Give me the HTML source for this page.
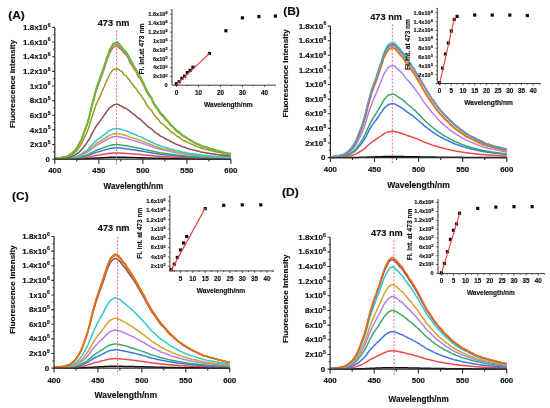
<!DOCTYPE html>
<html><head><meta charset="utf-8"><style>
html,body{margin:0;padding:0;background:#fff;}
svg{display:block;}
</style></head><body>
<svg width="550" height="408" viewBox="0 0 550 408">
<defs><filter id="soft" x="0" y="0" width="100%" height="100%" filterUnits="userSpaceOnUse"><feGaussianBlur stdDeviation="0.35"/></filter></defs>
<rect width="550" height="408" fill="#ffffff"/>
<g filter="url(#soft)">
<path d="M54.8,159.19 L55.68,159.19 L56.56,159.19 L57.44,159.18 L58.32,159.18 L59.2,159.18 L60.08,159.18 L60.96,159.18 L61.84,159.17 L62.72,159.17 L63.6,159.16 L64.49,159.16 L65.37,159.16 L66.25,159.16 L67.13,159.15 L68.01,159.14 L68.89,159.14 L69.77,159.13 L70.65,159.12 L71.53,159.1 L72.41,159.09 L73.29,159.08 L74.17,159.06 L75.05,159.05 L75.93,159.03 L76.81,159.01 L77.69,158.98 L78.57,158.96 L79.45,158.93 L80.33,158.91 L81.22,158.87 L82.1,158.84 L82.98,158.79 L83.86,158.75 L84.74,158.71 L85.62,158.68 L86.5,158.63 L87.38,158.59 L88.26,158.54 L89.14,158.49 L90.02,158.42 L90.9,158.35 L91.78,158.29 L92.66,158.24 L93.54,158.18 L94.42,158.12 L95.3,158.06 L96.18,158.01 L97.06,157.96 L97.94,157.92 L98.83,157.88 L99.71,157.84 L100.59,157.8 L101.47,157.75 L102.35,157.71 L103.23,157.67 L104.11,157.63 L104.99,157.58 L105.87,157.53 L106.75,157.49 L107.63,157.44 L108.51,157.41 L109.39,157.36 L110.27,157.33 L111.15,157.3 L112.03,157.28 L112.91,157.25 L113.79,157.24 L114.67,157.24 L115.55,157.23 L116.44,157.22 L117.32,157.22 L118.2,157.23 L119.08,157.24 L119.96,157.26 L120.84,157.26 L121.72,157.28 L122.6,157.3 L123.48,157.34 L124.36,157.35 L125.24,157.36 L126.12,157.37 L127,157.39 L127.88,157.41 L128.76,157.43 L129.64,157.47 L130.52,157.49 L131.4,157.51 L132.28,157.54 L133.16,157.56 L134.05,157.59 L134.93,157.6 L135.81,157.61 L136.69,157.64 L137.57,157.67 L138.45,157.7 L139.33,157.72 L140.21,157.74 L141.09,157.76 L141.97,157.79 L142.85,157.82 L143.73,157.85 L144.61,157.87 L145.49,157.9 L146.37,157.93 L147.25,157.96 L148.13,157.98 L149.01,158.01 L149.89,158.02 L150.77,158.05 L151.66,158.07 L152.54,158.12 L153.42,158.15 L154.3,158.17 L155.18,158.18 L156.06,158.21 L156.94,158.23 L157.82,158.25 L158.7,158.27 L159.58,158.3 L160.46,158.33 L161.34,158.35 L162.22,158.36 L163.1,158.37 L163.98,158.39 L164.86,158.41 L165.74,158.43 L166.62,158.43 L167.5,158.45 L168.38,158.47 L169.27,158.49 L170.15,158.51 L171.03,158.54 L171.91,158.55 L172.79,158.56 L173.67,158.58 L174.55,158.6 L175.43,158.61 L176.31,158.62 L177.19,158.64 L178.07,158.65 L178.95,158.66 L179.83,158.67 L180.71,158.68 L181.59,158.7 L182.47,158.72 L183.35,158.73 L184.23,158.74 L185.11,158.74 L185.99,158.76 L186.88,158.77 L187.76,158.78 L188.64,158.79 L189.52,158.8 L190.4,158.81 L191.28,158.82 L192.16,158.83 L193.04,158.84 L193.92,158.85 L194.8,158.85 L195.68,158.86 L196.56,158.87 L197.44,158.88 L198.32,158.88 L199.2,158.89 L200.08,158.9 L200.96,158.91 L201.84,158.92 L202.72,158.92 L203.6,158.93 L204.49,158.93 L205.37,158.94 L206.25,158.95 L207.13,158.95 L208.01,158.96 L208.89,158.97 L209.77,158.97 L210.65,158.98 L211.53,158.98 L212.41,158.99 L213.29,158.98 L214.17,158.99 L215.05,159 L215.93,159.01 L216.81,159.01 L217.69,159.01 L218.57,159.02 L219.45,159.02 L220.33,159.03 L221.21,159.03 L222.1,159.03 L222.98,159.04 L223.86,159.04 L224.74,159.05 L225.62,159.06 L226.5,159.06 L227.38,159.06 L228.26,159.06 L229.14,159.06 L230.02,159.07 L230.9,159.07" fill="none" stroke="#111111" stroke-width="1.5" stroke-linejoin="round"/>
<path d="M54.8,159.16 L55.68,159.15 L56.56,159.15 L57.44,159.14 L58.32,159.14 L59.2,159.13 L60.08,159.13 L60.96,159.12 L61.84,159.1 L62.72,159.1 L63.6,159.08 L64.49,159.08 L65.37,159.06 L66.25,159.06 L67.13,159.04 L68.01,159.02 L68.89,158.99 L69.77,158.96 L70.65,158.93 L71.53,158.89 L72.41,158.85 L73.29,158.8 L74.17,158.76 L75.05,158.71 L75.93,158.65 L76.81,158.58 L77.69,158.51 L78.57,158.43 L79.45,158.35 L80.33,158.26 L81.22,158.16 L82.1,158.04 L82.98,157.9 L83.86,157.77 L84.74,157.64 L85.62,157.54 L86.5,157.39 L87.38,157.27 L88.26,157.09 L89.14,156.93 L90.02,156.72 L90.9,156.52 L91.78,156.32 L92.66,156.13 L93.54,155.96 L94.42,155.76 L95.3,155.58 L96.18,155.41 L97.06,155.25 L97.94,155.13 L98.83,155.02 L99.71,154.9 L100.59,154.74 L101.47,154.58 L102.35,154.44 L103.23,154.31 L104.11,154.2 L104.99,154.03 L105.87,153.89 L106.75,153.72 L107.63,153.59 L108.51,153.48 L109.39,153.34 L110.27,153.27 L111.15,153.16 L112.03,153.07 L112.91,152.96 L113.79,152.95 L114.67,152.98 L115.55,152.96 L116.44,152.93 L117.32,152.9 L118.2,152.94 L119.08,152.97 L119.96,153.04 L120.84,153.06 L121.72,153.13 L122.6,153.17 L123.48,153.26 L124.36,153.3 L125.24,153.36 L126.12,153.38 L127,153.44 L127.88,153.51 L128.76,153.6 L129.64,153.7 L130.52,153.78 L131.4,153.81 L132.28,153.89 L133.16,153.95 L134.05,154.04 L134.93,154.09 L135.81,154.15 L136.69,154.24 L137.57,154.34 L138.45,154.44 L139.33,154.48 L140.21,154.53 L141.09,154.59 L141.97,154.7 L142.85,154.79 L143.73,154.89 L144.61,154.95 L145.49,155.05 L146.37,155.14 L147.25,155.24 L148.13,155.32 L149.01,155.41 L149.89,155.48 L150.77,155.55 L151.66,155.6 L152.54,155.74 L153.42,155.83 L154.3,155.94 L155.18,155.98 L156.06,156.07 L156.94,156.13 L157.82,156.2 L158.7,156.25 L159.58,156.34 L160.46,156.43 L161.34,156.48 L162.22,156.53 L163.1,156.55 L163.98,156.61 L164.86,156.67 L165.74,156.75 L166.62,156.79 L167.5,156.85 L168.38,156.89 L169.27,156.97 L170.15,157.03 L171.03,157.1 L171.91,157.13 L172.79,157.16 L173.67,157.2 L174.55,157.27 L175.43,157.32 L176.31,157.37 L177.19,157.42 L178.07,157.46 L178.95,157.48 L179.83,157.51 L180.71,157.56 L181.59,157.63 L182.47,157.68 L183.35,157.71 L184.23,157.73 L185.11,157.76 L185.99,157.8 L186.88,157.84 L187.76,157.87 L188.64,157.91 L189.52,157.94 L190.4,157.97 L191.28,158 L192.16,158.02 L193.04,158.05 L193.92,158.07 L194.8,158.09 L195.68,158.13 L196.56,158.16 L197.44,158.18 L198.32,158.19 L199.2,158.2 L200.08,158.25 L200.96,158.27 L201.84,158.31 L202.72,158.32 L203.6,158.34 L204.49,158.35 L205.37,158.38 L206.25,158.4 L207.13,158.42 L208.01,158.44 L208.89,158.45 L209.77,158.48 L210.65,158.5 L211.53,158.51 L212.41,158.52 L213.29,158.52 L214.17,158.54 L215.05,158.56 L215.93,158.59 L216.81,158.6 L217.69,158.61 L218.57,158.62 L219.45,158.64 L220.33,158.64 L221.21,158.66 L222.1,158.67 L222.98,158.69 L223.86,158.71 L224.74,158.73 L225.62,158.74 L226.5,158.75 L227.38,158.75 L228.26,158.76 L229.14,158.77 L230.02,158.78 L230.9,158.79" fill="none" stroke="#f04848" stroke-width="1.5" stroke-linejoin="round"/>
<path d="M54.8,159.12 L55.68,159.11 L56.56,159.11 L57.44,159.1 L58.32,159.09 L59.2,159.09 L60.08,159.08 L60.96,159.06 L61.84,159.03 L62.72,159.01 L63.6,158.99 L64.49,158.98 L65.37,158.96 L66.25,158.93 L67.13,158.9 L68.01,158.87 L68.89,158.83 L69.77,158.77 L70.65,158.71 L71.53,158.65 L72.41,158.58 L73.29,158.5 L74.17,158.41 L75.05,158.33 L75.93,158.22 L76.81,158.08 L77.69,157.95 L78.57,157.81 L79.45,157.66 L80.33,157.49 L81.22,157.3 L82.1,157.09 L82.98,156.84 L83.86,156.61 L84.74,156.39 L85.62,156.19 L86.5,155.95 L87.38,155.7 L88.26,155.41 L89.14,155.1 L90.02,154.73 L90.9,154.34 L91.78,153.99 L92.66,153.67 L93.54,153.34 L94.42,153.01 L95.3,152.7 L96.18,152.4 L97.06,152.12 L97.94,151.89 L98.83,151.67 L99.71,151.44 L100.59,151.17 L101.47,150.88 L102.35,150.64 L103.23,150.36 L104.11,150.17 L104.99,149.89 L105.87,149.66 L106.75,149.38 L107.63,149.15 L108.51,148.94 L109.39,148.66 L110.27,148.48 L111.15,148.28 L112.03,148.18 L112.91,148 L113.79,147.99 L114.67,147.94 L115.55,147.93 L116.44,147.85 L117.32,147.79 L118.2,147.86 L119.08,147.87 L119.96,148.05 L120.84,148.09 L121.72,148.22 L122.6,148.29 L123.48,148.48 L124.36,148.56 L125.24,148.67 L126.12,148.71 L127,148.83 L127.88,148.94 L128.76,149.1 L129.64,149.3 L130.52,149.45 L131.4,149.51 L132.28,149.63 L133.16,149.76 L134.05,149.96 L134.93,150.03 L135.81,150.14 L136.69,150.28 L137.57,150.48 L138.45,150.66 L139.33,150.74 L140.21,150.83 L141.09,150.94 L141.97,151.11 L142.85,151.27 L143.73,151.46 L144.61,151.6 L145.49,151.79 L146.37,151.92 L147.25,152.11 L148.13,152.26 L149.01,152.42 L149.89,152.52 L150.77,152.63 L151.66,152.78 L152.54,152.99 L153.42,153.19 L154.3,153.35 L155.18,153.43 L156.06,153.57 L156.94,153.66 L157.82,153.81 L158.7,153.9 L159.58,154.08 L160.46,154.22 L161.34,154.32 L162.22,154.41 L163.1,154.46 L163.98,154.58 L164.86,154.68 L165.74,154.83 L166.62,154.89 L167.5,154.98 L168.38,155.05 L169.27,155.19 L170.15,155.31 L171.03,155.45 L171.91,155.5 L172.79,155.56 L173.67,155.64 L174.55,155.75 L175.43,155.84 L176.31,155.93 L177.19,156.02 L178.07,156.1 L178.95,156.12 L179.83,156.18 L180.71,156.27 L181.59,156.39 L182.47,156.5 L183.35,156.55 L184.23,156.6 L185.11,156.64 L185.99,156.7 L186.88,156.76 L187.76,156.81 L188.64,156.88 L189.52,156.94 L190.4,157 L191.28,157.05 L192.16,157.1 L193.04,157.17 L193.92,157.21 L194.8,157.23 L195.68,157.25 L196.56,157.3 L197.44,157.35 L198.32,157.39 L199.2,157.42 L200.08,157.51 L200.96,157.56 L201.84,157.62 L202.72,157.63 L203.6,157.67 L204.49,157.7 L205.37,157.74 L206.25,157.78 L207.13,157.82 L208.01,157.86 L208.89,157.89 L209.77,157.92 L210.65,157.94 L211.53,157.96 L212.41,157.99 L213.29,157.99 L214.17,158.03 L215.05,158.06 L215.93,158.11 L216.81,158.13 L217.69,158.15 L218.57,158.17 L219.45,158.2 L220.33,158.21 L221.21,158.24 L222.1,158.25 L222.98,158.3 L223.86,158.34 L224.74,158.38 L225.62,158.4 L226.5,158.4 L227.38,158.41 L228.26,158.41 L229.14,158.43 L230.02,158.45 L230.9,158.47" fill="none" stroke="#3b74e6" stroke-width="1.5" stroke-linejoin="round"/>
<path d="M54.8,159.1 L55.68,159.09 L56.56,159.09 L57.44,159.07 L58.32,159.06 L59.2,159.05 L60.08,159.03 L60.96,159.02 L61.84,158.98 L62.72,158.96 L63.6,158.93 L64.49,158.92 L65.37,158.9 L66.25,158.87 L67.13,158.83 L68.01,158.77 L68.89,158.71 L69.77,158.63 L70.65,158.56 L71.53,158.47 L72.41,158.38 L73.29,158.28 L74.17,158.18 L75.05,158.08 L75.93,157.94 L76.81,157.77 L77.69,157.61 L78.57,157.42 L79.45,157.24 L80.33,157.01 L81.22,156.75 L82.1,156.48 L82.98,156.19 L83.86,155.9 L84.74,155.61 L85.62,155.35 L86.5,155.02 L87.38,154.7 L88.26,154.31 L89.14,153.9 L90.02,153.4 L90.9,152.9 L91.78,152.46 L92.66,152.03 L93.54,151.64 L94.42,151.19 L95.3,150.81 L96.18,150.39 L97.06,150.05 L97.94,149.76 L98.83,149.5 L99.71,149.18 L100.59,148.85 L101.47,148.51 L102.35,148.22 L103.23,147.86 L104.11,147.59 L104.99,147.2 L105.87,146.87 L106.75,146.47 L107.63,146.14 L108.51,145.91 L109.39,145.62 L110.27,145.45 L111.15,145.19 L112.03,144.98 L112.91,144.73 L113.79,144.7 L114.67,144.7 L115.55,144.68 L116.44,144.59 L117.32,144.51 L118.2,144.66 L119.08,144.69 L119.96,144.9 L120.84,144.9 L121.72,145.07 L122.6,145.18 L123.48,145.44 L124.36,145.49 L125.24,145.58 L126.12,145.64 L127,145.84 L127.88,146.02 L128.76,146.19 L129.64,146.42 L130.52,146.62 L131.4,146.73 L132.28,146.87 L133.16,147.02 L134.05,147.25 L134.93,147.37 L135.81,147.49 L136.69,147.7 L137.57,147.93 L138.45,148.13 L139.33,148.22 L140.21,148.37 L141.09,148.54 L141.97,148.82 L142.85,149.04 L143.73,149.25 L144.61,149.42 L145.49,149.62 L146.37,149.84 L147.25,150.04 L148.13,150.22 L149.01,150.44 L149.89,150.6 L150.77,150.76 L151.66,150.91 L152.54,151.2 L153.42,151.41 L154.3,151.61 L155.18,151.72 L156.06,151.96 L156.94,152.09 L157.82,152.27 L158.7,152.44 L159.58,152.66 L160.46,152.85 L161.34,152.91 L162.22,153.01 L163.1,153.09 L163.98,153.27 L164.86,153.39 L165.74,153.57 L166.62,153.65 L167.5,153.78 L168.38,153.87 L169.27,154.05 L170.15,154.19 L171.03,154.34 L171.91,154.39 L172.79,154.51 L173.67,154.6 L174.55,154.77 L175.43,154.85 L176.31,154.99 L177.19,155.1 L178.07,155.21 L178.95,155.24 L179.83,155.32 L180.71,155.43 L181.59,155.59 L182.47,155.71 L183.35,155.78 L184.23,155.82 L185.11,155.88 L185.99,155.97 L186.88,156.07 L187.76,156.15 L188.64,156.26 L189.52,156.32 L190.4,156.39 L191.28,156.43 L192.16,156.51 L193.04,156.57 L193.92,156.61 L194.8,156.64 L195.68,156.7 L196.56,156.78 L197.44,156.82 L198.32,156.87 L199.2,156.9 L200.08,157.01 L200.96,157.07 L201.84,157.15 L202.72,157.18 L203.6,157.24 L204.49,157.28 L205.37,157.32 L206.25,157.37 L207.13,157.41 L208.01,157.46 L208.89,157.51 L209.77,157.55 L210.65,157.61 L211.53,157.61 L212.41,157.63 L213.29,157.63 L214.17,157.68 L215.05,157.75 L215.93,157.8 L216.81,157.83 L217.69,157.86 L218.57,157.88 L219.45,157.93 L220.33,157.92 L221.21,157.97 L222.1,157.98 L222.98,158.04 L223.86,158.06 L224.74,158.11 L225.62,158.16 L226.5,158.19 L227.38,158.19 L228.26,158.2 L229.14,158.22 L230.02,158.26 L230.9,158.28" fill="none" stroke="#3aa86a" stroke-width="1.5" stroke-linejoin="round"/>
<path d="M54.8,159.04 L55.68,159.03 L56.56,159.03 L57.44,159 L58.32,158.99 L59.2,158.98 L60.08,158.95 L60.96,158.92 L61.84,158.86 L62.72,158.82 L63.6,158.78 L64.49,158.77 L65.37,158.73 L66.25,158.69 L67.13,158.63 L68.01,158.55 L68.89,158.45 L69.77,158.34 L70.65,158.23 L71.53,158.09 L72.41,157.94 L73.29,157.77 L74.17,157.61 L75.05,157.47 L75.93,157.27 L76.81,157 L77.69,156.73 L78.57,156.43 L79.45,156.13 L80.33,155.8 L81.22,155.42 L82.1,154.98 L82.98,154.47 L83.86,153.99 L84.74,153.55 L85.62,153.2 L86.5,152.69 L87.38,152.21 L88.26,151.59 L89.14,150.96 L90.02,150.25 L90.9,149.54 L91.78,148.89 L92.66,148.2 L93.54,147.5 L94.42,146.75 L95.3,146.13 L96.18,145.57 L97.06,145.03 L97.94,144.54 L98.83,144.12 L99.71,143.66 L100.59,143.13 L101.47,142.53 L102.35,142.09 L103.23,141.55 L104.11,141.15 L104.99,140.59 L105.87,140.09 L106.75,139.54 L107.63,139 L108.51,138.63 L109.39,138.11 L110.27,137.85 L111.15,137.45 L112.03,137.11 L112.91,136.72 L113.79,136.71 L114.67,136.73 L115.55,136.74 L116.44,136.58 L117.32,136.54 L118.2,136.7 L119.08,136.75 L119.96,137.01 L120.84,137.06 L121.72,137.28 L122.6,137.43 L123.48,137.78 L124.36,137.9 L125.24,138.05 L126.12,138.16 L127,138.45 L127.88,138.69 L128.76,139.02 L129.64,139.38 L130.52,139.7 L131.4,139.87 L132.28,140.13 L133.16,140.38 L134.05,140.71 L134.93,140.9 L135.81,141.12 L136.69,141.42 L137.57,141.82 L138.45,142.18 L139.33,142.34 L140.21,142.46 L141.09,142.77 L141.97,143.2 L142.85,143.54 L143.73,143.84 L144.61,144.07 L145.49,144.43 L146.37,144.7 L147.25,145.1 L148.13,145.37 L149.01,145.67 L149.89,145.88 L150.77,146.14 L151.66,146.39 L152.54,146.83 L153.42,147.19 L154.3,147.58 L155.18,147.77 L156.06,148.09 L156.94,148.24 L157.82,148.44 L158.7,148.66 L159.58,148.99 L160.46,149.32 L161.34,149.54 L162.22,149.72 L163.1,149.83 L163.98,150.03 L164.86,150.26 L165.74,150.55 L166.62,150.71 L167.5,150.88 L168.38,151.05 L169.27,151.31 L170.15,151.53 L171.03,151.76 L171.91,151.84 L172.79,152.02 L173.67,152.21 L174.55,152.45 L175.43,152.58 L176.31,152.7 L177.19,152.88 L178.07,153.04 L178.95,153.12 L179.83,153.28 L180.71,153.47 L181.59,153.7 L182.47,153.86 L183.35,153.93 L184.23,154.04 L185.11,154.13 L185.99,154.27 L186.88,154.4 L187.76,154.52 L188.64,154.71 L189.52,154.83 L190.4,154.9 L191.28,154.96 L192.16,155.04 L193.04,155.17 L193.92,155.25 L194.8,155.32 L195.68,155.4 L196.56,155.51 L197.44,155.6 L198.32,155.65 L199.2,155.7 L200.08,155.85 L200.96,155.93 L201.84,156.07 L202.72,156.13 L203.6,156.23 L204.49,156.27 L205.37,156.31 L206.25,156.41 L207.13,156.47 L208.01,156.55 L208.89,156.62 L209.77,156.68 L210.65,156.76 L211.53,156.78 L212.41,156.83 L213.29,156.83 L214.17,156.9 L215.05,156.98 L215.93,157.06 L216.81,157.1 L217.69,157.15 L218.57,157.21 L219.45,157.28 L220.33,157.29 L221.21,157.35 L222.1,157.37 L222.98,157.43 L223.86,157.48 L224.74,157.53 L225.62,157.58 L226.5,157.61 L227.38,157.63 L228.26,157.65 L229.14,157.69 L230.02,157.73 L230.9,157.79" fill="none" stroke="#b27ef0" stroke-width="1.5" stroke-linejoin="round"/>
<path d="M54.8,159.02 L55.68,159 L56.56,159 L57.44,158.97 L58.32,158.95 L59.2,158.94 L60.08,158.92 L60.96,158.89 L61.84,158.82 L62.72,158.78 L63.6,158.73 L64.49,158.7 L65.37,158.66 L66.25,158.61 L67.13,158.55 L68.01,158.47 L68.89,158.37 L69.77,158.23 L70.65,158.1 L71.53,157.95 L72.41,157.77 L73.29,157.6 L74.17,157.42 L75.05,157.26 L75.93,157 L76.81,156.67 L77.69,156.39 L78.57,156.09 L79.45,155.75 L80.33,155.38 L81.22,154.96 L82.1,154.48 L82.98,153.92 L83.86,153.36 L84.74,152.86 L85.62,152.4 L86.5,151.83 L87.38,151.27 L88.26,150.6 L89.14,149.9 L90.02,149.02 L90.9,148.17 L91.78,147.4 L92.66,146.69 L93.54,145.99 L94.42,145.22 L95.3,144.48 L96.18,143.78 L97.06,143.12 L97.94,142.62 L98.83,142.13 L99.71,141.64 L100.59,141.08 L101.47,140.5 L102.35,139.99 L103.23,139.35 L104.11,138.85 L104.99,138.18 L105.87,137.6 L106.75,136.96 L107.63,136.45 L108.51,136.05 L109.39,135.4 L110.27,135.08 L111.15,134.66 L112.03,134.37 L112.91,133.88 L113.79,133.78 L114.67,133.8 L115.55,133.79 L116.44,133.66 L117.32,133.54 L118.2,133.73 L119.08,133.77 L119.96,134.09 L120.84,134.14 L121.72,134.36 L122.6,134.54 L123.48,135.03 L124.36,135.2 L125.24,135.46 L126.12,135.55 L127,135.85 L127.88,136.12 L128.76,136.45 L129.64,136.83 L130.52,137.18 L131.4,137.38 L132.28,137.73 L133.16,137.96 L134.05,138.32 L134.93,138.58 L135.81,138.87 L136.69,139.25 L137.57,139.57 L138.45,139.88 L139.33,140.04 L140.21,140.26 L141.09,140.61 L141.97,141.04 L142.85,141.43 L143.73,141.83 L144.61,142.14 L145.49,142.55 L146.37,142.89 L147.25,143.29 L148.13,143.6 L149.01,143.93 L149.89,144.21 L150.77,144.53 L151.66,144.78 L152.54,145.27 L153.42,145.67 L154.3,146.09 L155.18,146.26 L156.06,146.62 L156.94,146.84 L157.82,147.09 L158.7,147.34 L159.58,147.71 L160.46,148.13 L161.34,148.35 L162.22,148.5 L163.1,148.62 L163.98,148.88 L164.86,149.16 L165.74,149.46 L166.62,149.58 L167.5,149.8 L168.38,149.97 L169.27,150.31 L170.15,150.54 L171.03,150.83 L171.91,150.93 L172.79,151.12 L173.67,151.31 L174.55,151.57 L175.43,151.77 L176.31,151.96 L177.19,152.15 L178.07,152.28 L178.95,152.36 L179.83,152.52 L180.71,152.73 L181.59,153.01 L182.47,153.2 L183.35,153.31 L184.23,153.39 L185.11,153.51 L185.99,153.66 L186.88,153.85 L187.76,153.95 L188.64,154.13 L189.52,154.23 L190.4,154.37 L191.28,154.46 L192.16,154.56 L193.04,154.66 L193.92,154.77 L194.8,154.84 L195.68,154.95 L196.56,155.04 L197.44,155.15 L198.32,155.23 L199.2,155.29 L200.08,155.48 L200.96,155.57 L201.84,155.72 L202.72,155.76 L203.6,155.87 L204.49,155.93 L205.37,155.99 L206.25,156.06 L207.13,156.12 L208.01,156.2 L208.89,156.29 L209.77,156.38 L210.65,156.46 L211.53,156.48 L212.41,156.52 L213.29,156.52 L214.17,156.61 L215.05,156.7 L215.93,156.78 L216.81,156.82 L217.69,156.87 L218.57,156.94 L219.45,157.01 L220.33,157.03 L221.21,157.1 L222.1,157.15 L222.98,157.23 L223.86,157.3 L224.74,157.37 L225.62,157.43 L226.5,157.45 L227.38,157.47 L228.26,157.5 L229.14,157.55 L230.02,157.58 L230.9,157.63" fill="none" stroke="#d4a22c" stroke-width="1.5" stroke-linejoin="round"/>
<path d="M54.8,159 L55.68,158.97 L56.56,158.97 L57.44,158.93 L58.32,158.9 L59.2,158.89 L60.08,158.86 L60.96,158.83 L61.84,158.74 L62.72,158.69 L63.6,158.63 L64.49,158.61 L65.37,158.56 L66.25,158.49 L67.13,158.42 L68.01,158.31 L68.89,158.2 L69.77,158.05 L70.65,157.89 L71.53,157.7 L72.41,157.48 L73.29,157.25 L74.17,157.05 L75.05,156.85 L75.93,156.56 L76.81,156.18 L77.69,155.82 L78.57,155.44 L79.45,155 L80.33,154.59 L81.22,154.09 L82.1,153.53 L82.98,152.88 L83.86,152.23 L84.74,151.65 L85.62,151.13 L86.5,150.46 L87.38,149.8 L88.26,148.92 L89.14,148.02 L90.02,147.01 L90.9,146.04 L91.78,145.09 L92.66,144.16 L93.54,143.24 L94.42,142.4 L95.3,141.55 L96.18,140.76 L97.06,139.97 L97.94,139.35 L98.83,138.78 L99.71,138.18 L100.59,137.42 L101.47,136.64 L102.35,136.01 L103.23,135.37 L104.11,134.83 L104.99,134.08 L105.87,133.33 L106.75,132.5 L107.63,131.77 L108.51,131.25 L109.39,130.6 L110.27,130.24 L111.15,129.77 L112.03,129.46 L112.91,129.03 L113.79,128.92 L114.67,128.83 L115.55,128.65 L116.44,128.47 L117.32,128.38 L118.2,128.69 L119.08,128.72 L119.96,129.11 L120.84,129.15 L121.72,129.52 L122.6,129.67 L123.48,130.19 L124.36,130.38 L125.24,130.63 L126.12,130.78 L127,131.08 L127.88,131.45 L128.76,131.81 L129.64,132.32 L130.52,132.73 L131.4,133.03 L132.28,133.43 L133.16,133.79 L134.05,134.23 L134.93,134.46 L135.81,134.77 L136.69,135.23 L137.57,135.73 L138.45,136.14 L139.33,136.36 L140.21,136.6 L141.09,136.96 L141.97,137.53 L142.85,138.02 L143.73,138.47 L144.61,138.73 L145.49,139.23 L146.37,139.62 L147.25,140.18 L148.13,140.55 L149.01,141.04 L149.89,141.31 L150.77,141.64 L151.66,141.94 L152.54,142.56 L153.42,143.01 L154.3,143.52 L155.18,143.74 L156.06,144.19 L156.94,144.44 L157.82,144.73 L158.7,145.08 L159.58,145.53 L160.46,145.97 L161.34,146.2 L162.22,146.43 L163.1,146.59 L163.98,146.88 L164.86,147.12 L165.74,147.48 L166.62,147.67 L167.5,147.95 L168.38,148.19 L169.27,148.62 L170.15,148.9 L171.03,149.2 L171.91,149.3 L172.79,149.54 L173.67,149.8 L174.55,150.13 L175.43,150.36 L176.31,150.6 L177.19,150.79 L178.07,151.01 L178.95,151.06 L179.83,151.22 L180.71,151.41 L181.59,151.75 L182.47,151.99 L183.35,152.18 L184.23,152.3 L185.11,152.43 L185.99,152.57 L186.88,152.75 L187.76,152.9 L188.64,153.13 L189.52,153.3 L190.4,153.45 L191.28,153.53 L192.16,153.65 L193.04,153.79 L193.92,153.91 L194.8,154 L195.68,154.11 L196.56,154.22 L197.44,154.32 L198.32,154.41 L199.2,154.52 L200.08,154.76 L200.96,154.9 L201.84,155.09 L202.72,155.15 L203.6,155.24 L204.49,155.27 L205.37,155.35 L206.25,155.46 L207.13,155.57 L208.01,155.68 L208.89,155.79 L209.77,155.89 L210.65,155.96 L211.53,155.97 L212.41,156.02 L213.29,156.03 L214.17,156.16 L215.05,156.25 L215.93,156.37 L216.81,156.4 L217.69,156.48 L218.57,156.54 L219.45,156.61 L220.33,156.61 L221.21,156.68 L222.1,156.73 L222.98,156.85 L223.86,156.95 L224.74,157.05 L225.62,157.09 L226.5,157.09 L227.38,157.14 L228.26,157.19 L229.14,157.26 L230.02,157.29 L230.9,157.34" fill="none" stroke="#2ec8cc" stroke-width="1.5" stroke-linejoin="round"/>
<path d="M54.8,158.82 L55.68,158.79 L56.56,158.78 L57.44,158.73 L58.32,158.69 L59.2,158.67 L60.08,158.6 L60.96,158.55 L61.84,158.39 L62.72,158.3 L63.6,158.19 L64.49,158.14 L65.37,158.05 L66.25,157.94 L67.13,157.8 L68.01,157.58 L68.89,157.35 L69.77,157.06 L70.65,156.82 L71.53,156.5 L72.41,156.13 L73.29,155.72 L74.17,155.31 L75.05,154.95 L75.93,154.4 L76.81,153.69 L77.69,153.07 L78.57,152.4 L79.45,151.74 L80.33,150.92 L81.22,150.03 L82.1,148.99 L82.98,147.85 L83.86,146.73 L84.74,145.68 L85.62,144.73 L86.5,143.42 L87.38,142.22 L88.26,140.72 L89.14,139.26 L90.02,137.59 L90.9,135.8 L91.78,134.12 L92.66,132.37 L93.54,130.75 L94.42,129.11 L95.3,127.61 L96.18,126.29 L97.06,124.92 L97.94,123.81 L98.83,122.71 L99.71,121.63 L100.59,120.4 L101.47,119.08 L102.35,117.89 L103.23,116.53 L104.11,115.41 L104.99,114.04 L105.87,112.76 L106.75,111.43 L107.63,110.13 L108.51,109.23 L109.39,107.89 L110.27,107.4 L111.15,106.58 L112.03,106.17 L112.91,105.37 L113.79,105.05 L114.67,104.69 L115.55,104.5 L116.44,104.31 L117.32,104.19 L118.2,104.66 L119.08,104.7 L119.96,105.52 L120.84,105.67 L121.72,106.56 L122.6,106.83 L123.48,107.7 L124.36,107.73 L125.24,108.28 L126.12,108.51 L127,109.24 L127.88,109.8 L128.76,110.47 L129.64,111.2 L130.52,111.91 L131.4,112.46 L132.28,113.27 L133.16,113.91 L134.05,114.71 L134.93,115.2 L135.81,115.78 L136.69,116.66 L137.57,117.59 L138.45,118.29 L139.33,118.73 L140.21,119.18 L141.09,119.95 L141.97,120.9 L142.85,121.73 L143.73,122.69 L144.61,123.31 L145.49,124.29 L146.37,125.01 L147.25,125.93 L148.13,126.57 L149.01,127.34 L149.89,127.93 L150.77,128.46 L151.66,129.02 L152.54,130.07 L153.42,131 L154.3,131.81 L155.18,132.22 L156.06,133.03 L156.94,133.55 L157.82,134.06 L158.7,134.6 L159.58,135.33 L160.46,136.07 L161.34,136.48 L162.22,136.85 L163.1,137.15 L163.98,137.73 L164.86,138.26 L165.74,138.91 L166.62,139.2 L167.5,139.69 L168.38,139.99 L169.27,140.67 L170.15,141.19 L171.03,141.9 L171.91,142.1 L172.79,142.49 L173.67,142.88 L174.55,143.51 L175.43,143.89 L176.31,144.24 L177.19,144.67 L178.07,145.08 L178.95,145.23 L179.83,145.46 L180.71,145.89 L181.59,146.5 L182.47,146.9 L183.35,147.12 L184.23,147.31 L185.11,147.57 L185.99,147.89 L186.88,148.2 L187.76,148.43 L188.64,148.79 L189.52,149.06 L190.4,149.27 L191.28,149.42 L192.16,149.62 L193.04,149.94 L193.92,150.12 L194.8,150.32 L195.68,150.47 L196.56,150.74 L197.44,150.98 L198.32,151.22 L199.2,151.36 L200.08,151.72 L200.96,151.91 L201.84,152.22 L202.72,152.28 L203.6,152.43 L204.49,152.52 L205.37,152.63 L206.25,152.86 L207.13,152.99 L208.01,153.24 L208.89,153.35 L209.77,153.53 L210.65,153.67 L211.53,153.68 L212.41,153.73 L213.29,153.68 L214.17,153.95 L215.05,154.16 L215.93,154.37 L216.81,154.43 L217.69,154.59 L218.57,154.72 L219.45,154.89 L220.33,154.92 L221.21,155.02 L222.1,155.05 L222.98,155.24 L223.86,155.42 L224.74,155.59 L225.62,155.69 L226.5,155.72 L227.38,155.78 L228.26,155.84 L229.14,155.93 L230.02,156.02 L230.9,156.12" fill="none" stroke="#8a4f4f" stroke-width="1.5" stroke-linejoin="round"/>
<path d="M54.8,158.6 L55.68,158.55 L56.56,158.53 L57.44,158.41 L58.32,158.34 L59.2,158.28 L60.08,158.19 L60.96,158.09 L61.84,157.82 L62.72,157.65 L63.6,157.5 L64.49,157.44 L65.37,157.27 L66.25,157.09 L67.13,156.89 L68.01,156.6 L68.89,156.26 L69.77,155.78 L70.65,155.3 L71.53,154.75 L72.41,154.16 L73.29,153.53 L74.17,152.88 L75.05,152.28 L75.93,151.46 L76.81,150.38 L77.69,149.29 L78.57,148.18 L79.45,146.86 L80.33,145.51 L81.22,143.95 L82.1,142.34 L82.98,140.35 L83.86,138.36 L84.74,136.52 L85.62,135.12 L86.5,133.23 L87.38,131.36 L88.26,128.9 L89.14,126.36 L90.02,123.29 L90.9,120.45 L91.78,117.67 L92.66,115.04 L93.54,112.28 L94.42,109.39 L95.3,107.01 L96.18,104.61 L97.06,102.55 L97.94,100.59 L98.83,98.88 L99.71,97.15 L100.59,94.94 L101.47,92.84 L102.35,91 L103.23,88.89 L104.11,86.91 L104.99,84.38 L105.87,82.49 L106.75,80.48 L107.63,78.68 L108.51,77.15 L109.39,74.94 L110.27,73.65 L111.15,72.11 L112.03,71.14 L112.91,69.84 L113.79,69.68 L114.67,69.3 L115.55,69.27 L116.44,68.64 L117.32,68.64 L118.2,69.26 L119.08,69.74 L119.96,70.7 L120.84,70.91 L121.72,71.47 L122.6,72.42 L123.48,74.07 L124.36,74.84 L125.24,75.36 L126.12,75.71 L127,77.07 L127.88,78.07 L128.76,79.31 L129.64,80.53 L130.52,82.05 L131.4,82.75 L132.28,84.09 L133.16,85.11 L134.05,86.64 L134.93,87.27 L135.81,88.25 L136.69,89.61 L137.57,91.18 L138.45,92.43 L139.33,93.16 L140.21,94.09 L141.09,95.27 L141.97,96.91 L142.85,98.26 L143.73,99.58 L144.61,100.63 L145.49,102.3 L146.37,103.93 L147.25,105.53 L148.13,106.72 L149.01,108.02 L149.89,108.87 L150.77,109.86 L151.66,110.59 L152.54,112.48 L153.42,113.65 L154.3,115.21 L155.18,115.8 L156.06,117.25 L156.94,117.98 L157.82,118.88 L158.7,119.84 L159.58,121.28 L160.46,122.53 L161.34,123.29 L162.22,123.83 L163.1,124.23 L163.98,125.01 L164.86,125.84 L165.74,127.05 L166.62,127.62 L167.5,128.4 L168.38,129.06 L169.27,130.15 L170.15,131.07 L171.03,131.95 L171.91,132.38 L172.79,132.84 L173.67,133.41 L174.55,134.27 L175.43,134.99 L176.31,135.69 L177.19,136.28 L178.07,136.82 L178.95,137.09 L179.83,137.65 L180.71,138.29 L181.59,139.3 L182.47,139.92 L183.35,140.44 L184.23,140.57 L185.11,140.95 L185.99,141.38 L186.88,141.99 L187.76,142.36 L188.64,142.89 L189.52,143.2 L190.4,143.65 L191.28,144.02 L192.16,144.31 L193.04,144.69 L193.92,145.03 L194.8,145.46 L195.68,145.97 L196.56,146.27 L197.44,146.67 L198.32,146.9 L199.2,147.13 L200.08,147.72 L200.96,148.01 L201.84,148.49 L202.72,148.55 L203.6,148.79 L204.49,148.95 L205.37,149.18 L206.25,149.49 L207.13,149.64 L208.01,149.86 L208.89,150.02 L209.77,150.3 L210.65,150.59 L211.53,150.66 L212.41,150.89 L213.29,150.85 L214.17,151.21 L215.05,151.46 L215.93,151.84 L216.81,152.01 L217.69,152.17 L218.57,152.35 L219.45,152.56 L220.33,152.67 L221.21,152.93 L222.1,153.02 L222.98,153.35 L223.86,153.49 L224.74,153.76 L225.62,153.97 L226.5,154.07 L227.38,154.15 L228.26,154.24 L229.14,154.39 L230.02,154.51 L230.9,154.64" fill="none" stroke="#969a22" stroke-width="1.5" stroke-linejoin="round"/>
<path d="M54.8,158.41 L55.68,158.32 L56.56,158.33 L57.44,158.18 L58.32,158.12 L59.2,158.05 L60.08,157.93 L60.96,157.84 L61.84,157.56 L62.72,157.38 L63.6,157.16 L64.49,157.04 L65.37,156.83 L66.25,156.59 L67.13,156.29 L68.01,155.91 L68.89,155.44 L69.77,154.87 L70.65,154.29 L71.53,153.62 L72.41,152.88 L73.29,152.1 L74.17,151.33 L75.05,150.56 L75.93,149.44 L76.81,148.02 L77.69,146.64 L78.57,145.2 L79.45,143.6 L80.33,142.01 L81.22,140.11 L82.1,138.05 L82.98,135.56 L83.86,133.2 L84.74,130.93 L85.62,129.05 L86.5,126.51 L87.38,124.18 L88.26,121.14 L89.14,118 L90.02,114.19 L90.9,110.48 L91.78,107.03 L92.66,103.59 L93.54,100.47 L94.42,97.14 L95.3,94.08 L96.18,90.86 L97.06,88.19 L97.94,85.86 L98.83,83.76 L99.71,81.51 L100.59,78.74 L101.47,76.18 L102.35,73.79 L103.23,71.5 L104.11,69.2 L104.99,66.15 L105.87,63.53 L106.75,60.71 L107.63,58.32 L108.51,56.4 L109.39,53.52 L110.27,52.15 L111.15,50.32 L112.03,49.31 L112.91,47.48 L113.79,47.02 L114.67,46.78 L115.55,46.37 L116.44,46.14 L117.32,46.01 L118.2,47.14 L119.08,47.42 L119.96,48.7 L120.84,49.19 L121.72,50.14 L122.6,51.01 L123.48,52.7 L124.36,53.36 L125.24,54.14 L126.12,54.82 L127,56.19 L127.88,57.69 L128.76,59.53 L129.64,61.68 L130.52,63.58 L131.4,64.35 L132.28,66.07 L133.16,67.28 L134.05,69.28 L134.93,69.94 L135.81,71.13 L136.69,72.85 L137.57,74.91 L138.45,76.88 L139.33,77.76 L140.21,78.76 L141.09,80.31 L141.97,82.27 L142.85,84.13 L143.73,85.72 L144.61,87.44 L145.49,89.38 L146.37,91.07 L147.25,92.9 L148.13,94.47 L149.01,96 L149.89,96.83 L150.77,97.95 L151.66,99.09 L152.54,101.58 L153.42,103.36 L154.3,105.23 L155.18,106.07 L156.06,107.54 L156.94,108.52 L157.82,109.75 L158.7,110.97 L159.58,112.67 L160.46,114.07 L161.34,114.96 L162.22,115.73 L163.1,116.39 L163.98,117.65 L164.86,118.63 L165.74,120 L166.62,120.5 L167.5,121.47 L168.38,122.23 L169.27,123.86 L170.15,124.82 L171.03,125.92 L171.91,126.26 L172.79,127.12 L173.67,127.96 L174.55,129.12 L175.43,129.83 L176.31,130.66 L177.19,131.56 L178.07,132.47 L178.95,132.96 L179.83,133.43 L180.71,134.16 L181.59,135 L182.47,135.68 L183.35,136.25 L184.23,136.66 L185.11,137.12 L185.99,137.58 L186.88,138.24 L187.76,138.74 L188.64,139.47 L189.52,139.92 L190.4,140.46 L191.28,140.92 L192.16,141.53 L193.04,142.15 L193.92,142.63 L194.8,142.98 L195.68,143.37 L196.56,143.77 L197.44,144.14 L198.32,144.45 L199.2,144.67 L200.08,145.45 L200.96,145.81 L201.84,146.32 L202.72,146.44 L203.6,146.82 L204.49,147.06 L205.37,147.25 L206.25,147.55 L207.13,147.77 L208.01,148.09 L208.89,148.41 L209.77,148.71 L210.65,149.03 L211.53,149.09 L212.41,149.29 L213.29,149.31 L214.17,149.68 L215.05,150.09 L215.93,150.46 L216.81,150.64 L217.69,150.88 L218.57,151.19 L219.45,151.46 L220.33,151.5 L221.21,151.72 L222.1,151.89 L222.98,152.29 L223.86,152.53 L224.74,152.9 L225.62,153.15 L226.5,153.28 L227.38,153.36 L228.26,153.5 L229.14,153.6 L230.02,153.7 L230.9,153.83" fill="none" stroke="#f26a1c" stroke-width="1.6" stroke-linejoin="round"/>
<path d="M54.8,158.41 L55.68,158.37 L56.56,158.37 L57.44,158.24 L58.32,158.11 L59.2,158.05 L60.08,157.93 L60.96,157.82 L61.84,157.45 L62.72,157.24 L63.6,157.04 L64.49,156.97 L65.37,156.77 L66.25,156.55 L67.13,156.24 L68.01,155.87 L68.89,155.38 L69.77,154.85 L70.65,154.28 L71.53,153.55 L72.41,152.74 L73.29,151.84 L74.17,151.18 L75.05,150.39 L75.93,149.37 L76.81,147.92 L77.69,146.51 L78.57,144.99 L79.45,143.43 L80.33,141.73 L81.22,139.87 L82.1,137.66 L82.98,135.23 L83.86,132.7 L84.74,130.51 L85.62,128.67 L86.5,126.04 L87.38,123.54 L88.26,120.37 L89.14,117.37 L90.02,113.7 L90.9,109.9 L91.78,106.3 L92.66,102.87 L93.54,99.67 L94.42,96.21 L95.3,93.07 L96.18,89.76 L97.06,87.02 L97.94,84.59 L98.83,82.83 L99.71,80.73 L100.59,78.14 L101.47,75.19 L102.35,72.83 L103.23,70.02 L104.11,67.77 L104.99,64.64 L105.87,62.26 L106.75,59.21 L107.63,56.7 L108.51,54.37 L109.39,51.89 L110.27,50.5 L111.15,48.72 L112.03,47.32 L112.91,45.26 L113.79,44.97 L114.67,44.51 L115.55,44.71 L116.44,44.16 L117.32,43.93 L118.2,44.65 L119.08,45.01 L119.96,46.98 L120.84,47.23 L121.72,48.73 L122.6,49.37 L123.48,51.49 L124.36,51.84 L125.24,52.62 L126.12,53.32 L127,54.96 L127.88,56.62 L128.76,58.47 L129.64,60.15 L130.52,61.87 L131.4,62.56 L132.28,64.42 L133.16,65.77 L134.05,67.74 L134.93,68.68 L135.81,70.02 L136.69,71.57 L137.57,73.66 L138.45,75.54 L139.33,76.61 L140.21,77.64 L141.09,79.08 L141.97,80.92 L142.85,82.73 L143.73,84.62 L144.61,86.47 L145.49,88.48 L146.37,90.12 L147.25,91.93 L148.13,93.28 L149.01,94.91 L149.89,96.01 L150.77,97.33 L151.66,98.48 L152.54,100.87 L153.42,102.64 L154.3,104.39 L155.18,105.41 L156.06,107.28 L156.94,108.36 L157.82,109.41 L158.7,110.49 L159.58,111.92 L160.46,113.5 L161.34,114.43 L162.22,115.36 L163.1,116.08 L163.98,117.21 L164.86,118.22 L165.74,119.51 L166.62,120.22 L167.5,121.2 L168.38,121.87 L169.27,123.21 L170.15,124.35 L171.03,125.67 L171.91,126.14 L172.79,126.9 L173.67,127.44 L174.55,128.54 L175.43,129.39 L176.31,130.41 L177.19,131.28 L178.07,132.11 L178.95,132.47 L179.83,133 L180.71,133.83 L181.59,134.94 L182.47,135.75 L183.35,136.04 L184.23,136.41 L185.11,136.78 L185.99,137.45 L186.88,137.9 L187.76,138.45 L188.64,139.17 L189.52,139.79 L190.4,140.29 L191.28,140.74 L192.16,141.18 L193.04,141.84 L193.92,142.2 L194.8,142.7 L195.68,143.23 L196.56,143.81 L197.44,144.25 L198.32,144.45 L199.2,144.55 L200.08,145.2 L200.96,145.58 L201.84,146.26 L202.72,146.38 L203.6,146.66 L204.49,146.86 L205.37,147 L206.25,147.31 L207.13,147.34 L208.01,147.82 L208.89,148.16 L209.77,148.59 L210.65,148.9 L211.53,149.01 L212.41,149.29 L213.29,149.26 L214.17,149.64 L215.05,149.91 L215.93,150.35 L216.81,150.6 L217.69,150.89 L218.57,151.08 L219.45,151.29 L220.33,151.33 L221.21,151.66 L222.1,151.81 L222.98,152.27 L223.86,152.49 L224.74,152.83 L225.62,153.05 L226.5,153.18 L227.38,153.34 L228.26,153.46 L229.14,153.62 L230.02,153.74 L230.9,153.88" fill="none" stroke="#6e9cc8" stroke-width="1.6" stroke-linejoin="round"/>
<path d="M54.8,158.37 L55.68,158.29 L56.56,158.28 L57.44,158.19 L58.32,158.09 L59.2,158.06 L60.08,157.92 L60.96,157.83 L61.84,157.47 L62.72,157.26 L63.6,157.07 L64.49,156.98 L65.37,156.79 L66.25,156.53 L67.13,156.23 L68.01,155.84 L68.89,155.33 L69.77,154.74 L70.65,154.19 L71.53,153.53 L72.41,152.75 L73.29,151.93 L74.17,151.18 L75.05,150.43 L75.93,149.28 L76.81,147.78 L77.69,146.36 L78.57,144.8 L79.45,143.2 L80.33,141.5 L81.22,139.69 L82.1,137.47 L82.98,134.99 L83.86,132.43 L84.74,130.13 L85.62,128.05 L86.5,125.52 L87.38,123.03 L88.26,120.11 L89.14,116.85 L90.02,113.05 L90.9,109 L91.78,105.63 L92.66,102.14 L93.54,98.83 L94.42,95.11 L95.3,92.01 L96.18,88.87 L97.06,86.09 L97.94,83.55 L98.83,81.29 L99.71,78.78 L100.59,76.05 L101.47,73.47 L102.35,71.23 L103.23,68.38 L104.11,66.15 L104.99,63.06 L105.87,60.7 L106.75,57.75 L107.63,55.2 L108.51,52.96 L109.39,49.94 L110.27,48.53 L111.15,46.73 L112.03,45.76 L112.91,43.75 L113.79,43.41 L114.67,43 L115.55,42.91 L116.44,42.47 L117.32,41.91 L118.2,42.98 L119.08,43.45 L119.96,45.23 L120.84,45.67 L121.72,46.79 L122.6,47.55 L123.48,49.51 L124.36,50.21 L125.24,51.03 L126.12,51.8 L127,53.21 L127.88,54.81 L128.76,56.17 L129.64,57.86 L130.52,59.84 L131.4,60.9 L132.28,62.84 L133.16,64.24 L134.05,66.32 L134.93,67.57 L135.81,68.71 L136.69,70.3 L137.57,72.3 L138.45,73.99 L139.33,75.2 L140.21,76.28 L141.09,78.34 L141.97,80.24 L142.85,81.89 L143.73,83.5 L144.61,85.2 L145.49,87.53 L146.37,89.23 L147.25,91.23 L148.13,92.47 L149.01,94.1 L149.89,95.22 L150.77,96.73 L151.66,97.91 L152.54,100.31 L153.42,101.95 L154.3,103.77 L155.18,104.67 L156.06,106.4 L156.94,107.49 L157.82,108.51 L158.7,109.71 L159.58,111.33 L160.46,112.86 L161.34,113.56 L162.22,114.34 L163.1,114.97 L163.98,116.38 L164.86,117.49 L165.74,118.97 L166.62,119.6 L167.5,120.65 L168.38,121.33 L169.27,122.71 L170.15,123.81 L171.03,125.14 L171.91,125.58 L172.79,126.4 L173.67,127.18 L174.55,128.31 L175.43,129.1 L176.31,129.91 L177.19,130.8 L178.07,131.41 L178.95,131.71 L179.83,132.52 L180.71,133.49 L181.59,134.7 L182.47,135.32 L183.35,135.78 L184.23,136.02 L185.11,136.4 L185.99,137.07 L186.88,137.84 L187.76,138.53 L188.64,139.09 L189.52,139.63 L190.4,140.04 L191.28,140.66 L192.16,141.2 L193.04,141.79 L193.92,142.2 L194.8,142.56 L195.68,143.07 L196.56,143.42 L197.44,143.89 L198.32,144.27 L199.2,144.63 L200.08,145.29 L200.96,145.56 L201.84,146.09 L202.72,146.24 L203.6,146.56 L204.49,146.68 L205.37,146.9 L206.25,147.15 L207.13,147.32 L208.01,147.73 L208.89,148.13 L209.77,148.5 L210.65,148.66 L211.53,148.65 L212.41,149.02 L213.29,149.16 L214.17,149.69 L215.05,149.96 L215.93,150.37 L216.81,150.51 L217.69,150.78 L218.57,150.93 L219.45,151.28 L220.33,151.36 L221.21,151.68 L222.1,151.81 L222.98,152.16 L223.86,152.42 L224.74,152.69 L225.62,153.01 L226.5,153.08 L227.38,153.17 L228.26,153.28 L229.14,153.48 L230.02,153.65 L230.9,153.78" fill="none" stroke="#68be22" stroke-width="1.7" stroke-linejoin="round"/>
<line x1="116.5" y1="30.4" x2="116.5" y2="165" stroke="#f25a6a" stroke-width="0.9" stroke-dasharray="2,1.6"/>
<path d="M54.8,27.4 L54.8,159.2 L230.9,159.2" fill="none" stroke="#2a2a2a" stroke-width="1.2"/>
<path d="M52.2,159.2 h2.6 M53.3,151.88 h1.5 M52.2,144.56 h2.6 M53.3,137.23 h1.5 M52.2,129.91 h2.6 M53.3,122.59 h1.5 M52.2,115.27 h2.6 M53.3,107.94 h1.5 M52.2,100.62 h2.6 M53.3,93.3 h1.5 M52.2,85.98 h2.6 M53.3,78.66 h1.5 M52.2,71.33 h2.6 M53.3,64.01 h1.5 M52.2,56.69 h2.6 M53.3,49.37 h1.5 M52.2,42.04 h2.6 M53.3,34.72 h1.5 M52.2,27.4 h2.6 M54.8,159.2 v4.5 M76.81,159.2 v2.4 M98.83,159.2 v4.5 M120.84,159.2 v2.4 M142.85,159.2 v4.5 M164.86,159.2 v2.4 M186.88,159.2 v4.5 M208.89,159.2 v2.4 M230.9,159.2 v4.5" stroke="#2a2a2a" stroke-width="1.1" fill="none"/>
<text transform="translate(47.54,30.01) scale(1.1,1)" font-size="7.3" text-anchor="end" font-family="Liberation Sans, sans-serif" font-weight="bold" stroke="#111" stroke-width="0.15" stroke-linejoin="round" fill="#111111">1.8x10</text><text transform="translate(47.79,26.71) scale(1.1,1)" font-size="4.6" font-family="Liberation Sans, sans-serif" font-weight="bold" stroke="#111" stroke-width="0.15" stroke-linejoin="round" fill="#111111">6</text>
<text transform="translate(47.54,44.66) scale(1.1,1)" font-size="7.3" text-anchor="end" font-family="Liberation Sans, sans-serif" font-weight="bold" stroke="#111" stroke-width="0.15" stroke-linejoin="round" fill="#111111">1.6x10</text><text transform="translate(47.79,41.36) scale(1.1,1)" font-size="4.6" font-family="Liberation Sans, sans-serif" font-weight="bold" stroke="#111" stroke-width="0.15" stroke-linejoin="round" fill="#111111">6</text>
<text transform="translate(47.54,59.3) scale(1.1,1)" font-size="7.3" text-anchor="end" font-family="Liberation Sans, sans-serif" font-weight="bold" stroke="#111" stroke-width="0.15" stroke-linejoin="round" fill="#111111">1.4x10</text><text transform="translate(47.79,56) scale(1.1,1)" font-size="4.6" font-family="Liberation Sans, sans-serif" font-weight="bold" stroke="#111" stroke-width="0.15" stroke-linejoin="round" fill="#111111">6</text>
<text transform="translate(47.54,73.95) scale(1.1,1)" font-size="7.3" text-anchor="end" font-family="Liberation Sans, sans-serif" font-weight="bold" stroke="#111" stroke-width="0.15" stroke-linejoin="round" fill="#111111">1.2x10</text><text transform="translate(47.79,70.65) scale(1.1,1)" font-size="4.6" font-family="Liberation Sans, sans-serif" font-weight="bold" stroke="#111" stroke-width="0.15" stroke-linejoin="round" fill="#111111">6</text>
<text transform="translate(47.54,88.59) scale(1.1,1)" font-size="7.3" text-anchor="end" font-family="Liberation Sans, sans-serif" font-weight="bold" stroke="#111" stroke-width="0.15" stroke-linejoin="round" fill="#111111">1x10</text><text transform="translate(47.79,85.29) scale(1.1,1)" font-size="4.6" font-family="Liberation Sans, sans-serif" font-weight="bold" stroke="#111" stroke-width="0.15" stroke-linejoin="round" fill="#111111">6</text>
<text transform="translate(47.54,103.24) scale(1.1,1)" font-size="7.3" text-anchor="end" font-family="Liberation Sans, sans-serif" font-weight="bold" stroke="#111" stroke-width="0.15" stroke-linejoin="round" fill="#111111">8x10</text><text transform="translate(47.79,99.94) scale(1.1,1)" font-size="4.6" font-family="Liberation Sans, sans-serif" font-weight="bold" stroke="#111" stroke-width="0.15" stroke-linejoin="round" fill="#111111">5</text>
<text transform="translate(47.54,117.88) scale(1.1,1)" font-size="7.3" text-anchor="end" font-family="Liberation Sans, sans-serif" font-weight="bold" stroke="#111" stroke-width="0.15" stroke-linejoin="round" fill="#111111">6x10</text><text transform="translate(47.79,114.58) scale(1.1,1)" font-size="4.6" font-family="Liberation Sans, sans-serif" font-weight="bold" stroke="#111" stroke-width="0.15" stroke-linejoin="round" fill="#111111">5</text>
<text transform="translate(47.54,132.52) scale(1.1,1)" font-size="7.3" text-anchor="end" font-family="Liberation Sans, sans-serif" font-weight="bold" stroke="#111" stroke-width="0.15" stroke-linejoin="round" fill="#111111">4x10</text><text transform="translate(47.79,129.22) scale(1.1,1)" font-size="4.6" font-family="Liberation Sans, sans-serif" font-weight="bold" stroke="#111" stroke-width="0.15" stroke-linejoin="round" fill="#111111">5</text>
<text transform="translate(47.54,147.17) scale(1.1,1)" font-size="7.3" text-anchor="end" font-family="Liberation Sans, sans-serif" font-weight="bold" stroke="#111" stroke-width="0.15" stroke-linejoin="round" fill="#111111">2x10</text><text transform="translate(47.79,143.87) scale(1.1,1)" font-size="4.6" font-family="Liberation Sans, sans-serif" font-weight="bold" stroke="#111" stroke-width="0.15" stroke-linejoin="round" fill="#111111">5</text>
<text transform="translate(49.9,161.81) scale(1.1,1)" font-size="7.3" text-anchor="end" font-family="Liberation Sans, sans-serif" font-weight="bold" stroke="#111" stroke-width="0.15" stroke-linejoin="round" fill="#111111">0</text>
<text x="54.8" y="173.13" font-size="7.85" text-anchor="middle" font-family="Liberation Sans, sans-serif" font-weight="bold" stroke="#111" stroke-width="0.15" stroke-linejoin="round" fill="#111111">400</text>
<text x="98.83" y="173.13" font-size="7.85" text-anchor="middle" font-family="Liberation Sans, sans-serif" font-weight="bold" stroke="#111" stroke-width="0.15" stroke-linejoin="round" fill="#111111">450</text>
<text x="142.85" y="173.13" font-size="7.85" text-anchor="middle" font-family="Liberation Sans, sans-serif" font-weight="bold" stroke="#111" stroke-width="0.15" stroke-linejoin="round" fill="#111111">500</text>
<text x="186.88" y="173.13" font-size="7.85" text-anchor="middle" font-family="Liberation Sans, sans-serif" font-weight="bold" stroke="#111" stroke-width="0.15" stroke-linejoin="round" fill="#111111">550</text>
<text x="230.9" y="173.13" font-size="7.85" text-anchor="middle" font-family="Liberation Sans, sans-serif" font-weight="bold" stroke="#111" stroke-width="0.15" stroke-linejoin="round" fill="#111111">600</text>
<text x="133.4" y="189.43" font-size="8.15" text-anchor="middle" font-family="Liberation Sans, sans-serif" font-weight="bold" stroke="#111" stroke-width="0.15" stroke-linejoin="round" fill="#111111">Wavelength/nm</text>
<text transform="translate(15.4,83.9) rotate(-90) scale(1.09,1)" font-size="7.5" text-anchor="middle" font-family="Liberation Sans, sans-serif" font-weight="bold" stroke="#111" stroke-width="0.15" stroke-linejoin="round" fill="#111111">Fluorescence intensity</text>
<text x="113.6" y="26" font-size="9.2" text-anchor="middle" font-family="Liberation Sans, sans-serif" font-weight="bold" stroke="#111" stroke-width="0.15" stroke-linejoin="round" fill="#111111">473 nm</text>
<text transform="translate(8.2,18.7) scale(1.1,1)" font-size="10.9" font-family="Liberation Sans, sans-serif" font-weight="bold" stroke="#111" stroke-width="0.15" stroke-linejoin="round" fill="#111111">(A)</text>
<path d="M330.4,157.59 L331.28,157.59 L332.16,157.59 L333.05,157.59 L333.93,157.59 L334.81,157.59 L335.69,157.59 L336.57,157.59 L337.46,157.59 L338.34,157.58 L339.22,157.58 L340.1,157.58 L340.98,157.58 L341.87,157.58 L342.75,157.57 L343.63,157.57 L344.51,157.57 L345.39,157.56 L346.28,157.56 L347.16,157.55 L348.04,157.54 L348.92,157.54 L349.8,157.53 L350.69,157.52 L351.57,157.51 L352.45,157.5 L353.33,157.49 L354.21,157.48 L355.1,157.46 L355.98,157.45 L356.86,157.43 L357.74,157.41 L358.62,157.39 L359.51,157.37 L360.39,157.34 L361.27,157.32 L362.15,157.3 L363.03,157.27 L363.92,157.24 L364.8,157.22 L365.68,157.18 L366.56,157.15 L367.44,157.11 L368.33,157.07 L369.21,157.04 L370.09,157.01 L370.97,156.98 L371.85,156.95 L372.74,156.93 L373.62,156.9 L374.5,156.88 L375.38,156.86 L376.26,156.83 L377.15,156.81 L378.03,156.78 L378.91,156.76 L379.79,156.73 L380.67,156.71 L381.56,156.68 L382.44,156.65 L383.32,156.62 L384.2,156.6 L385.08,156.58 L385.97,156.57 L386.85,156.55 L387.73,156.53 L388.61,156.52 L389.49,156.51 L390.38,156.51 L391.26,156.51 L392.14,156.51 L393.02,156.5 L393.9,156.51 L394.79,156.51 L395.67,156.52 L396.55,156.54 L397.43,156.55 L398.31,156.56 L399.2,156.56 L400.08,156.57 L400.96,156.58 L401.84,156.6 L402.72,156.61 L403.61,156.62 L404.49,156.63 L405.37,156.65 L406.25,156.66 L407.13,156.67 L408.02,156.69 L408.9,156.7 L409.78,156.71 L410.66,156.72 L411.54,156.74 L412.43,156.75 L413.31,156.76 L414.19,156.77 L415.07,156.79 L415.95,156.81 L416.84,156.82 L417.72,156.83 L418.6,156.85 L419.48,156.86 L420.36,156.88 L421.25,156.89 L422.13,156.91 L423.01,156.93 L423.89,156.94 L424.77,156.96 L425.66,156.97 L426.54,156.99 L427.42,157 L428.3,157.02 L429.18,157.03 L430.07,157.04 L430.95,157.05 L431.83,157.07 L432.71,157.08 L433.59,157.09 L434.48,157.11 L435.36,157.12 L436.24,157.13 L437.12,157.14 L438,157.15 L438.89,157.16 L439.77,157.17 L440.65,157.18 L441.53,157.19 L442.41,157.2 L443.3,157.21 L444.18,157.22 L445.06,157.23 L445.94,157.24 L446.82,157.25 L447.71,157.26 L448.59,157.26 L449.47,157.27 L450.35,157.28 L451.23,157.29 L452.12,157.3 L453,157.31 L453.88,157.32 L454.76,157.32 L455.64,157.33 L456.53,157.33 L457.41,157.34 L458.29,157.34 L459.17,157.35 L460.05,157.36 L460.94,157.37 L461.82,157.37 L462.7,157.38 L463.58,157.38 L464.46,157.39 L465.35,157.39 L466.23,157.4 L467.11,157.4 L467.99,157.41 L468.87,157.41 L469.76,157.42 L470.64,157.42 L471.52,157.43 L472.4,157.43 L473.28,157.43 L474.17,157.44 L475.05,157.44 L475.93,157.45 L476.81,157.45 L477.69,157.46 L478.58,157.46 L479.46,157.46 L480.34,157.47 L481.22,157.47 L482.1,157.47 L482.99,157.48 L483.87,157.48 L484.75,157.48 L485.63,157.49 L486.51,157.49 L487.4,157.49 L488.28,157.49 L489.16,157.49 L490.04,157.5 L490.92,157.5 L491.81,157.5 L492.69,157.5 L493.57,157.51 L494.45,157.51 L495.33,157.51 L496.22,157.51 L497.1,157.51 L497.98,157.52 L498.86,157.52 L499.74,157.52 L500.63,157.52 L501.51,157.53 L502.39,157.53 L503.27,157.53 L504.15,157.53 L505.04,157.53 L505.92,157.54 L506.8,157.54" fill="none" stroke="#111111" stroke-width="1.5" stroke-linejoin="round"/>
<path d="M330.4,157.43 L331.28,157.41 L332.16,157.4 L333.05,157.39 L333.93,157.37 L334.81,157.34 L335.69,157.32 L336.57,157.29 L337.46,157.26 L338.34,157.22 L339.22,157.19 L340.1,157.14 L340.98,157.09 L341.87,157.05 L342.75,156.99 L343.63,156.91 L344.51,156.81 L345.39,156.71 L346.28,156.58 L347.16,156.44 L348.04,156.28 L348.92,156.1 L349.8,155.93 L350.69,155.72 L351.57,155.53 L352.45,155.25 L353.33,154.99 L354.21,154.66 L355.1,154.32 L355.98,153.93 L356.86,153.48 L357.74,152.99 L358.62,152.47 L359.51,151.95 L360.39,151.41 L361.27,150.89 L362.15,150.34 L363.03,149.72 L363.92,149.08 L364.8,148.37 L365.68,147.58 L366.56,146.76 L367.44,145.85 L368.33,145.03 L369.21,144.21 L370.09,143.49 L370.97,142.8 L371.85,142.12 L372.74,141.47 L373.62,140.86 L374.5,140.28 L375.38,139.74 L376.26,139.18 L377.15,138.57 L378.03,137.96 L378.91,137.35 L379.79,136.76 L380.67,136.13 L381.56,135.49 L382.44,134.81 L383.32,134.11 L384.2,133.55 L385.08,133.07 L385.97,132.78 L386.85,132.34 L387.73,132.06 L388.61,131.77 L389.49,131.66 L390.38,131.59 L391.26,131.49 L392.14,131.36 L393.02,131.27 L393.9,131.37 L394.79,131.47 L395.67,131.74 L396.55,132.01 L397.43,132.3 L398.31,132.49 L399.2,132.69 L400.08,132.98 L400.96,133.24 L401.84,133.49 L402.72,133.72 L403.61,134.02 L404.49,134.36 L405.37,134.74 L406.25,135.13 L407.13,135.41 L408.02,135.67 L408.9,135.97 L409.78,136.28 L410.66,136.55 L411.54,136.82 L412.43,137.11 L413.31,137.47 L414.19,137.78 L415.07,138.2 L415.95,138.54 L416.84,138.91 L417.72,139.18 L418.6,139.6 L419.48,139.93 L420.36,140.35 L421.25,140.73 L422.13,141.16 L423.01,141.53 L423.89,141.87 L424.77,142.25 L425.66,142.57 L426.54,142.92 L427.42,143.23 L428.3,143.57 L429.18,143.87 L430.07,144.21 L430.95,144.55 L431.83,144.91 L432.71,145.19 L433.59,145.46 L434.48,145.72 L435.36,146.02 L436.24,146.3 L437.12,146.58 L438,146.81 L438.89,147.12 L439.77,147.33 L440.65,147.6 L441.53,147.81 L442.41,148.07 L443.3,148.29 L444.18,148.53 L445.06,148.76 L445.94,148.96 L446.82,149.13 L447.71,149.33 L448.59,149.56 L449.47,149.78 L450.35,149.96 L451.23,150.12 L452.12,150.3 L453,150.51 L453.88,150.73 L454.76,150.88 L455.64,151.06 L456.53,151.21 L457.41,151.39 L458.29,151.46 L459.17,151.61 L460.05,151.78 L460.94,151.99 L461.82,152.13 L462.7,152.24 L463.58,152.35 L464.46,152.49 L465.35,152.64 L466.23,152.76 L467.11,152.86 L467.99,152.93 L468.87,153.05 L469.76,153.16 L470.64,153.3 L471.52,153.4 L472.4,153.48 L473.28,153.58 L474.17,153.69 L475.05,153.81 L475.93,153.93 L476.81,154.03 L477.69,154.15 L478.58,154.22 L479.46,154.31 L480.34,154.38 L481.22,154.46 L482.1,154.53 L482.99,154.61 L483.87,154.72 L484.75,154.79 L485.63,154.83 L486.51,154.88 L487.4,154.93 L488.28,155.02 L489.16,155.07 L490.04,155.15 L490.92,155.2 L491.81,155.26 L492.69,155.29 L493.57,155.34 L494.45,155.41 L495.33,155.49 L496.22,155.52 L497.1,155.55 L497.98,155.6 L498.86,155.66 L499.74,155.72 L500.63,155.79 L501.51,155.86 L502.39,155.91 L503.27,155.92 L504.15,155.97 L505.04,156.01 L505.92,156.08 L506.8,156.11" fill="none" stroke="#f04848" stroke-width="1.5" stroke-linejoin="round"/>
<path d="M330.4,157.26 L331.28,157.23 L332.16,157.19 L333.05,157.16 L333.93,157.12 L334.81,157.07 L335.69,157.02 L336.57,156.96 L337.46,156.9 L338.34,156.81 L339.22,156.74 L340.1,156.64 L340.98,156.56 L341.87,156.45 L342.75,156.33 L343.63,156.18 L344.51,155.99 L345.39,155.77 L346.28,155.51 L347.16,155.23 L348.04,154.89 L348.92,154.54 L349.8,154.17 L350.69,153.74 L351.57,153.3 L352.45,152.72 L353.33,152.2 L354.21,151.53 L355.1,150.86 L355.98,150.03 L356.86,149.13 L357.74,148.11 L358.62,147.09 L359.51,146 L360.39,144.94 L361.27,143.87 L362.15,142.72 L363.03,141.41 L363.92,140.04 L364.8,138.58 L365.68,136.99 L366.56,135.33 L367.44,133.49 L368.33,131.78 L369.21,130.09 L370.09,128.56 L370.97,127.09 L371.85,125.67 L372.74,124.34 L373.62,123.17 L374.5,122 L375.38,120.92 L376.26,119.75 L377.15,118.49 L378.03,117.22 L378.91,115.85 L379.79,114.58 L380.67,113.36 L381.56,112.09 L382.44,110.81 L383.32,109.34 L384.2,108.3 L385.08,107.37 L385.97,106.77 L386.85,105.8 L387.73,105.07 L388.61,104.45 L389.49,104.19 L390.38,104.05 L391.26,103.84 L392.14,103.67 L393.02,103.57 L393.9,103.8 L394.79,103.97 L395.67,104.41 L396.55,104.9 L397.43,105.51 L398.31,105.96 L399.2,106.34 L400.08,106.91 L400.96,107.42 L401.84,108.07 L402.72,108.58 L403.61,109.24 L404.49,109.87 L405.37,110.64 L406.25,111.43 L407.13,112.02 L408.02,112.53 L408.9,113.12 L409.78,113.76 L410.66,114.32 L411.54,114.94 L412.43,115.5 L413.31,116.29 L414.19,116.92 L415.07,117.77 L415.95,118.47 L416.84,119.32 L417.72,119.93 L418.6,120.77 L419.48,121.39 L420.36,122.19 L421.25,122.82 L422.13,123.71 L423.01,124.52 L423.89,125.39 L424.77,126.13 L425.66,126.81 L426.54,127.49 L427.42,128.11 L428.3,128.79 L429.18,129.37 L430.07,130.03 L430.95,130.73 L431.83,131.44 L432.71,132.04 L433.59,132.63 L434.48,133.19 L435.36,133.81 L436.24,134.42 L437.12,135.02 L438,135.52 L438.89,136.09 L439.77,136.55 L440.65,137.1 L441.53,137.52 L442.41,138.02 L443.3,138.47 L444.18,138.96 L445.06,139.43 L445.94,139.79 L446.82,140.15 L447.71,140.55 L448.59,141.02 L449.47,141.5 L450.35,141.88 L451.23,142.22 L452.12,142.57 L453,143.01 L453.88,143.52 L454.76,143.84 L455.64,144.21 L456.53,144.44 L457.41,144.79 L458.29,144.96 L459.17,145.3 L460.05,145.63 L460.94,146.03 L461.82,146.31 L462.7,146.57 L463.58,146.82 L464.46,147.1 L465.35,147.43 L466.23,147.66 L467.11,147.89 L467.99,148.02 L468.87,148.28 L469.76,148.49 L470.64,148.73 L471.52,148.97 L472.4,149.16 L473.28,149.4 L474.17,149.6 L475.05,149.82 L475.93,150.06 L476.81,150.28 L477.69,150.51 L478.58,150.63 L479.46,150.8 L480.34,150.97 L481.22,151.18 L482.1,151.34 L482.99,151.48 L483.87,151.68 L484.75,151.81 L485.63,151.95 L486.51,152.06 L487.4,152.14 L488.28,152.31 L489.16,152.4 L490.04,152.58 L490.92,152.66 L491.81,152.78 L492.69,152.86 L493.57,153.01 L494.45,153.14 L495.33,153.3 L496.22,153.34 L497.1,153.43 L497.98,153.48 L498.86,153.57 L499.74,153.7 L500.63,153.85 L501.51,154 L502.39,154.11 L503.27,154.15 L504.15,154.28 L505.04,154.35 L505.92,154.48 L506.8,154.55" fill="none" stroke="#3b74e6" stroke-width="1.5" stroke-linejoin="round"/>
<path d="M330.4,157.18 L331.28,157.15 L332.16,157.12 L333.05,157.08 L333.93,157.04 L334.81,156.98 L335.69,156.93 L336.57,156.84 L337.46,156.77 L338.34,156.68 L339.22,156.6 L340.1,156.47 L340.98,156.37 L341.87,156.25 L342.75,156.11 L343.63,155.92 L344.51,155.7 L345.39,155.45 L346.28,155.15 L347.16,154.81 L348.04,154.41 L348.92,153.97 L349.8,153.55 L350.69,153.06 L351.57,152.55 L352.45,151.88 L353.33,151.27 L354.21,150.49 L355.1,149.69 L355.98,148.71 L356.86,147.64 L357.74,146.46 L358.62,145.26 L359.51,143.95 L360.39,142.65 L361.27,141.37 L362.15,140.07 L363.03,138.58 L363.92,136.96 L364.8,135.19 L365.68,133.32 L366.56,131.42 L367.44,129.27 L368.33,127.27 L369.21,125.28 L370.09,123.55 L370.97,121.83 L371.85,120.17 L372.74,118.57 L373.62,117.13 L374.5,115.76 L375.38,114.47 L376.26,113.09 L377.15,111.53 L378.03,110.08 L378.91,108.65 L379.79,107.23 L380.67,105.79 L381.56,104.13 L382.44,102.51 L383.32,100.75 L384.2,99.56 L385.08,98.56 L385.97,97.79 L386.85,96.58 L387.73,95.78 L388.61,95.05 L389.49,94.75 L390.38,94.54 L391.26,94.41 L392.14,94.14 L393.02,94.07 L393.9,94.35 L394.79,94.63 L395.67,95.11 L396.55,95.72 L397.43,96.5 L398.31,97.11 L399.2,97.5 L400.08,98.16 L400.96,98.62 L401.84,99.3 L402.72,99.85 L403.61,100.64 L404.49,101.39 L405.37,102.26 L406.25,103.16 L407.13,103.88 L408.02,104.47 L408.9,105.24 L409.78,105.99 L410.66,106.7 L411.54,107.5 L412.43,108.23 L413.31,109.04 L414.19,109.59 L415.07,110.6 L415.95,111.48 L416.84,112.54 L417.72,113.18 L418.6,114.16 L419.48,114.93 L420.36,115.97 L421.25,116.82 L422.13,117.84 L423.01,118.75 L423.89,119.71 L424.77,120.6 L425.66,121.41 L426.54,122.2 L427.42,122.95 L428.3,123.75 L429.18,124.43 L430.07,125.2 L430.95,125.99 L431.83,126.83 L432.71,127.52 L433.59,128.22 L434.48,128.88 L435.36,129.62 L436.24,130.31 L437.12,130.98 L438,131.56 L438.89,132.27 L439.77,132.78 L440.65,133.41 L441.53,133.86 L442.41,134.57 L443.3,135.12 L444.18,135.76 L445.06,136.26 L445.94,136.69 L446.82,137.09 L447.71,137.55 L448.59,138.22 L449.47,138.73 L450.35,139.17 L451.23,139.47 L452.12,139.93 L453,140.47 L453.88,141.02 L454.76,141.36 L455.64,141.76 L456.53,142.1 L457.41,142.55 L458.29,142.79 L459.17,143.14 L460.05,143.52 L460.94,143.98 L461.82,144.34 L462.7,144.63 L463.58,144.94 L464.46,145.31 L465.35,145.68 L466.23,145.95 L467.11,146.16 L467.99,146.33 L468.87,146.66 L469.76,146.93 L470.64,147.27 L471.52,147.5 L472.4,147.66 L473.28,147.89 L474.17,148.16 L475.05,148.48 L475.93,148.76 L476.81,149 L477.69,149.3 L478.58,149.44 L479.46,149.64 L480.34,149.81 L481.22,150.03 L482.1,150.23 L482.99,150.42 L483.87,150.64 L484.75,150.8 L485.63,150.94 L486.51,151.05 L487.4,151.17 L488.28,151.35 L489.16,151.47 L490.04,151.65 L490.92,151.81 L491.81,151.95 L492.69,152.03 L493.57,152.13 L494.45,152.29 L495.33,152.48 L496.22,152.56 L497.1,152.67 L497.98,152.78 L498.86,152.91 L499.74,153.02 L500.63,153.19 L501.51,153.35 L502.39,153.5 L503.27,153.51 L504.15,153.64 L505.04,153.72 L505.92,153.91 L506.8,154.01" fill="none" stroke="#3aa86a" stroke-width="1.5" stroke-linejoin="round"/>
<path d="M330.4,157.01 L331.28,156.95 L332.16,156.89 L333.05,156.85 L333.93,156.78 L334.81,156.7 L335.69,156.62 L336.57,156.52 L337.46,156.41 L338.34,156.27 L339.22,156.12 L340.1,155.95 L340.98,155.82 L341.87,155.65 L342.75,155.44 L343.63,155.16 L344.51,154.84 L345.39,154.48 L346.28,154.06 L347.16,153.57 L348.04,152.98 L348.92,152.35 L349.8,151.79 L350.69,151.08 L351.57,150.35 L352.45,149.32 L353.33,148.42 L354.21,147.27 L355.1,146.12 L355.98,144.73 L356.86,143.23 L357.74,141.48 L358.62,139.7 L359.51,137.82 L360.39,135.99 L361.27,134.13 L362.15,132.25 L363.03,130.13 L363.92,127.79 L364.8,125.26 L365.68,122.49 L366.56,119.75 L367.44,116.53 L368.33,113.56 L369.21,110.76 L370.09,108.23 L370.97,105.91 L371.85,103.41 L372.74,101.27 L373.62,98.95 L374.5,97.08 L375.38,95.22 L376.26,93.38 L377.15,91.07 L378.03,88.84 L378.91,86.61 L379.79,84.56 L380.67,82.3 L381.56,80.09 L382.44,77.78 L383.32,75.41 L384.2,73.63 L385.08,72.08 L385.97,70.94 L386.85,69.24 L387.73,68.11 L388.61,67.17 L389.49,66.6 L390.38,66.26 L391.26,65.96 L392.14,65.75 L393.02,65.6 L393.9,65.88 L394.79,66.2 L395.67,66.91 L396.55,67.85 L397.43,68.91 L398.31,69.72 L399.2,70.34 L400.08,71.32 L400.96,72.14 L401.84,73.07 L402.72,73.94 L403.61,75 L404.49,76.13 L405.37,77.37 L406.25,78.69 L407.13,79.71 L408.02,80.48 L408.9,81.52 L409.78,82.62 L410.66,83.55 L411.54,84.69 L412.43,85.59 L413.31,86.9 L414.19,87.78 L415.07,89.2 L415.95,90.41 L416.84,91.7 L417.72,92.6 L418.6,93.95 L419.48,95.17 L420.36,96.76 L421.25,97.95 L422.13,99.43 L423.01,100.6 L423.89,101.93 L424.77,103.09 L425.66,104.24 L426.54,105.48 L427.42,106.57 L428.3,107.83 L429.18,108.75 L430.07,109.92 L430.95,110.97 L431.83,112.19 L432.71,113.22 L433.59,114.36 L434.48,115.34 L435.36,116.3 L436.24,117.29 L437.12,118.25 L438,119.19 L438.89,120.18 L439.77,120.99 L440.65,121.95 L441.53,122.69 L442.41,123.61 L443.3,124.38 L444.18,125.2 L445.06,126 L445.94,126.71 L446.82,127.33 L447.71,127.96 L448.59,128.8 L449.47,129.57 L450.35,130.32 L451.23,130.84 L452.12,131.43 L453,132.11 L453.88,132.89 L454.76,133.46 L455.64,134.09 L456.53,134.5 L457.41,135.09 L458.29,135.4 L459.17,136 L460.05,136.6 L460.94,137.27 L461.82,137.77 L462.7,138.16 L463.58,138.64 L464.46,139.15 L465.35,139.78 L466.23,140.19 L467.11,140.55 L467.99,140.74 L468.87,141.22 L469.76,141.56 L470.64,142.06 L471.52,142.42 L472.4,142.75 L473.28,143.05 L474.17,143.37 L475.05,143.77 L475.93,144.18 L476.81,144.56 L477.69,145 L478.58,145.25 L479.46,145.58 L480.34,145.83 L481.22,146.18 L482.1,146.48 L482.99,146.81 L483.87,147.18 L484.75,147.39 L485.63,147.58 L486.51,147.76 L487.4,147.96 L488.28,148.27 L489.16,148.42 L490.04,148.68 L490.92,148.82 L491.81,149.05 L492.69,149.14 L493.57,149.33 L494.45,149.55 L495.33,149.85 L496.22,149.95 L497.1,150.07 L497.98,150.22 L498.86,150.39 L499.74,150.59 L500.63,150.86 L501.51,151.11 L502.39,151.31 L503.27,151.37 L504.15,151.57 L505.04,151.73 L505.92,151.94 L506.8,152.06" fill="none" stroke="#b27ef0" stroke-width="1.5" stroke-linejoin="round"/>
<path d="M330.4,156.9 L331.28,156.84 L332.16,156.77 L333.05,156.71 L333.93,156.62 L334.81,156.52 L335.69,156.43 L336.57,156.3 L337.46,156.18 L338.34,156.02 L339.22,155.84 L340.1,155.61 L340.98,155.44 L341.87,155.25 L342.75,155.05 L343.63,154.74 L344.51,154.36 L345.39,153.89 L346.28,153.35 L347.16,152.76 L348.04,152.11 L348.92,151.38 L349.8,150.67 L350.69,149.79 L351.57,148.88 L352.45,147.71 L353.33,146.63 L354.21,145.31 L355.1,143.96 L355.98,142.31 L356.86,140.46 L357.74,138.35 L358.62,136.23 L359.51,134.11 L360.39,131.97 L361.27,129.77 L362.15,127.39 L363.03,124.77 L363.92,122.04 L364.8,119.1 L365.68,115.87 L366.56,112.48 L367.44,108.6 L368.33,105.07 L369.21,101.78 L370.09,98.8 L370.97,95.81 L371.85,92.88 L372.74,90.23 L373.62,87.86 L374.5,85.54 L375.38,83.39 L376.26,81.05 L377.15,78.38 L378.03,75.78 L378.91,73.1 L379.79,70.66 L380.67,68.02 L381.56,65.43 L382.44,62.69 L383.32,59.82 L384.2,57.53 L385.08,55.53 L385.97,54.08 L386.85,52.18 L387.73,50.88 L388.61,49.84 L389.49,49.37 L390.38,49.01 L391.26,48.74 L392.14,48.36 L393.02,48.23 L393.9,48.68 L394.79,48.91 L395.67,49.75 L396.55,50.77 L397.43,52.12 L398.31,53.1 L399.2,53.88 L400.08,55.06 L400.96,55.94 L401.84,56.92 L402.72,57.83 L403.61,59.15 L404.49,60.43 L405.37,61.97 L406.25,63.4 L407.13,64.56 L408.02,65.59 L408.9,66.83 L409.78,68.25 L410.66,69.49 L411.54,70.76 L412.43,71.84 L413.31,73.16 L414.19,74.3 L415.07,75.94 L415.95,77.42 L416.84,79.1 L417.72,80.24 L418.6,81.84 L419.48,83.16 L420.36,84.84 L421.25,86.22 L422.13,87.87 L423.01,89.42 L423.89,91.04 L424.77,92.54 L425.66,93.92 L426.54,95.54 L427.42,96.87 L428.3,98.33 L429.18,99.38 L430.07,100.82 L430.95,102.18 L431.83,103.57 L432.71,104.67 L433.59,105.84 L434.48,106.98 L435.36,108.2 L436.24,109.46 L437.12,110.74 L438,111.89 L438.89,113.03 L439.77,113.89 L440.65,114.89 L441.53,115.72 L442.41,116.79 L443.3,117.82 L444.18,118.88 L445.06,119.76 L445.94,120.53 L446.82,121.26 L447.71,122.12 L448.59,123.06 L449.47,123.96 L450.35,124.82 L451.23,125.53 L452.12,126.29 L453,127.14 L453.88,128.07 L454.76,128.61 L455.64,129.33 L456.53,129.88 L457.41,130.69 L458.29,131.11 L459.17,131.79 L460.05,132.45 L460.94,133.2 L461.82,133.8 L462.7,134.31 L463.58,134.89 L464.46,135.51 L465.35,136.25 L466.23,136.76 L467.11,137.22 L467.99,137.44 L468.87,137.98 L469.76,138.38 L470.64,138.94 L471.52,139.34 L472.4,139.68 L473.28,140.13 L474.17,140.53 L475.05,141.07 L475.93,141.57 L476.81,142.06 L477.69,142.59 L478.58,142.87 L479.46,143.25 L480.34,143.53 L481.22,143.94 L482.1,144.29 L482.99,144.67 L483.87,145.04 L484.75,145.3 L485.63,145.53 L486.51,145.75 L487.4,146 L488.28,146.36 L489.16,146.62 L490.04,146.97 L490.92,147.16 L491.81,147.39 L492.69,147.49 L493.57,147.74 L494.45,148.02 L495.33,148.36 L496.22,148.47 L497.1,148.64 L497.98,148.83 L498.86,149.03 L499.74,149.23 L500.63,149.53 L501.51,149.84 L502.39,150.14 L503.27,150.2 L504.15,150.42 L505.04,150.55 L505.92,150.81 L506.8,150.96" fill="none" stroke="#d4a22c" stroke-width="1.55" stroke-linejoin="round"/>
<path d="M330.4,156.89 L331.28,156.83 L332.16,156.78 L333.05,156.71 L333.93,156.62 L334.81,156.51 L335.69,156.41 L336.57,156.3 L337.46,156.18 L338.34,156.01 L339.22,155.84 L340.1,155.63 L340.98,155.46 L341.87,155.25 L342.75,155.01 L343.63,154.68 L344.51,154.35 L345.39,153.88 L346.28,153.34 L347.16,152.71 L348.04,152.06 L348.92,151.31 L349.8,150.57 L350.69,149.66 L351.57,148.83 L352.45,147.69 L353.33,146.63 L354.21,145.25 L355.1,143.84 L355.98,142.14 L356.86,140.36 L357.74,138.32 L358.62,136.24 L359.51,133.89 L360.39,131.69 L361.27,129.49 L362.15,127.29 L363.03,124.63 L363.92,121.88 L364.8,118.81 L365.68,115.55 L366.56,112.03 L367.44,108.23 L368.33,104.69 L369.21,101.39 L370.09,98.32 L370.97,95.43 L371.85,92.54 L372.74,89.85 L373.62,87.31 L374.5,84.95 L375.38,82.79 L376.26,80.46 L377.15,77.86 L378.03,75.5 L378.91,72.85 L379.79,70.2 L380.67,67.33 L381.56,64.58 L382.44,61.95 L383.32,59.17 L384.2,57.02 L385.08,55.09 L385.97,53.64 L386.85,51.74 L387.73,50.39 L388.61,49.18 L389.49,48.56 L390.38,48.13 L391.26,47.82 L392.14,47.43 L393.02,47.27 L393.9,47.81 L394.79,48.41 L395.67,49.38 L396.55,50.3 L397.43,51.34 L398.31,52.31 L399.2,53.03 L400.08,54.23 L400.96,55.11 L401.84,56.27 L402.72,57.21 L403.61,58.41 L404.49,59.64 L405.37,61.13 L406.25,62.61 L407.13,63.77 L408.02,64.8 L408.9,66.15 L409.78,67.48 L410.66,68.61 L411.54,69.86 L412.43,70.84 L413.31,72.21 L414.19,73.25 L415.07,74.95 L415.95,76.36 L416.84,77.96 L417.72,79.03 L418.6,80.72 L419.48,81.96 L420.36,83.83 L421.25,85.18 L422.13,87.07 L423.01,88.55 L423.89,90.2 L424.77,91.52 L425.66,92.82 L426.54,94.32 L427.42,95.8 L428.3,97.26 L429.18,98.41 L430.07,99.75 L430.95,101.05 L431.83,102.43 L432.71,103.52 L433.59,104.82 L434.48,106.08 L435.36,107.42 L436.24,108.74 L437.12,109.86 L438,110.96 L438.89,112.1 L439.77,113.05 L440.65,114.12 L441.53,114.93 L442.41,116 L443.3,116.94 L444.18,117.95 L445.06,118.91 L445.94,119.73 L446.82,120.44 L447.71,121.27 L448.59,122.23 L449.47,123.2 L450.35,124.01 L451.23,124.7 L452.12,125.49 L453,126.4 L453.88,127.4 L454.76,127.99 L455.64,128.76 L456.53,129.3 L457.41,130.01 L458.29,130.38 L459.17,131.09 L460.05,131.85 L460.94,132.64 L461.82,133.19 L462.7,133.62 L463.58,134.2 L464.46,134.8 L465.35,135.58 L466.23,136.05 L467.11,136.57 L467.99,136.87 L468.87,137.47 L469.76,137.85 L470.64,138.38 L471.52,138.74 L472.4,139.16 L473.28,139.55 L474.17,140 L475.05,140.46 L475.93,141.02 L476.81,141.47 L477.69,142.03 L478.58,142.27 L479.46,142.68 L480.34,142.99 L481.22,143.45 L482.1,143.81 L482.99,144.21 L483.87,144.64 L484.75,144.91 L485.63,145.12 L486.51,145.35 L487.4,145.6 L488.28,146.02 L489.16,146.24 L490.04,146.56 L490.92,146.74 L491.81,147 L492.69,147.16 L493.57,147.37 L494.45,147.66 L495.33,147.96 L496.22,148.06 L497.1,148.18 L497.98,148.38 L498.86,148.58 L499.74,148.83 L500.63,149.13 L501.51,149.47 L502.39,149.75 L503.27,149.82 L504.15,150.04 L505.04,150.17 L505.92,150.46 L506.8,150.62" fill="none" stroke="#f26a1c" stroke-width="1.55" stroke-linejoin="round"/>
<path d="M330.4,156.87 L331.28,156.81 L332.16,156.74 L333.05,156.67 L333.93,156.57 L334.81,156.46 L335.69,156.34 L336.57,156.2 L337.46,156.09 L338.34,155.92 L339.22,155.78 L340.1,155.54 L340.98,155.37 L341.87,155.13 L342.75,154.88 L343.63,154.54 L344.51,154.18 L345.39,153.69 L346.28,153.13 L347.16,152.51 L348.04,151.78 L348.92,150.99 L349.8,150.25 L350.69,149.4 L351.57,148.54 L352.45,147.3 L353.33,146.17 L354.21,144.76 L355.1,143.27 L355.98,141.55 L356.86,139.59 L357.74,137.38 L358.62,135.13 L359.51,132.78 L360.39,130.49 L361.27,128.14 L362.15,125.74 L363.03,123.07 L363.92,120.18 L364.8,117.02 L365.68,113.57 L366.56,110.01 L367.44,106.02 L368.33,102.32 L369.21,98.83 L370.09,95.67 L370.97,92.68 L371.85,89.59 L372.74,86.7 L373.62,84.07 L374.5,81.74 L375.38,79.5 L376.26,76.88 L377.15,73.99 L378.03,71.37 L378.91,68.63 L379.79,66.1 L380.67,63.22 L381.56,60.49 L382.44,57.52 L383.32,54.54 L384.2,52.26 L385.08,50.26 L385.97,48.86 L386.85,46.86 L387.73,45.48 L388.61,44.24 L389.49,43.53 L390.38,43.1 L391.26,42.72 L392.14,42.46 L393.02,42.26 L393.9,42.63 L394.79,42.95 L395.67,43.94 L396.55,44.96 L397.43,46.15 L398.31,47.11 L399.2,47.89 L400.08,49.25 L400.96,50.17 L401.84,51.36 L402.72,52.26 L403.61,53.47 L404.49,54.73 L405.37,56.21 L406.25,57.82 L407.13,59 L408.02,60.14 L408.9,61.39 L409.78,62.67 L410.66,63.77 L411.54,65.15 L412.43,66.48 L413.31,67.93 L414.19,69.01 L415.07,70.49 L415.95,71.88 L416.84,73.47 L417.72,74.66 L418.6,76.38 L419.48,77.72 L420.36,79.48 L421.25,80.72 L422.13,82.48 L423.01,83.81 L423.89,85.43 L424.77,86.95 L425.66,88.62 L426.54,90.31 L427.42,91.71 L428.3,93.18 L429.18,94.36 L430.07,95.86 L430.95,97.3 L431.83,98.8 L432.71,100.01 L433.59,101.18 L434.48,102.32 L435.36,103.68 L436.24,105.01 L437.12,106.34 L438,107.34 L438.89,108.62 L439.77,109.63 L440.65,110.8 L441.53,111.65 L442.41,112.81 L443.3,113.81 L444.18,114.99 L445.06,116.03 L445.94,116.9 L446.82,117.61 L447.71,118.41 L448.59,119.37 L449.47,120.39 L450.35,121.19 L451.23,121.93 L452.12,122.62 L453,123.61 L453.88,124.62 L454.76,125.41 L455.64,126.2 L456.53,126.84 L457.41,127.61 L458.29,127.98 L459.17,128.62 L460.05,129.28 L460.94,130.14 L461.82,130.88 L462.7,131.52 L463.58,132.14 L464.46,132.77 L465.35,133.54 L466.23,134.15 L467.11,134.73 L467.99,135.03 L468.87,135.62 L469.76,135.97 L470.64,136.6 L471.52,137.01 L472.4,137.38 L473.28,137.7 L474.17,138.08 L475.05,138.66 L475.93,139.26 L476.81,139.79 L477.69,140.32 L478.58,140.66 L479.46,141.04 L480.34,141.38 L481.22,141.77 L482.1,142.25 L482.99,142.68 L483.87,143.22 L484.75,143.54 L485.63,143.83 L486.51,144.12 L487.4,144.38 L488.28,144.84 L489.16,145.02 L490.04,145.42 L490.92,145.64 L491.81,145.99 L492.69,146.11 L493.57,146.29 L494.45,146.51 L495.33,146.89 L496.22,147.08 L497.1,147.2 L497.98,147.35 L498.86,147.57 L499.74,147.87 L500.63,148.18 L501.51,148.45 L502.39,148.74 L503.27,148.82 L504.15,149.09 L505.04,149.26 L505.92,149.55 L506.8,149.71" fill="none" stroke="#2ec8cc" stroke-width="1.5" stroke-linejoin="round"/>
<path d="M330.4,156.82 L331.28,156.76 L332.16,156.69 L333.05,156.62 L333.93,156.52 L334.81,156.41 L335.69,156.31 L336.57,156.18 L337.46,156.04 L338.34,155.83 L339.22,155.65 L340.1,155.39 L340.98,155.23 L341.87,155.01 L342.75,154.75 L343.63,154.38 L344.51,153.96 L345.39,153.42 L346.28,152.86 L347.16,152.21 L348.04,151.5 L348.92,150.69 L349.8,149.93 L350.69,149 L351.57,148.03 L352.45,146.78 L353.33,145.63 L354.21,144.21 L355.1,142.75 L355.98,141.01 L356.86,138.99 L357.74,136.83 L358.62,134.63 L359.51,132.31 L360.39,129.99 L361.27,127.69 L362.15,125.41 L363.03,122.79 L363.92,119.83 L364.8,116.6 L365.68,113.2 L366.56,109.74 L367.44,105.87 L368.33,102.36 L369.21,99.11 L370.09,96.02 L370.97,92.95 L371.85,89.93 L372.74,87.25 L373.62,84.76 L374.5,82.36 L375.38,80.21 L376.26,77.82 L377.15,75.13 L378.03,72.61 L378.91,69.9 L379.79,67.52 L380.67,64.83 L381.56,62.16 L382.44,59.32 L383.32,56.34 L384.2,54.02 L385.08,52.19 L385.97,50.79 L386.85,48.98 L387.73,47.5 L388.61,46.32 L389.49,45.7 L390.38,45.33 L391.26,45.02 L392.14,44.5 L393.02,44.25 L393.9,44.59 L394.79,45.23 L395.67,46.06 L396.55,47.05 L397.43,48.17 L398.31,49.19 L399.2,49.9 L400.08,51.06 L400.96,51.98 L401.84,53.19 L402.72,54.09 L403.61,55.23 L404.49,56.28 L405.37,57.62 L406.25,58.99 L407.13,60.21 L408.02,61.3 L408.9,62.62 L409.78,63.92 L410.66,64.91 L411.54,66.15 L412.43,67.28 L413.31,68.73 L414.19,69.69 L415.07,71.16 L415.95,72.55 L416.84,74.26 L417.72,75.31 L418.6,76.88 L419.48,78.08 L420.36,79.83 L421.25,81.18 L422.13,82.96 L423.01,84.29 L423.89,85.75 L424.77,87.08 L425.66,88.65 L426.54,90.23 L427.42,91.7 L428.3,93.16 L429.18,94.32 L430.07,95.76 L430.95,97.1 L431.83,98.61 L432.71,99.79 L433.59,101.06 L434.48,102.22 L435.36,103.43 L436.24,104.63 L437.12,105.86 L438,107.01 L438.89,108.29 L439.77,109.27 L440.65,110.42 L441.53,111.31 L442.41,112.4 L443.3,113.37 L444.18,114.48 L445.06,115.49 L445.94,116.31 L446.82,116.91 L447.71,117.64 L448.59,118.7 L449.47,119.79 L450.35,120.74 L451.23,121.46 L452.12,122.2 L453,123.17 L453.88,124.18 L454.76,124.85 L455.64,125.59 L456.53,126.13 L457.41,126.9 L458.29,127.37 L459.17,128.12 L460.05,128.95 L460.94,129.81 L461.82,130.4 L462.7,130.84 L463.58,131.44 L464.46,132.18 L465.35,133.05 L466.23,133.61 L467.11,134.15 L467.99,134.52 L468.87,135.12 L469.76,135.58 L470.64,136.14 L471.52,136.57 L472.4,136.89 L473.28,137.32 L474.17,137.73 L475.05,138.22 L475.93,138.71 L476.81,139.18 L477.69,139.77 L478.58,140.05 L479.46,140.44 L480.34,140.73 L481.22,141.23 L482.1,141.72 L482.99,142.17 L483.87,142.66 L484.75,143.01 L485.63,143.4 L486.51,143.75 L487.4,144.02 L488.28,144.38 L489.16,144.57 L490.04,145 L490.92,145.26 L491.81,145.58 L492.69,145.67 L493.57,145.94 L494.45,146.18 L495.33,146.51 L496.22,146.58 L497.1,146.75 L497.98,146.92 L498.86,147.14 L499.74,147.4 L500.63,147.75 L501.51,148.1 L502.39,148.34 L503.27,148.39 L504.15,148.63 L505.04,148.81 L505.92,149.15 L506.8,149.31" fill="none" stroke="#8a4f4f" stroke-width="1.55" stroke-linejoin="round"/>
<path d="M330.4,156.78 L331.28,156.71 L332.16,156.63 L333.05,156.56 L333.93,156.45 L334.81,156.32 L335.69,156.21 L336.57,156.08 L337.46,155.94 L338.34,155.72 L339.22,155.53 L340.1,155.26 L340.98,155.09 L341.87,154.86 L342.75,154.58 L343.63,154.18 L344.51,153.7 L345.39,153.15 L346.28,152.54 L347.16,151.86 L348.04,151.15 L348.92,150.32 L349.8,149.57 L350.69,148.57 L351.57,147.58 L352.45,146.26 L353.33,145.05 L354.21,143.6 L355.1,142.18 L355.98,140.3 L356.86,138.2 L357.74,135.93 L358.62,133.79 L359.51,131.55 L360.39,129.32 L361.27,127 L362.15,124.71 L363.03,121.94 L363.92,119.01 L364.8,115.66 L365.68,112.39 L366.56,108.77 L367.44,104.98 L368.33,101.64 L369.21,98.57 L370.09,95.63 L370.97,92.48 L371.85,89.59 L372.74,87.06 L373.62,84.64 L374.5,82.25 L375.38,80.03 L376.26,77.79 L377.15,75.16 L378.03,72.51 L378.91,69.77 L379.79,67.4 L380.67,64.91 L381.56,62.33 L382.44,59.49 L383.32,56.63 L384.2,54.45 L385.08,52.78 L385.97,51.34 L386.85,49.55 L387.73,48.25 L388.61,47.23 L389.49,46.6 L390.38,45.99 L391.26,45.79 L392.14,45.54 L393.02,45.4 L393.9,45.68 L394.79,46.01 L395.67,46.97 L396.55,47.77 L397.43,49 L398.31,49.84 L399.2,50.63 L400.08,51.61 L400.96,52.46 L401.84,53.45 L402.72,54.36 L403.61,55.44 L404.49,56.77 L405.37,58.25 L406.25,59.77 L407.13,60.77 L408.02,61.84 L408.9,63.09 L409.78,64.39 L410.66,65.16 L411.54,66.42 L412.43,67.45 L413.31,69.06 L414.19,69.97 L415.07,71.7 L415.95,73.01 L416.84,74.65 L417.72,75.6 L418.6,77 L419.48,78.17 L420.36,79.66 L421.25,81.13 L422.13,82.85 L423.01,84.25 L423.89,85.62 L424.77,86.87 L425.66,88.29 L426.54,89.9 L427.42,91.39 L428.3,92.99 L429.18,94.17 L430.07,95.64 L430.95,97.04 L431.83,98.5 L432.71,99.53 L433.59,100.57 L434.48,101.74 L435.36,103.09 L436.24,104.48 L437.12,105.62 L438,106.76 L438.89,107.93 L439.77,108.84 L440.65,110.05 L441.53,110.98 L442.41,112.16 L443.3,113.03 L444.18,114.19 L445.06,115.18 L445.94,115.97 L446.82,116.55 L447.71,117.33 L448.59,118.41 L449.47,119.37 L450.35,120.2 L451.23,120.81 L452.12,121.7 L453,122.7 L453.88,123.81 L454.76,124.49 L455.64,125.38 L456.53,125.93 L457.41,126.74 L458.29,127.02 L459.17,127.79 L460.05,128.48 L460.94,129.38 L461.82,130.01 L462.7,130.6 L463.58,131.23 L464.46,131.84 L465.35,132.62 L466.23,133.22 L467.11,133.79 L467.99,134.17 L468.87,134.83 L469.76,135.33 L470.64,135.88 L471.52,136.28 L472.4,136.62 L473.28,137.03 L474.17,137.42 L475.05,137.87 L475.93,138.34 L476.81,138.79 L477.69,139.36 L478.58,139.66 L479.46,140.06 L480.34,140.4 L481.22,140.87 L482.1,141.3 L482.99,141.76 L483.87,142.34 L484.75,142.73 L485.63,143.12 L486.51,143.38 L487.4,143.69 L488.28,144.09 L489.16,144.38 L490.04,144.76 L490.92,145.02 L491.81,145.35 L492.69,145.44 L493.57,145.71 L494.45,145.94 L495.33,146.35 L496.22,146.4 L497.1,146.6 L497.98,146.7 L498.86,146.93 L499.74,147.18 L500.63,147.51 L501.51,147.89 L502.39,148.14 L503.27,148.21 L504.15,148.43 L505.04,148.55 L505.92,148.88 L506.8,149.03" fill="none" stroke="#6e9cc8" stroke-width="1.55" stroke-linejoin="round"/>
<line x1="392.3" y1="24.1" x2="392.3" y2="163.4" stroke="#f25a6a" stroke-width="0.9" stroke-dasharray="2,1.6"/>
<path d="M330.4,26.1 L330.4,157.6 L506.8,157.6" fill="none" stroke="#2a2a2a" stroke-width="1.2"/>
<path d="M327.8,157.6 h2.6 M328.9,150.29 h1.5 M327.8,142.99 h2.6 M328.9,135.68 h1.5 M327.8,128.38 h2.6 M328.9,121.07 h1.5 M327.8,113.77 h2.6 M328.9,106.46 h1.5 M327.8,99.16 h2.6 M328.9,91.85 h1.5 M327.8,84.54 h2.6 M328.9,77.24 h1.5 M327.8,69.93 h2.6 M328.9,62.63 h1.5 M327.8,55.32 h2.6 M328.9,48.02 h1.5 M327.8,40.71 h2.6 M328.9,33.41 h1.5 M327.8,26.1 h2.6 M330.4,157.6 v4.5 M352.45,157.6 v2.4 M374.5,157.6 v4.5 M396.55,157.6 v2.4 M418.6,157.6 v4.5 M440.65,157.6 v2.4 M462.7,157.6 v4.5 M484.75,157.6 v2.4 M506.8,157.6 v4.5" stroke="#2a2a2a" stroke-width="1.1" fill="none"/>
<text transform="translate(323.14,28.71) scale(1.1,1)" font-size="7.3" text-anchor="end" font-family="Liberation Sans, sans-serif" font-weight="bold" stroke="#111" stroke-width="0.15" stroke-linejoin="round" fill="#111111">1.8x10</text><text transform="translate(323.39,25.41) scale(1.1,1)" font-size="4.6" font-family="Liberation Sans, sans-serif" font-weight="bold" stroke="#111" stroke-width="0.15" stroke-linejoin="round" fill="#111111">6</text>
<text transform="translate(323.14,43.32) scale(1.1,1)" font-size="7.3" text-anchor="end" font-family="Liberation Sans, sans-serif" font-weight="bold" stroke="#111" stroke-width="0.15" stroke-linejoin="round" fill="#111111">1.6x10</text><text transform="translate(323.39,40.02) scale(1.1,1)" font-size="4.6" font-family="Liberation Sans, sans-serif" font-weight="bold" stroke="#111" stroke-width="0.15" stroke-linejoin="round" fill="#111111">6</text>
<text transform="translate(323.14,57.94) scale(1.1,1)" font-size="7.3" text-anchor="end" font-family="Liberation Sans, sans-serif" font-weight="bold" stroke="#111" stroke-width="0.15" stroke-linejoin="round" fill="#111111">1.4x10</text><text transform="translate(323.39,54.64) scale(1.1,1)" font-size="4.6" font-family="Liberation Sans, sans-serif" font-weight="bold" stroke="#111" stroke-width="0.15" stroke-linejoin="round" fill="#111111">6</text>
<text transform="translate(323.14,72.55) scale(1.1,1)" font-size="7.3" text-anchor="end" font-family="Liberation Sans, sans-serif" font-weight="bold" stroke="#111" stroke-width="0.15" stroke-linejoin="round" fill="#111111">1.2x10</text><text transform="translate(323.39,69.25) scale(1.1,1)" font-size="4.6" font-family="Liberation Sans, sans-serif" font-weight="bold" stroke="#111" stroke-width="0.15" stroke-linejoin="round" fill="#111111">6</text>
<text transform="translate(323.14,87.16) scale(1.1,1)" font-size="7.3" text-anchor="end" font-family="Liberation Sans, sans-serif" font-weight="bold" stroke="#111" stroke-width="0.15" stroke-linejoin="round" fill="#111111">1x10</text><text transform="translate(323.39,83.86) scale(1.1,1)" font-size="4.6" font-family="Liberation Sans, sans-serif" font-weight="bold" stroke="#111" stroke-width="0.15" stroke-linejoin="round" fill="#111111">6</text>
<text transform="translate(323.14,101.77) scale(1.1,1)" font-size="7.3" text-anchor="end" font-family="Liberation Sans, sans-serif" font-weight="bold" stroke="#111" stroke-width="0.15" stroke-linejoin="round" fill="#111111">8x10</text><text transform="translate(323.39,98.47) scale(1.1,1)" font-size="4.6" font-family="Liberation Sans, sans-serif" font-weight="bold" stroke="#111" stroke-width="0.15" stroke-linejoin="round" fill="#111111">5</text>
<text transform="translate(323.14,116.38) scale(1.1,1)" font-size="7.3" text-anchor="end" font-family="Liberation Sans, sans-serif" font-weight="bold" stroke="#111" stroke-width="0.15" stroke-linejoin="round" fill="#111111">6x10</text><text transform="translate(323.39,113.08) scale(1.1,1)" font-size="4.6" font-family="Liberation Sans, sans-serif" font-weight="bold" stroke="#111" stroke-width="0.15" stroke-linejoin="round" fill="#111111">5</text>
<text transform="translate(323.14,130.99) scale(1.1,1)" font-size="7.3" text-anchor="end" font-family="Liberation Sans, sans-serif" font-weight="bold" stroke="#111" stroke-width="0.15" stroke-linejoin="round" fill="#111111">4x10</text><text transform="translate(323.39,127.69) scale(1.1,1)" font-size="4.6" font-family="Liberation Sans, sans-serif" font-weight="bold" stroke="#111" stroke-width="0.15" stroke-linejoin="round" fill="#111111">5</text>
<text transform="translate(323.14,145.6) scale(1.1,1)" font-size="7.3" text-anchor="end" font-family="Liberation Sans, sans-serif" font-weight="bold" stroke="#111" stroke-width="0.15" stroke-linejoin="round" fill="#111111">2x10</text><text transform="translate(323.39,142.3) scale(1.1,1)" font-size="4.6" font-family="Liberation Sans, sans-serif" font-weight="bold" stroke="#111" stroke-width="0.15" stroke-linejoin="round" fill="#111111">5</text>
<text transform="translate(325.5,160.21) scale(1.1,1)" font-size="7.3" text-anchor="end" font-family="Liberation Sans, sans-serif" font-weight="bold" stroke="#111" stroke-width="0.15" stroke-linejoin="round" fill="#111111">0</text>
<text x="330.4" y="172.03" font-size="7.85" text-anchor="middle" font-family="Liberation Sans, sans-serif" font-weight="bold" stroke="#111" stroke-width="0.15" stroke-linejoin="round" fill="#111111">400</text>
<text x="374.5" y="172.03" font-size="7.85" text-anchor="middle" font-family="Liberation Sans, sans-serif" font-weight="bold" stroke="#111" stroke-width="0.15" stroke-linejoin="round" fill="#111111">450</text>
<text x="418.6" y="172.03" font-size="7.85" text-anchor="middle" font-family="Liberation Sans, sans-serif" font-weight="bold" stroke="#111" stroke-width="0.15" stroke-linejoin="round" fill="#111111">500</text>
<text x="462.7" y="172.03" font-size="7.85" text-anchor="middle" font-family="Liberation Sans, sans-serif" font-weight="bold" stroke="#111" stroke-width="0.15" stroke-linejoin="round" fill="#111111">550</text>
<text x="506.8" y="172.03" font-size="7.85" text-anchor="middle" font-family="Liberation Sans, sans-serif" font-weight="bold" stroke="#111" stroke-width="0.15" stroke-linejoin="round" fill="#111111">600</text>
<text x="418.6" y="188.06" font-size="8.5" text-anchor="middle" font-family="Liberation Sans, sans-serif" font-weight="bold" stroke="#111" stroke-width="0.15" stroke-linejoin="round" fill="#111111">Wavelength/nm</text>
<text transform="translate(288.2,73.4) rotate(-90) scale(1.09,1)" font-size="7.5" text-anchor="middle" font-family="Liberation Sans, sans-serif" font-weight="bold" stroke="#111" stroke-width="0.15" stroke-linejoin="round" fill="#111111">Fluorescence intensity</text>
<text x="386.1" y="19.6" font-size="9.2" text-anchor="middle" font-family="Liberation Sans, sans-serif" font-weight="bold" stroke="#111" stroke-width="0.15" stroke-linejoin="round" fill="#111111">473 nm</text>
<text transform="translate(283.2,14.5) scale(1.1,1)" font-size="10.9" font-family="Liberation Sans, sans-serif" font-weight="bold" stroke="#111" stroke-width="0.15" stroke-linejoin="round" fill="#111111">(B)</text>
<path d="M54,368.09 L54.88,368.09 L55.76,368.09 L56.64,368.09 L57.51,368.08 L58.39,368.08 L59.27,368.08 L60.15,368.08 L61.03,368.08 L61.91,368.08 L62.78,368.07 L63.66,368.07 L64.54,368.07 L65.42,368.06 L66.3,368.06 L67.18,368.06 L68.06,368.05 L68.93,368.04 L69.81,368.04 L70.69,368.03 L71.57,368.02 L72.45,368.01 L73.33,367.99 L74.21,367.98 L75.08,367.97 L75.96,367.95 L76.84,367.93 L77.72,367.91 L78.6,367.89 L79.48,367.86 L80.36,367.83 L81.23,367.8 L82.11,367.77 L82.99,367.73 L83.87,367.69 L84.75,367.65 L85.63,367.61 L86.5,367.57 L87.38,367.53 L88.26,367.48 L89.14,367.42 L90.02,367.37 L90.9,367.31 L91.78,367.25 L92.65,367.19 L93.53,367.14 L94.41,367.09 L95.29,367.04 L96.17,366.99 L97.05,366.95 L97.92,366.91 L98.8,366.87 L99.68,366.82 L100.56,366.78 L101.44,366.74 L102.32,366.7 L103.2,366.66 L104.07,366.62 L104.95,366.57 L105.83,366.53 L106.71,366.48 L107.59,366.44 L108.47,366.4 L109.35,366.37 L110.22,366.35 L111.1,366.32 L111.98,366.31 L112.86,366.29 L113.74,366.29 L114.62,366.28 L115.5,366.28 L116.37,366.28 L117.25,366.28 L118.13,366.29 L119.01,366.3 L119.89,366.31 L120.77,366.33 L121.64,366.35 L122.52,366.37 L123.4,366.38 L124.28,366.4 L125.16,366.41 L126.04,366.43 L126.92,366.45 L127.79,366.47 L128.67,366.49 L129.55,366.51 L130.43,366.53 L131.31,366.55 L132.19,366.57 L133.06,366.58 L133.94,366.61 L134.82,366.63 L135.7,366.65 L136.58,366.67 L137.46,366.69 L138.34,366.72 L139.21,366.74 L140.09,366.76 L140.97,366.78 L141.85,366.8 L142.73,366.82 L143.61,366.85 L144.49,366.87 L145.36,366.89 L146.24,366.92 L147.12,366.95 L148,366.97 L148.88,367 L149.76,367.02 L150.63,367.05 L151.51,367.08 L152.39,367.1 L153.27,367.12 L154.15,367.13 L155.03,367.15 L155.91,367.18 L156.78,367.2 L157.66,367.22 L158.54,367.24 L159.42,367.26 L160.3,367.29 L161.18,367.3 L162.06,367.31 L162.93,367.33 L163.81,367.34 L164.69,367.36 L165.57,367.38 L166.45,367.4 L167.33,367.41 L168.2,367.43 L169.08,367.44 L169.96,367.46 L170.84,367.47 L171.72,367.48 L172.6,367.5 L173.48,367.51 L174.35,367.53 L175.23,367.54 L176.11,367.56 L176.99,367.57 L177.87,367.58 L178.75,367.6 L179.63,367.61 L180.5,367.62 L181.38,367.63 L182.26,367.64 L183.14,367.65 L184.02,367.66 L184.9,367.67 L185.78,367.68 L186.65,367.69 L187.53,367.7 L188.41,367.71 L189.29,367.72 L190.17,367.73 L191.05,367.74 L191.92,367.75 L192.8,367.76 L193.68,367.76 L194.56,367.77 L195.44,367.77 L196.32,367.78 L197.2,367.79 L198.07,367.79 L198.95,367.8 L199.83,367.81 L200.71,367.82 L201.59,367.82 L202.47,367.83 L203.34,367.84 L204.22,367.85 L205.1,367.85 L205.98,367.86 L206.86,367.86 L207.74,367.87 L208.62,367.88 L209.49,367.88 L210.37,367.89 L211.25,367.89 L212.13,367.9 L213.01,367.9 L213.89,367.91 L214.77,367.91 L215.64,367.91 L216.52,367.91 L217.4,367.92 L218.28,367.92 L219.16,367.93 L220.04,367.93 L220.91,367.93 L221.79,367.94 L222.67,367.94 L223.55,367.94 L224.43,367.95 L225.31,367.95 L226.19,367.96 L227.06,367.96 L227.94,367.96 L228.82,367.97 L229.7,367.97" fill="none" stroke="#111111" stroke-width="1.5" stroke-linejoin="round"/>
<path d="M54,368.04 L54.88,368.04 L55.76,368.03 L56.64,368.03 L57.51,368.02 L58.39,368.02 L59.27,368.01 L60.15,368 L61.03,367.98 L61.91,367.97 L62.78,367.96 L63.66,367.95 L64.54,367.93 L65.42,367.91 L66.3,367.89 L67.18,367.87 L68.06,367.84 L68.93,367.81 L69.81,367.77 L70.69,367.73 L71.57,367.68 L72.45,367.62 L73.33,367.56 L74.21,367.49 L75.08,367.41 L75.96,367.31 L76.84,367.22 L77.72,367.11 L78.6,367 L79.48,366.86 L80.36,366.71 L81.23,366.55 L82.11,366.37 L82.99,366.18 L83.87,365.98 L84.75,365.78 L85.63,365.57 L86.5,365.37 L87.38,365.14 L88.26,364.87 L89.14,364.58 L90.02,364.29 L90.9,364 L91.78,363.68 L92.65,363.38 L93.53,363.1 L94.41,362.84 L95.29,362.58 L96.17,362.34 L97.05,362.13 L97.92,361.9 L98.8,361.7 L99.68,361.46 L100.56,361.27 L101.44,361.06 L102.32,360.84 L103.2,360.6 L104.07,360.37 L104.95,360.13 L105.83,359.91 L106.71,359.68 L107.59,359.48 L108.47,359.31 L109.35,359.13 L110.22,358.97 L111.1,358.86 L111.98,358.78 L112.86,358.71 L113.74,358.65 L114.62,358.6 L115.5,358.59 L116.37,358.61 L117.25,358.64 L118.13,358.68 L119.01,358.73 L119.89,358.79 L120.77,358.88 L121.64,358.97 L122.52,359.09 L123.4,359.18 L124.28,359.26 L125.16,359.34 L126.04,359.42 L126.92,359.52 L127.79,359.61 L128.67,359.72 L129.55,359.83 L130.43,359.94 L131.31,360.02 L132.19,360.12 L133.06,360.22 L133.94,360.34 L134.82,360.44 L135.7,360.54 L136.58,360.67 L137.46,360.78 L138.34,360.93 L139.21,361.03 L140.09,361.16 L140.97,361.26 L141.85,361.38 L142.73,361.5 L143.61,361.6 L144.49,361.73 L145.36,361.85 L146.24,361.97 L147.12,362.12 L148,362.24 L148.88,362.38 L149.76,362.52 L150.63,362.68 L151.51,362.81 L152.39,362.93 L153.27,363.01 L154.15,363.11 L155.03,363.19 L155.91,363.31 L156.78,363.44 L157.66,363.55 L158.54,363.66 L159.42,363.76 L160.3,363.89 L161.18,363.98 L162.06,364.04 L162.93,364.12 L163.81,364.2 L164.69,364.3 L165.57,364.39 L166.45,364.48 L167.33,364.57 L168.2,364.63 L169.08,364.72 L169.96,364.8 L170.84,364.87 L171.72,364.94 L172.6,365.01 L173.48,365.09 L174.35,365.16 L175.23,365.24 L176.11,365.31 L176.99,365.37 L177.87,365.43 L178.75,365.5 L179.63,365.57 L180.5,365.62 L181.38,365.67 L182.26,365.73 L183.14,365.79 L184.02,365.84 L184.9,365.89 L185.78,365.94 L186.65,366.01 L187.53,366.06 L188.41,366.1 L189.29,366.15 L190.17,366.2 L191.05,366.25 L191.92,366.29 L192.8,366.33 L193.68,366.35 L194.56,366.4 L195.44,366.41 L196.32,366.46 L197.2,366.49 L198.07,366.52 L198.95,366.57 L199.83,366.61 L200.71,366.65 L201.59,366.68 L202.47,366.73 L203.34,366.76 L204.22,366.81 L205.1,366.83 L205.98,366.86 L206.86,366.88 L207.74,366.92 L208.62,366.95 L209.49,366.98 L210.37,367.01 L211.25,367.03 L212.13,367.06 L213.01,367.07 L213.89,367.09 L214.77,367.11 L215.64,367.13 L216.52,367.15 L217.4,367.17 L218.28,367.19 L219.16,367.22 L220.04,367.24 L220.91,367.26 L221.79,367.27 L222.67,367.29 L223.55,367.3 L224.43,367.33 L225.31,367.35 L226.19,367.37 L227.06,367.38 L227.94,367.4 L228.82,367.42 L229.7,367.44" fill="none" stroke="#f04848" stroke-width="1.5" stroke-linejoin="round"/>
<path d="M54,367.99 L54.88,367.98 L55.76,367.97 L56.64,367.96 L57.51,367.95 L58.39,367.94 L59.27,367.93 L60.15,367.91 L61.03,367.88 L61.91,367.86 L62.78,367.83 L63.66,367.8 L64.54,367.77 L65.42,367.74 L66.3,367.71 L67.18,367.66 L68.06,367.61 L68.93,367.55 L69.81,367.47 L70.69,367.38 L71.57,367.28 L72.45,367.18 L73.33,367.05 L74.21,366.92 L75.08,366.77 L75.96,366.6 L76.84,366.42 L77.72,366.21 L78.6,366 L79.48,365.73 L80.36,365.46 L81.23,365.13 L82.11,364.8 L82.99,364.42 L83.87,364.04 L84.75,363.63 L85.63,363.21 L86.5,362.81 L87.38,362.37 L88.26,361.88 L89.14,361.32 L90.02,360.77 L90.9,360.21 L91.78,359.61 L92.65,359.02 L93.53,358.48 L94.41,357.98 L95.29,357.49 L96.17,357 L97.05,356.59 L97.92,356.16 L98.8,355.79 L99.68,355.33 L100.56,354.95 L101.44,354.55 L102.32,354.13 L103.2,353.67 L104.07,353.22 L104.95,352.78 L105.83,352.33 L106.71,351.89 L107.59,351.49 L108.47,351.16 L109.35,350.83 L110.22,350.55 L111.1,350.35 L111.98,350.17 L112.86,350.05 L113.74,349.91 L114.62,349.81 L115.5,349.81 L116.37,349.87 L117.25,349.92 L118.13,350.02 L119.01,350.11 L119.89,350.25 L120.77,350.39 L121.64,350.56 L122.52,350.76 L123.4,350.94 L124.28,351.08 L125.16,351.25 L126.04,351.42 L126.92,351.63 L127.79,351.81 L128.67,351.98 L129.55,352.19 L130.43,352.41 L131.31,352.6 L132.19,352.79 L133.06,352.98 L133.94,353.2 L134.82,353.39 L135.7,353.6 L136.58,353.84 L137.46,354.05 L138.34,354.32 L139.21,354.54 L140.09,354.78 L140.97,355 L141.85,355.22 L142.73,355.46 L143.61,355.65 L144.49,355.88 L145.36,356.13 L146.24,356.38 L147.12,356.66 L148,356.91 L148.88,357.17 L149.76,357.43 L150.63,357.72 L151.51,357.98 L152.39,358.22 L153.27,358.38 L154.15,358.58 L155.03,358.74 L155.91,358.99 L156.78,359.2 L157.66,359.42 L158.54,359.63 L159.42,359.83 L160.3,360.05 L161.18,360.21 L162.06,360.33 L162.93,360.49 L163.81,360.63 L164.69,360.82 L165.57,360.99 L166.45,361.17 L167.33,361.34 L168.2,361.47 L169.08,361.65 L169.96,361.82 L170.84,361.95 L171.72,362.07 L172.6,362.2 L173.48,362.36 L174.35,362.5 L175.23,362.64 L176.11,362.8 L176.99,362.93 L177.87,363.05 L178.75,363.17 L179.63,363.3 L180.5,363.4 L181.38,363.49 L182.26,363.59 L183.14,363.7 L184.02,363.79 L184.9,363.9 L185.78,363.99 L186.65,364.11 L187.53,364.22 L188.41,364.31 L189.29,364.39 L190.17,364.47 L191.05,364.58 L191.92,364.65 L192.8,364.74 L193.68,364.78 L194.56,364.87 L195.44,364.91 L196.32,364.99 L197.2,365.04 L198.07,365.13 L198.95,365.21 L199.83,365.28 L200.71,365.36 L201.59,365.42 L202.47,365.5 L203.34,365.58 L204.22,365.65 L205.1,365.7 L205.98,365.76 L206.86,365.81 L207.74,365.88 L208.62,365.94 L209.49,365.99 L210.37,366.04 L211.25,366.07 L212.13,366.11 L213.01,366.14 L213.89,366.2 L214.77,366.24 L215.64,366.27 L216.52,366.3 L217.4,366.35 L218.28,366.4 L219.16,366.46 L220.04,366.49 L220.91,366.52 L221.79,366.53 L222.67,366.56 L223.55,366.59 L224.43,366.65 L225.31,366.68 L226.19,366.72 L227.06,366.74 L227.94,366.78 L228.82,366.83 L229.7,366.87" fill="none" stroke="#3b74e6" stroke-width="1.5" stroke-linejoin="round"/>
<path d="M54,367.95 L54.88,367.94 L55.76,367.93 L56.64,367.92 L57.51,367.9 L58.39,367.88 L59.27,367.87 L60.15,367.84 L61.03,367.8 L61.91,367.77 L62.78,367.75 L63.66,367.71 L64.54,367.67 L65.42,367.62 L66.3,367.57 L67.18,367.51 L68.06,367.44 L68.93,367.36 L69.81,367.27 L70.69,367.16 L71.57,367.03 L72.45,366.88 L73.33,366.72 L74.21,366.53 L75.08,366.35 L75.96,366.11 L76.84,365.88 L77.72,365.6 L78.6,365.33 L79.48,364.97 L80.36,364.61 L81.23,364.18 L82.11,363.73 L82.99,363.23 L83.87,362.71 L84.75,362.19 L85.63,361.66 L86.5,361.14 L87.38,360.55 L88.26,359.9 L89.14,359.14 L90.02,358.42 L90.9,357.68 L91.78,356.89 L92.65,356.13 L93.53,355.43 L94.41,354.79 L95.29,354.14 L96.17,353.48 L97.05,352.93 L97.92,352.35 L98.8,351.85 L99.68,351.26 L100.56,350.72 L101.44,350.22 L102.32,349.68 L103.2,349.12 L104.07,348.51 L104.95,347.9 L105.83,347.28 L106.71,346.71 L107.59,346.19 L108.47,345.77 L109.35,345.31 L110.22,344.95 L111.1,344.68 L111.98,344.48 L112.86,344.31 L113.74,344.15 L114.62,343.99 L115.5,343.98 L116.37,344.02 L117.25,344.13 L118.13,344.28 L119.01,344.44 L119.89,344.59 L120.77,344.79 L121.64,345.02 L122.52,345.27 L123.4,345.47 L124.28,345.63 L125.16,345.86 L126.04,346.08 L126.92,346.35 L127.79,346.59 L128.67,346.84 L129.55,347.14 L130.43,347.44 L131.31,347.66 L132.19,347.91 L133.06,348.16 L133.94,348.45 L134.82,348.75 L135.7,349.02 L136.58,349.38 L137.46,349.63 L138.34,350.01 L139.21,350.27 L140.09,350.61 L140.97,350.85 L141.85,351.15 L142.73,351.43 L143.61,351.75 L144.49,352.06 L145.36,352.38 L146.24,352.7 L147.12,353.07 L148,353.39 L148.88,353.74 L149.76,354.1 L150.63,354.47 L151.51,354.8 L152.39,355.09 L153.27,355.33 L154.15,355.61 L155.03,355.84 L155.91,356.16 L156.78,356.43 L157.66,356.69 L158.54,356.97 L159.42,357.23 L160.3,357.56 L161.18,357.77 L162.06,357.93 L162.93,358.13 L163.81,358.32 L164.69,358.55 L165.57,358.77 L166.45,359.01 L167.33,359.25 L168.2,359.41 L169.08,359.63 L169.96,359.85 L170.84,360.04 L171.72,360.21 L172.6,360.36 L173.48,360.56 L174.35,360.74 L175.23,360.94 L176.11,361.11 L176.99,361.29 L177.87,361.44 L178.75,361.62 L179.63,361.77 L180.5,361.91 L181.38,362.04 L182.26,362.18 L183.14,362.35 L184.02,362.47 L184.9,362.6 L185.78,362.74 L186.65,362.9 L187.53,363.03 L188.41,363.16 L189.29,363.26 L190.17,363.38 L191.05,363.48 L191.92,363.59 L192.8,363.69 L193.68,363.76 L194.56,363.86 L195.44,363.92 L196.32,364.03 L197.2,364.1 L198.07,364.21 L198.95,364.35 L199.83,364.43 L200.71,364.53 L201.59,364.59 L202.47,364.72 L203.34,364.81 L204.22,364.92 L205.1,364.98 L205.98,365.08 L206.86,365.12 L207.74,365.2 L208.62,365.27 L209.49,365.34 L210.37,365.41 L211.25,365.46 L212.13,365.51 L213.01,365.54 L213.89,365.6 L214.77,365.66 L215.64,365.71 L216.52,365.75 L217.4,365.81 L218.28,365.89 L219.16,365.95 L220.04,366 L220.91,366.03 L221.79,366.06 L222.67,366.1 L223.55,366.14 L224.43,366.2 L225.31,366.25 L226.19,366.3 L227.06,366.34 L227.94,366.4 L228.82,366.45 L229.7,366.49" fill="none" stroke="#3aa86a" stroke-width="1.5" stroke-linejoin="round"/>
<path d="M54,367.87 L54.88,367.85 L55.76,367.83 L56.64,367.82 L57.51,367.79 L58.39,367.77 L59.27,367.74 L60.15,367.69 L61.03,367.63 L61.91,367.59 L62.78,367.54 L63.66,367.49 L64.54,367.41 L65.42,367.34 L66.3,367.27 L67.18,367.18 L68.06,367.08 L68.93,366.94 L69.81,366.78 L70.69,366.59 L71.57,366.41 L72.45,366.17 L73.33,365.93 L74.21,365.64 L75.08,365.35 L75.96,364.98 L76.84,364.61 L77.72,364.16 L78.6,363.69 L79.48,363.13 L80.36,362.57 L81.23,361.92 L82.11,361.21 L82.99,360.43 L83.87,359.62 L84.75,358.81 L85.63,357.95 L86.5,357.14 L87.38,356.21 L88.26,355.2 L89.14,354.05 L90.02,352.85 L90.9,351.65 L91.78,350.42 L92.65,349.23 L93.53,348.1 L94.41,347.09 L95.29,346.06 L96.17,345.09 L97.05,344.18 L97.92,343.3 L98.8,342.47 L99.68,341.54 L100.56,340.72 L101.44,339.88 L102.32,338.99 L103.2,338.07 L104.07,337.15 L104.95,336.2 L105.83,335.27 L106.71,334.38 L107.59,333.6 L108.47,332.93 L109.35,332.2 L110.22,331.62 L111.1,331.13 L111.98,330.77 L112.86,330.49 L113.74,330.28 L114.62,330.1 L115.5,330.1 L116.37,330.21 L117.25,330.35 L118.13,330.49 L119.01,330.68 L119.89,330.91 L120.77,331.27 L121.64,331.69 L122.52,332.15 L123.4,332.53 L124.28,332.76 L125.16,333.11 L126.04,333.5 L126.92,334.03 L127.79,334.4 L128.67,334.76 L129.55,335.16 L130.43,335.66 L131.31,336.02 L132.19,336.43 L133.06,336.81 L133.94,337.27 L134.82,337.69 L135.7,338.08 L136.58,338.64 L137.46,339.09 L138.34,339.73 L139.21,340.19 L140.09,340.68 L140.97,341.09 L141.85,341.51 L142.73,341.99 L143.61,342.46 L144.49,343 L145.36,343.53 L146.24,344.08 L147.12,344.64 L148,345.14 L148.88,345.66 L149.76,346.22 L150.63,346.84 L151.51,347.39 L152.39,347.84 L153.27,348.18 L154.15,348.56 L155.03,348.93 L155.91,349.44 L156.78,349.9 L157.66,350.31 L158.54,350.76 L159.42,351.19 L160.3,351.7 L161.18,352.04 L162.06,352.3 L162.93,352.61 L163.81,352.91 L164.69,353.29 L165.57,353.61 L166.45,354.01 L167.33,354.34 L168.2,354.64 L169.08,354.97 L169.96,355.33 L170.84,355.65 L171.72,355.94 L172.6,356.18 L173.48,356.47 L174.35,356.73 L175.23,357 L176.11,357.3 L176.99,357.51 L177.87,357.79 L178.75,358.07 L179.63,358.35 L180.5,358.59 L181.38,358.74 L182.26,358.99 L183.14,359.21 L184.02,359.43 L184.9,359.62 L185.78,359.81 L186.65,360.04 L187.53,360.23 L188.41,360.44 L189.29,360.61 L190.17,360.82 L191.05,360.99 L191.92,361.15 L192.8,361.33 L193.68,361.43 L194.56,361.6 L195.44,361.66 L196.32,361.83 L197.2,361.95 L198.07,362.14 L198.95,362.33 L199.83,362.47 L200.71,362.63 L201.59,362.77 L202.47,362.95 L203.34,363.09 L204.22,363.25 L205.1,363.31 L205.98,363.45 L206.86,363.52 L207.74,363.67 L208.62,363.76 L209.49,363.85 L210.37,363.96 L211.25,364.04 L212.13,364.13 L213.01,364.19 L213.89,364.28 L214.77,364.34 L215.64,364.42 L216.52,364.49 L217.4,364.61 L218.28,364.72 L219.16,364.81 L220.04,364.87 L220.91,364.93 L221.79,365.01 L222.67,365.06 L223.55,365.14 L224.43,365.24 L225.31,365.32 L226.19,365.39 L227.06,365.43 L227.94,365.52 L228.82,365.6 L229.7,365.67" fill="none" stroke="#b27ef0" stroke-width="1.5" stroke-linejoin="round"/>
<path d="M54,367.81 L54.88,367.78 L55.76,367.75 L56.64,367.73 L57.51,367.69 L58.39,367.66 L59.27,367.62 L60.15,367.57 L61.03,367.49 L61.91,367.43 L62.78,367.38 L63.66,367.3 L64.54,367.2 L65.42,367.1 L66.3,367.01 L67.18,366.89 L68.06,366.76 L68.93,366.58 L69.81,366.37 L70.69,366.14 L71.57,365.88 L72.45,365.59 L73.33,365.26 L74.21,364.88 L75.08,364.48 L75.96,363.98 L76.84,363.49 L77.72,362.92 L78.6,362.34 L79.48,361.63 L80.36,360.89 L81.23,360.02 L82.11,359.11 L82.99,358.08 L83.87,357.04 L84.75,355.94 L85.63,354.81 L86.5,353.72 L87.38,352.55 L88.26,351.26 L89.14,349.75 L90.02,348.22 L90.9,346.64 L91.78,344.97 L92.65,343.42 L93.53,341.98 L94.41,340.68 L95.29,339.29 L96.17,338 L97.05,336.85 L97.92,335.67 L98.8,334.58 L99.68,333.35 L100.56,332.3 L101.44,331.25 L102.32,330.15 L103.2,328.91 L104.07,327.58 L104.95,326.36 L105.83,325.18 L106.71,324.03 L107.59,322.91 L108.47,321.96 L109.35,321.04 L110.22,320.36 L111.1,319.8 L111.98,319.44 L112.86,318.96 L113.74,318.67 L114.62,318.35 L115.5,318.36 L116.37,318.47 L117.25,318.62 L118.13,318.96 L119.01,319.25 L119.89,319.64 L120.77,320 L121.64,320.49 L122.52,321.09 L123.4,321.56 L124.28,321.91 L125.16,322.4 L126.04,322.85 L126.92,323.53 L127.79,323.99 L128.67,324.57 L129.55,325.12 L130.43,325.68 L131.31,326.12 L132.19,326.63 L133.06,327.26 L133.94,327.86 L134.82,328.49 L135.7,328.97 L136.58,329.77 L137.46,330.29 L138.34,331.15 L139.21,331.71 L140.09,332.42 L140.97,332.94 L141.85,333.49 L142.73,334.12 L143.61,334.76 L144.49,335.44 L145.36,336.16 L146.24,336.9 L147.12,337.72 L148,338.35 L148.88,339.02 L149.76,339.72 L150.63,340.52 L151.51,341.19 L152.39,341.75 L153.27,342.2 L154.15,342.76 L155.03,343.28 L155.91,343.92 L156.78,344.48 L157.66,345.04 L158.54,345.66 L159.42,346.23 L160.3,346.91 L161.18,347.28 L162.06,347.63 L162.93,348.03 L163.81,348.48 L164.69,348.94 L165.57,349.34 L166.45,349.84 L167.33,350.32 L168.2,350.7 L169.08,351.1 L169.96,351.57 L170.84,351.94 L171.72,352.32 L172.6,352.68 L173.48,353.08 L174.35,353.45 L175.23,353.81 L176.11,354.21 L176.99,354.55 L177.87,354.86 L178.75,355.2 L179.63,355.53 L180.5,355.86 L181.38,356.1 L182.26,356.41 L183.14,356.7 L184.02,356.98 L184.9,357.25 L185.78,357.49 L186.65,357.82 L187.53,358.05 L188.41,358.29 L189.29,358.47 L190.17,358.72 L191.05,358.97 L191.92,359.21 L192.8,359.42 L193.68,359.51 L194.56,359.71 L195.44,359.81 L196.32,360.08 L197.2,360.24 L198.07,360.45 L198.95,360.69 L199.83,360.88 L200.71,361.09 L201.59,361.25 L202.47,361.51 L203.34,361.71 L204.22,361.89 L205.1,361.99 L205.98,362.16 L206.86,362.26 L207.74,362.43 L208.62,362.55 L209.49,362.71 L210.37,362.85 L211.25,362.92 L212.13,363.02 L213.01,363.11 L213.89,363.23 L214.77,363.31 L215.64,363.43 L216.52,363.52 L217.4,363.65 L218.28,363.75 L219.16,363.87 L220.04,363.96 L220.91,364.07 L221.79,364.16 L222.67,364.26 L223.55,364.34 L224.43,364.47 L225.31,364.56 L226.19,364.65 L227.06,364.7 L227.94,364.81 L228.82,364.91 L229.7,365.02" fill="none" stroke="#d4a22c" stroke-width="1.5" stroke-linejoin="round"/>
<path d="M54,367.68 L54.88,367.65 L55.76,367.61 L56.64,367.56 L57.51,367.51 L58.39,367.47 L59.27,367.43 L60.15,367.35 L61.03,367.23 L61.91,367.14 L62.78,367.05 L63.66,366.96 L64.54,366.84 L65.42,366.7 L66.3,366.57 L67.18,366.38 L68.06,366.18 L68.93,365.95 L69.81,365.67 L70.69,365.34 L71.57,364.96 L72.45,364.53 L73.33,364.07 L74.21,363.52 L75.08,362.97 L75.96,362.26 L76.84,361.59 L77.72,360.75 L78.6,359.94 L79.48,358.89 L80.36,357.89 L81.23,356.65 L82.11,355.37 L82.99,353.92 L83.87,352.46 L84.75,350.92 L85.63,349.34 L86.5,347.86 L87.38,346.18 L88.26,344.27 L89.14,342.09 L90.02,339.98 L90.9,337.86 L91.78,335.55 L92.65,333.22 L93.53,331.15 L94.41,329.25 L95.29,327.4 L96.17,325.51 L97.05,323.94 L97.92,322.26 L98.8,320.8 L99.68,318.99 L100.56,317.49 L101.44,315.96 L102.32,314.49 L103.2,312.87 L104.07,311.13 L104.95,309.38 L105.83,307.68 L106.71,306.04 L107.59,304.43 L108.47,303.05 L109.35,301.67 L110.22,300.74 L111.1,300 L111.98,299.45 L112.86,298.84 L113.74,298.38 L114.62,297.89 L115.5,297.81 L116.37,297.87 L117.25,298.2 L118.13,298.65 L119.01,299.18 L119.89,299.69 L120.77,300.38 L121.64,301.08 L122.52,301.92 L123.4,302.54 L124.28,303.1 L125.16,303.87 L126.04,304.55 L126.92,305.42 L127.79,306 L128.67,306.75 L129.55,307.53 L130.43,308.48 L131.31,309.17 L132.19,309.98 L133.06,310.71 L133.94,311.59 L134.82,312.4 L135.7,313.25 L136.58,314.33 L137.46,315.23 L138.34,316.29 L139.21,317.08 L140.09,318.05 L140.97,318.84 L141.85,319.76 L142.73,320.64 L143.61,321.65 L144.49,322.6 L145.36,323.59 L146.24,324.62 L147.12,325.7 L148,326.7 L148.88,327.69 L149.76,328.77 L150.63,329.79 L151.51,330.74 L152.39,331.52 L153.27,332.23 L154.15,332.94 L155.03,333.67 L155.91,334.59 L156.78,335.48 L157.66,336.26 L158.54,337.09 L159.42,337.84 L160.3,338.7 L161.18,339.37 L162.06,339.79 L162.93,340.39 L163.81,340.88 L164.69,341.58 L165.57,342.24 L166.45,342.94 L167.33,343.62 L168.2,344.13 L169.08,344.76 L169.96,345.4 L170.84,345.93 L171.72,346.44 L172.6,346.89 L173.48,347.41 L174.35,347.91 L175.23,348.4 L176.11,348.98 L176.99,349.46 L177.87,349.98 L178.75,350.48 L179.63,350.91 L180.5,351.35 L181.38,351.66 L182.26,352.07 L183.14,352.48 L184.02,352.85 L184.9,353.24 L185.78,353.58 L186.65,353.98 L187.53,354.3 L188.41,354.66 L189.29,355.01 L190.17,355.32 L191.05,355.6 L191.92,355.87 L192.8,356.18 L193.68,356.39 L194.56,356.69 L195.44,356.88 L196.32,357.2 L197.2,357.44 L198.07,357.74 L198.95,358.08 L199.83,358.34 L200.71,358.61 L201.59,358.83 L202.47,359.14 L203.34,359.41 L204.22,359.67 L205.1,359.81 L205.98,360.01 L206.86,360.13 L207.74,360.38 L208.62,360.58 L209.49,360.78 L210.37,360.94 L211.25,361.04 L212.13,361.19 L213.01,361.32 L213.89,361.48 L214.77,361.61 L215.64,361.77 L216.52,361.91 L217.4,362.08 L218.28,362.27 L219.16,362.45 L220.04,362.6 L220.91,362.7 L221.79,362.8 L222.67,362.9 L223.55,363.03 L224.43,363.18 L225.31,363.33 L226.19,363.44 L227.06,363.55 L227.94,363.72 L228.82,363.89 L229.7,364.04" fill="none" stroke="#2ec8cc" stroke-width="1.5" stroke-linejoin="round"/>
<path d="M54,367.45 L54.88,367.38 L55.76,367.33 L56.64,367.28 L57.51,367.21 L58.39,367.12 L59.27,367.04 L60.15,366.91 L61.03,366.75 L61.91,366.63 L62.78,366.5 L63.66,366.34 L64.54,366.11 L65.42,365.88 L66.3,365.7 L67.18,365.45 L68.06,365.18 L68.93,364.78 L69.81,364.31 L70.69,363.8 L71.57,363.22 L72.45,362.56 L73.33,361.81 L74.21,360.98 L75.08,360.15 L75.96,359.09 L76.84,357.99 L77.72,356.7 L78.6,355.36 L79.48,353.79 L80.36,352.24 L81.23,350.32 L82.11,348.32 L82.99,346 L83.87,343.69 L84.75,341.32 L85.63,338.84 L86.5,336.5 L87.38,333.73 L88.26,330.83 L89.14,327.49 L90.02,324.24 L90.9,320.73 L91.78,317.15 L92.65,313.54 L93.53,310.41 L94.41,307.44 L95.29,304.45 L96.17,301.42 L97.05,298.92 L97.92,296.47 L98.8,294.3 L99.68,291.52 L100.56,289.15 L101.44,286.64 L102.32,284.33 L103.2,281.68 L104.07,279.07 L104.95,276.18 L105.83,273.43 L106.71,270.71 L107.59,268.53 L108.47,266.7 L109.35,264.7 L110.22,262.93 L111.1,261.42 L111.98,260.58 L112.86,259.7 L113.74,259.19 L114.62,258.43 L115.5,258.47 L116.37,258.63 L117.25,259.13 L118.13,259.76 L119.01,260.59 L119.89,261.47 L120.77,262.46 L121.64,263.59 L122.52,264.92 L123.4,266.05 L124.28,266.94 L125.16,267.97 L126.04,269.09 L126.92,270.38 L127.79,271.72 L128.67,273 L129.55,274.31 L130.43,275.77 L131.31,276.85 L132.19,278.15 L133.06,279.37 L133.94,280.65 L134.82,281.95 L135.7,283.17 L136.58,284.95 L137.46,286.36 L138.34,288.12 L139.21,289.51 L140.09,291.22 L140.97,292.56 L141.85,293.99 L142.73,295.44 L143.61,297.03 L144.49,298.77 L145.36,300.47 L146.24,302.16 L147.12,303.85 L148,305.3 L148.88,306.71 L149.76,308.17 L150.63,309.78 L151.51,311.31 L152.39,312.65 L153.27,313.76 L154.15,315.02 L155.03,316.1 L155.91,317.57 L156.78,318.88 L157.66,320.03 L158.54,321.27 L159.42,322.48 L160.3,323.99 L161.18,324.98 L162.06,325.68 L162.93,326.49 L163.81,327.33 L164.69,328.35 L165.57,329.34 L166.45,330.44 L167.33,331.6 L168.2,332.52 L169.08,333.56 L169.96,334.44 L170.84,335.17 L171.72,335.84 L172.6,336.54 L173.48,337.33 L174.35,338.16 L175.23,339.01 L176.11,339.88 L176.99,340.65 L177.87,341.42 L178.75,342.16 L179.63,342.72 L180.5,343.39 L181.38,343.95 L182.26,344.66 L183.14,345.3 L184.02,345.83 L184.9,346.3 L185.78,346.72 L186.65,347.33 L187.53,347.8 L188.41,348.35 L189.29,348.83 L190.17,349.33 L191.05,349.77 L191.92,350.24 L192.8,350.82 L193.68,351.15 L194.56,351.64 L195.44,351.91 L196.32,352.45 L197.2,352.8 L198.07,353.28 L198.95,353.8 L199.83,354.18 L200.71,354.62 L201.59,354.91 L202.47,355.34 L203.34,355.65 L204.22,355.98 L205.1,356.13 L205.98,356.36 L206.86,356.5 L207.74,356.84 L208.62,357.15 L209.49,357.49 L210.37,357.8 L211.25,357.93 L212.13,358.14 L213.01,358.31 L213.89,358.58 L214.77,358.79 L215.64,359.01 L216.52,359.25 L217.4,359.59 L218.28,359.87 L219.16,360.14 L220.04,360.33 L220.91,360.51 L221.79,360.65 L222.67,360.81 L223.55,361.01 L224.43,361.28 L225.31,361.49 L226.19,361.72 L227.06,361.85 L227.94,362.08 L228.82,362.26 L229.7,362.49" fill="none" stroke="#8a4f4f" stroke-width="1.55" stroke-linejoin="round"/>
<path d="M54,367.43 L54.88,367.36 L55.76,367.3 L56.64,367.23 L57.51,367.16 L58.39,367.07 L59.27,367 L60.15,366.87 L61.03,366.71 L61.91,366.6 L62.78,366.47 L63.66,366.3 L64.54,366.06 L65.42,365.83 L66.3,365.63 L67.18,365.35 L68.06,365.03 L68.93,364.63 L69.81,364.11 L70.69,363.58 L71.57,362.99 L72.45,362.34 L73.33,361.59 L74.21,360.71 L75.08,359.85 L75.96,358.67 L76.84,357.59 L77.72,356.24 L78.6,354.92 L79.48,353.18 L80.36,351.49 L81.23,349.55 L82.11,347.44 L82.99,345.08 L83.87,342.58 L84.75,340.12 L85.63,337.58 L86.5,335.27 L87.38,332.5 L88.26,329.51 L89.14,325.92 L90.02,322.38 L90.9,318.81 L91.78,315.06 L92.65,311.52 L93.53,308.13 L94.41,305.22 L95.29,302.12 L96.17,299.02 L97.05,296.2 L97.92,293.44 L98.8,291.1 L99.68,288.27 L100.56,285.99 L101.44,283.52 L102.32,281.07 L103.2,278.14 L104.07,275.3 L104.95,272.56 L105.83,269.89 L106.71,267.21 L107.59,264.58 L108.47,262.45 L109.35,260.37 L110.22,258.78 L111.1,257.48 L111.98,256.46 L112.86,255.48 L113.74,254.89 L114.62,254.1 L115.5,254.21 L116.37,254.18 L117.25,254.73 L118.13,255.29 L119.01,256.1 L119.89,257 L120.77,258.03 L121.64,259.34 L122.52,260.71 L123.4,261.81 L124.28,262.66 L125.16,263.81 L126.04,265 L126.92,266.61 L127.79,267.93 L128.67,269.31 L129.55,270.6 L130.43,272.1 L131.31,273.2 L132.19,274.51 L133.06,275.85 L133.94,277.31 L134.82,278.9 L135.7,280.23 L136.58,282.15 L137.46,283.44 L138.34,285.3 L139.21,286.57 L140.09,288.34 L140.97,289.84 L141.85,291.4 L142.73,292.9 L143.61,294.38 L144.49,296.06 L145.36,297.86 L146.24,299.73 L147.12,301.58 L148,303.08 L148.88,304.6 L149.76,306.12 L150.63,307.8 L151.51,309.34 L152.39,310.71 L153.27,311.87 L154.15,313.11 L155.03,314.38 L155.91,315.85 L156.78,317.19 L157.66,318.33 L158.54,319.71 L159.42,320.84 L160.3,322.35 L161.18,323.36 L162.06,324.23 L162.93,325.22 L163.81,326.11 L164.69,327.23 L165.57,328.16 L166.45,329.23 L167.33,330.28 L168.2,331.16 L169.08,332.22 L169.96,333.29 L170.84,334.04 L171.72,334.83 L172.6,335.52 L173.48,336.46 L174.35,337.27 L175.23,338.15 L176.11,339.05 L176.99,339.83 L177.87,340.54 L178.75,341.33 L179.63,341.98 L180.5,342.64 L181.38,343.11 L182.26,343.74 L183.14,344.49 L184.02,345.01 L184.9,345.59 L185.78,345.99 L186.65,346.66 L187.53,347.16 L188.41,347.72 L189.29,348.21 L190.17,348.68 L191.05,349.19 L191.92,349.68 L192.8,350.26 L193.68,350.58 L194.56,351.11 L195.44,351.41 L196.32,351.98 L197.2,352.31 L198.07,352.76 L198.95,353.27 L199.83,353.7 L200.71,354.14 L201.59,354.45 L202.47,354.86 L203.34,355.18 L204.22,355.56 L205.1,355.74 L205.98,356.01 L206.86,356.15 L207.74,356.53 L208.62,356.85 L209.49,357.14 L210.37,357.39 L211.25,357.6 L212.13,357.84 L213.01,358.02 L213.89,358.25 L214.77,358.52 L215.64,358.8 L216.52,359.01 L217.4,359.26 L218.28,359.55 L219.16,359.88 L220.04,360.11 L220.91,360.27 L221.79,360.44 L222.67,360.61 L223.55,360.8 L224.43,361.05 L225.31,361.27 L226.19,361.5 L227.06,361.69 L227.94,361.92 L228.82,362.17 L229.7,362.39" fill="none" stroke="#969a22" stroke-width="1.55" stroke-linejoin="round"/>
<path d="M54,367.44 L54.88,367.38 L55.76,367.3 L56.64,367.23 L57.51,367.14 L58.39,367.08 L59.27,367.01 L60.15,366.88 L61.03,366.71 L61.91,366.59 L62.78,366.46 L63.66,366.28 L64.54,366.04 L65.42,365.82 L66.3,365.62 L67.18,365.38 L68.06,365.08 L68.93,364.69 L69.81,364.22 L70.69,363.68 L71.57,363.08 L72.45,362.4 L73.33,361.64 L74.21,360.76 L75.08,359.91 L75.96,358.83 L76.84,357.71 L77.72,356.36 L78.6,355.03 L79.48,353.34 L80.36,351.78 L81.23,349.8 L82.11,347.8 L82.99,345.37 L83.87,343.04 L84.75,340.58 L85.63,338.07 L86.5,335.58 L87.38,332.94 L88.26,329.97 L89.14,326.58 L90.02,323.02 L90.9,319.4 L91.78,315.58 L92.65,312.04 L93.53,308.79 L94.41,305.9 L95.29,302.81 L96.17,299.85 L97.05,297.22 L97.92,294.6 L98.8,292.2 L99.68,289.41 L100.56,286.91 L101.44,284.56 L102.32,282.08 L103.2,279.44 L104.07,276.62 L104.95,273.74 L105.83,271.05 L106.71,268.15 L107.59,265.75 L108.47,263.51 L109.35,261.6 L110.22,259.96 L111.1,258.59 L111.98,257.72 L112.86,256.91 L113.74,256.47 L114.62,255.72 L115.5,255.45 L116.37,255.57 L117.25,256.03 L118.13,256.78 L119.01,257.53 L119.89,258.46 L120.77,259.52 L121.64,260.75 L122.52,262.06 L123.4,263.16 L124.28,264.04 L125.16,265.11 L126.04,266.32 L126.92,267.9 L127.79,269.19 L128.67,270.47 L129.55,271.69 L130.43,273.12 L131.31,274.27 L132.19,275.54 L133.06,276.9 L133.94,278.34 L134.82,279.87 L135.7,281.18 L136.58,282.92 L137.46,284.18 L138.34,286.06 L139.21,287.49 L140.09,289.25 L140.97,290.73 L141.85,292.22 L142.73,293.82 L143.61,295.27 L144.49,296.89 L145.36,298.64 L146.24,300.42 L147.12,302.29 L148,303.77 L148.88,305.32 L149.76,306.84 L150.63,308.42 L151.51,309.87 L152.39,311.31 L153.27,312.55 L154.15,313.8 L155.03,314.95 L155.91,316.37 L156.78,317.72 L157.66,318.92 L158.54,320.26 L159.42,321.47 L160.3,322.83 L161.18,323.84 L162.06,324.62 L162.93,325.58 L163.81,326.39 L164.69,327.46 L165.57,328.41 L166.45,329.6 L167.33,330.69 L168.2,331.55 L169.08,332.57 L169.96,333.61 L170.84,334.43 L171.72,335.23 L172.6,335.96 L173.48,336.86 L174.35,337.66 L175.23,338.45 L176.11,339.34 L176.99,340.09 L177.87,340.87 L178.75,341.66 L179.63,342.31 L180.5,342.92 L181.38,343.42 L182.26,344.08 L183.14,344.75 L184.02,345.24 L184.9,345.76 L185.78,346.25 L186.65,346.92 L187.53,347.4 L188.41,347.99 L189.29,348.47 L190.17,348.99 L191.05,349.44 L191.92,349.88 L192.8,350.39 L193.68,350.66 L194.56,351.23 L195.44,351.59 L196.32,352.2 L197.2,352.55 L198.07,352.99 L198.95,353.55 L199.83,353.89 L200.71,354.33 L201.59,354.55 L202.47,355.03 L203.34,355.34 L204.22,355.73 L205.1,355.89 L205.98,356.18 L206.86,356.32 L207.74,356.67 L208.62,356.93 L209.49,357.26 L210.37,357.53 L211.25,357.74 L212.13,357.97 L213.01,358.17 L213.89,358.44 L214.77,358.7 L215.64,358.92 L216.52,359.12 L217.4,359.37 L218.28,359.67 L219.16,359.96 L220.04,360.15 L220.91,360.31 L221.79,360.47 L222.67,360.7 L223.55,360.89 L224.43,361.18 L225.31,361.35 L226.19,361.61 L227.06,361.77 L227.94,362 L228.82,362.2 L229.7,362.41" fill="none" stroke="#f26a1c" stroke-width="1.6" stroke-linejoin="round"/>
<line x1="117.6" y1="236.6" x2="117.6" y2="373.9" stroke="#f25a6a" stroke-width="0.9" stroke-dasharray="2,1.6"/>
<path d="M54,236.5 L54,368.1 L229.7,368.1" fill="none" stroke="#2a2a2a" stroke-width="1.2"/>
<path d="M51.4,368.1 h2.6 M52.5,360.79 h1.5 M51.4,353.48 h2.6 M52.5,346.17 h1.5 M51.4,338.86 h2.6 M52.5,331.54 h1.5 M51.4,324.23 h2.6 M52.5,316.92 h1.5 M51.4,309.61 h2.6 M52.5,302.3 h1.5 M51.4,294.99 h2.6 M52.5,287.68 h1.5 M51.4,280.37 h2.6 M52.5,273.06 h1.5 M51.4,265.74 h2.6 M52.5,258.43 h1.5 M51.4,251.12 h2.6 M52.5,243.81 h1.5 M51.4,236.5 h2.6 M54,368.1 v4.5 M75.96,368.1 v2.4 M97.92,368.1 v4.5 M119.89,368.1 v2.4 M141.85,368.1 v4.5 M163.81,368.1 v2.4 M185.78,368.1 v4.5 M207.74,368.1 v2.4 M229.7,368.1 v4.5" stroke="#2a2a2a" stroke-width="1.1" fill="none"/>
<text transform="translate(46.74,239.11) scale(1.1,1)" font-size="7.3" text-anchor="end" font-family="Liberation Sans, sans-serif" font-weight="bold" stroke="#111" stroke-width="0.15" stroke-linejoin="round" fill="#111111">1.8x10</text><text transform="translate(46.99,235.81) scale(1.1,1)" font-size="4.6" font-family="Liberation Sans, sans-serif" font-weight="bold" stroke="#111" stroke-width="0.15" stroke-linejoin="round" fill="#111111">6</text>
<text transform="translate(46.74,253.74) scale(1.1,1)" font-size="7.3" text-anchor="end" font-family="Liberation Sans, sans-serif" font-weight="bold" stroke="#111" stroke-width="0.15" stroke-linejoin="round" fill="#111111">1.6x10</text><text transform="translate(46.99,250.44) scale(1.1,1)" font-size="4.6" font-family="Liberation Sans, sans-serif" font-weight="bold" stroke="#111" stroke-width="0.15" stroke-linejoin="round" fill="#111111">6</text>
<text transform="translate(46.74,268.36) scale(1.1,1)" font-size="7.3" text-anchor="end" font-family="Liberation Sans, sans-serif" font-weight="bold" stroke="#111" stroke-width="0.15" stroke-linejoin="round" fill="#111111">1.4x10</text><text transform="translate(46.99,265.06) scale(1.1,1)" font-size="4.6" font-family="Liberation Sans, sans-serif" font-weight="bold" stroke="#111" stroke-width="0.15" stroke-linejoin="round" fill="#111111">6</text>
<text transform="translate(46.74,282.98) scale(1.1,1)" font-size="7.3" text-anchor="end" font-family="Liberation Sans, sans-serif" font-weight="bold" stroke="#111" stroke-width="0.15" stroke-linejoin="round" fill="#111111">1.2x10</text><text transform="translate(46.99,279.68) scale(1.1,1)" font-size="4.6" font-family="Liberation Sans, sans-serif" font-weight="bold" stroke="#111" stroke-width="0.15" stroke-linejoin="round" fill="#111111">6</text>
<text transform="translate(46.74,297.6) scale(1.1,1)" font-size="7.3" text-anchor="end" font-family="Liberation Sans, sans-serif" font-weight="bold" stroke="#111" stroke-width="0.15" stroke-linejoin="round" fill="#111111">1x10</text><text transform="translate(46.99,294.3) scale(1.1,1)" font-size="4.6" font-family="Liberation Sans, sans-serif" font-weight="bold" stroke="#111" stroke-width="0.15" stroke-linejoin="round" fill="#111111">6</text>
<text transform="translate(46.74,312.22) scale(1.1,1)" font-size="7.3" text-anchor="end" font-family="Liberation Sans, sans-serif" font-weight="bold" stroke="#111" stroke-width="0.15" stroke-linejoin="round" fill="#111111">8x10</text><text transform="translate(46.99,308.92) scale(1.1,1)" font-size="4.6" font-family="Liberation Sans, sans-serif" font-weight="bold" stroke="#111" stroke-width="0.15" stroke-linejoin="round" fill="#111111">5</text>
<text transform="translate(46.74,326.85) scale(1.1,1)" font-size="7.3" text-anchor="end" font-family="Liberation Sans, sans-serif" font-weight="bold" stroke="#111" stroke-width="0.15" stroke-linejoin="round" fill="#111111">6x10</text><text transform="translate(46.99,323.55) scale(1.1,1)" font-size="4.6" font-family="Liberation Sans, sans-serif" font-weight="bold" stroke="#111" stroke-width="0.15" stroke-linejoin="round" fill="#111111">5</text>
<text transform="translate(46.74,341.47) scale(1.1,1)" font-size="7.3" text-anchor="end" font-family="Liberation Sans, sans-serif" font-weight="bold" stroke="#111" stroke-width="0.15" stroke-linejoin="round" fill="#111111">4x10</text><text transform="translate(46.99,338.17) scale(1.1,1)" font-size="4.6" font-family="Liberation Sans, sans-serif" font-weight="bold" stroke="#111" stroke-width="0.15" stroke-linejoin="round" fill="#111111">5</text>
<text transform="translate(46.74,356.09) scale(1.1,1)" font-size="7.3" text-anchor="end" font-family="Liberation Sans, sans-serif" font-weight="bold" stroke="#111" stroke-width="0.15" stroke-linejoin="round" fill="#111111">2x10</text><text transform="translate(46.99,352.79) scale(1.1,1)" font-size="4.6" font-family="Liberation Sans, sans-serif" font-weight="bold" stroke="#111" stroke-width="0.15" stroke-linejoin="round" fill="#111111">5</text>
<text transform="translate(49.1,370.71) scale(1.1,1)" font-size="7.3" text-anchor="end" font-family="Liberation Sans, sans-serif" font-weight="bold" stroke="#111" stroke-width="0.15" stroke-linejoin="round" fill="#111111">0</text>
<text x="54" y="382.63" font-size="7.85" text-anchor="middle" font-family="Liberation Sans, sans-serif" font-weight="bold" stroke="#111" stroke-width="0.15" stroke-linejoin="round" fill="#111111">400</text>
<text x="97.92" y="382.63" font-size="7.85" text-anchor="middle" font-family="Liberation Sans, sans-serif" font-weight="bold" stroke="#111" stroke-width="0.15" stroke-linejoin="round" fill="#111111">450</text>
<text x="141.85" y="382.63" font-size="7.85" text-anchor="middle" font-family="Liberation Sans, sans-serif" font-weight="bold" stroke="#111" stroke-width="0.15" stroke-linejoin="round" fill="#111111">500</text>
<text x="185.78" y="382.63" font-size="7.85" text-anchor="middle" font-family="Liberation Sans, sans-serif" font-weight="bold" stroke="#111" stroke-width="0.15" stroke-linejoin="round" fill="#111111">550</text>
<text x="229.7" y="382.63" font-size="7.85" text-anchor="middle" font-family="Liberation Sans, sans-serif" font-weight="bold" stroke="#111" stroke-width="0.15" stroke-linejoin="round" fill="#111111">600</text>
<text x="125.8" y="397.76" font-size="8.5" text-anchor="middle" font-family="Liberation Sans, sans-serif" font-weight="bold" stroke="#111" stroke-width="0.15" stroke-linejoin="round" fill="#111111">Wavelength/nm</text>
<text transform="translate(14.8,289.5) rotate(-90) scale(1.09,1)" font-size="7.5" text-anchor="middle" font-family="Liberation Sans, sans-serif" font-weight="bold" stroke="#111" stroke-width="0.15" stroke-linejoin="round" fill="#111111">Fluorescence intensity</text>
<text x="113.7" y="230.5" font-size="9.2" text-anchor="middle" font-family="Liberation Sans, sans-serif" font-weight="bold" stroke="#111" stroke-width="0.15" stroke-linejoin="round" fill="#111111">473 nm</text>
<text transform="translate(12,199.5) scale(1.1,1)" font-size="10.9" font-family="Liberation Sans, sans-serif" font-weight="bold" stroke="#111" stroke-width="0.15" stroke-linejoin="round" fill="#111111">(C)</text>
<path d="M330.1,369.09 L330.98,369.09 L331.87,369.09 L332.75,369.09 L333.63,369.09 L334.52,369.09 L335.4,369.09 L336.28,369.08 L337.16,369.08 L338.05,369.08 L338.93,369.08 L339.81,369.08 L340.7,369.08 L341.58,369.07 L342.46,369.07 L343.35,369.06 L344.23,369.06 L345.11,369.06 L345.99,369.05 L346.88,369.05 L347.76,369.04 L348.64,369.03 L349.53,369.02 L350.41,369.01 L351.29,369 L352.18,368.99 L353.06,368.97 L353.94,368.96 L354.82,368.94 L355.71,368.92 L356.59,368.9 L357.47,368.87 L358.36,368.85 L359.24,368.82 L360.12,368.79 L361,368.76 L361.89,368.73 L362.77,368.7 L363.65,368.66 L364.54,368.63 L365.42,368.59 L366.3,368.54 L367.19,368.5 L368.07,368.45 L368.95,368.4 L369.84,368.36 L370.72,368.32 L371.6,368.28 L372.48,368.24 L373.37,368.2 L374.25,368.17 L375.13,368.14 L376.02,368.11 L376.9,368.07 L377.78,368.04 L378.67,368.01 L379.55,367.98 L380.43,367.94 L381.31,367.9 L382.2,367.87 L383.08,367.84 L383.96,367.8 L384.85,367.77 L385.73,367.74 L386.61,367.72 L387.5,367.7 L388.38,367.68 L389.26,367.66 L390.14,367.65 L391.03,367.64 L391.91,367.63 L392.79,367.63 L393.68,367.64 L394.56,367.65 L395.44,367.66 L396.33,367.67 L397.21,367.68 L398.09,367.69 L398.97,367.71 L399.86,367.72 L400.74,367.73 L401.62,367.75 L402.51,367.76 L403.39,367.78 L404.27,367.8 L405.15,367.81 L406.04,367.83 L406.92,367.84 L407.8,367.87 L408.69,367.89 L409.57,367.9 L410.45,367.91 L411.34,367.93 L412.22,367.95 L413.1,367.97 L413.99,367.99 L414.87,368.01 L415.75,368.03 L416.63,368.05 L417.52,368.07 L418.4,368.09 L419.28,368.11 L420.17,368.13 L421.05,368.15 L421.93,368.17 L422.81,368.19 L423.7,368.21 L424.58,368.24 L425.46,368.26 L426.35,368.29 L427.23,368.3 L428.11,368.32 L429,368.34 L429.88,368.35 L430.76,368.37 L431.64,368.39 L432.53,368.41 L433.41,368.43 L434.29,368.44 L435.18,368.46 L436.06,368.47 L436.94,368.49 L437.83,368.5 L438.71,368.52 L439.59,368.53 L440.48,368.54 L441.36,368.56 L442.24,368.57 L443.12,368.58 L444.01,368.6 L444.89,368.61 L445.77,368.62 L446.66,368.64 L447.54,368.65 L448.42,368.66 L449.31,368.67 L450.19,368.68 L451.07,368.69 L451.95,368.7 L452.84,368.71 L453.72,368.72 L454.6,368.73 L455.49,368.74 L456.37,368.75 L457.25,368.76 L458.13,368.76 L459.02,368.77 L459.9,368.78 L460.78,368.79 L461.67,368.8 L462.55,368.81 L463.43,368.81 L464.32,368.82 L465.2,368.83 L466.08,368.84 L466.97,368.84 L467.85,368.84 L468.73,368.85 L469.61,368.86 L470.5,368.87 L471.38,368.87 L472.26,368.88 L473.15,368.88 L474.03,368.89 L474.91,368.9 L475.79,368.9 L476.68,368.91 L477.56,368.91 L478.44,368.92 L479.33,368.92 L480.21,368.92 L481.09,368.93 L481.98,368.94 L482.86,368.94 L483.74,368.94 L484.62,368.94 L485.51,368.95 L486.39,368.95 L487.27,368.96 L488.16,368.96 L489.04,368.96 L489.92,368.97 L490.81,368.97 L491.69,368.97 L492.57,368.98 L493.45,368.98 L494.34,368.98 L495.22,368.99 L496.1,368.99 L496.99,368.99 L497.87,368.99 L498.75,369 L499.64,369 L500.52,369 L501.4,369.01 L502.28,369.01 L503.17,369.01 L504.05,369.01 L504.93,369.02 L505.82,369.02 L506.7,369.02" fill="none" stroke="#111111" stroke-width="1.5" stroke-linejoin="round"/>
<path d="M330.1,368.99 L330.98,368.98 L331.87,368.97 L332.75,368.96 L333.63,368.95 L334.52,368.94 L335.4,368.92 L336.28,368.91 L337.16,368.89 L338.05,368.86 L338.93,368.84 L339.81,368.82 L340.7,368.8 L341.58,368.76 L342.46,368.72 L343.35,368.67 L344.23,368.63 L345.11,368.57 L345.99,368.5 L346.88,368.42 L347.76,368.32 L348.64,368.21 L349.53,368.08 L350.41,367.95 L351.29,367.81 L352.18,367.67 L353.06,367.51 L353.94,367.32 L354.82,367.11 L355.71,366.86 L356.59,366.58 L357.47,366.28 L358.36,365.95 L359.24,365.6 L360.12,365.23 L361,364.85 L361.89,364.48 L362.77,364.08 L363.65,363.65 L364.54,363.18 L365.42,362.68 L366.3,362.14 L367.19,361.58 L368.07,360.99 L368.95,360.39 L369.84,359.85 L370.72,359.34 L371.6,358.87 L372.48,358.38 L373.37,357.91 L374.25,357.48 L375.13,357.11 L376.02,356.7 L376.9,356.27 L377.78,355.84 L378.67,355.46 L379.55,355.04 L380.43,354.6 L381.31,354.14 L382.2,353.74 L383.08,353.28 L383.96,352.83 L384.85,352.46 L385.73,352.17 L386.61,351.89 L387.5,351.57 L388.38,351.29 L389.26,351.08 L390.14,350.9 L391.03,350.81 L391.91,350.77 L392.79,350.78 L393.68,350.84 L394.56,350.92 L395.44,351.04 L396.33,351.17 L397.21,351.31 L398.09,351.48 L398.97,351.67 L399.86,351.89 L400.74,352.03 L401.62,352.16 L402.51,352.3 L403.39,352.51 L404.27,352.77 L405.15,353.03 L406.04,353.26 L406.92,353.46 L407.8,353.68 L408.69,353.93 L409.57,354.11 L410.45,354.28 L411.34,354.5 L412.22,354.71 L413.1,354.99 L413.99,355.22 L414.87,355.5 L415.75,355.73 L416.63,355.91 L417.52,356.14 L418.4,356.4 L419.28,356.7 L420.17,356.98 L421.05,357.24 L421.93,357.5 L422.81,357.78 L423.7,358.05 L424.58,358.36 L425.46,358.66 L426.35,358.93 L427.23,359.17 L428.11,359.4 L429,359.59 L429.88,359.81 L430.76,360.04 L431.64,360.29 L432.53,360.49 L433.41,360.68 L434.29,360.89 L435.18,361.11 L436.06,361.31 L436.94,361.48 L437.83,361.67 L438.71,361.86 L439.59,362.04 L440.48,362.19 L441.36,362.33 L442.24,362.49 L443.12,362.67 L444.01,362.85 L444.89,363.02 L445.77,363.16 L446.66,363.3 L447.54,363.43 L448.42,363.57 L449.31,363.72 L450.19,363.88 L451.07,364.02 L451.95,364.15 L452.84,364.27 L453.72,364.4 L454.6,364.52 L455.49,364.63 L456.37,364.73 L457.25,364.84 L458.13,364.95 L459.02,365.05 L459.9,365.16 L460.78,365.29 L461.67,365.39 L462.55,365.49 L463.43,365.55 L464.32,365.62 L465.2,365.69 L466.08,365.77 L466.97,365.84 L467.85,365.91 L468.73,366 L469.61,366.09 L470.5,366.18 L471.38,366.25 L472.26,366.32 L473.15,366.4 L474.03,366.46 L474.91,366.57 L475.79,366.64 L476.68,366.75 L477.56,366.79 L478.44,366.85 L479.33,366.88 L480.21,366.93 L481.09,366.99 L481.98,367.06 L482.86,367.13 L483.74,367.15 L484.62,367.18 L485.51,367.22 L486.39,367.28 L487.27,367.32 L488.16,367.35 L489.04,367.4 L489.92,367.45 L490.81,367.51 L491.69,367.54 L492.57,367.56 L493.45,367.6 L494.34,367.66 L495.22,367.69 L496.1,367.72 L496.99,367.75 L497.87,367.8 L498.75,367.82 L499.64,367.85 L500.52,367.88 L501.4,367.92 L502.28,367.96 L503.17,368 L504.05,368.03 L504.93,368.06 L505.82,368.1 L506.7,368.14" fill="none" stroke="#f04848" stroke-width="1.5" stroke-linejoin="round"/>
<path d="M330.1,368.88 L330.98,368.86 L331.87,368.84 L332.75,368.82 L333.63,368.79 L334.52,368.77 L335.4,368.73 L336.28,368.7 L337.16,368.66 L338.05,368.62 L338.93,368.58 L339.81,368.53 L340.7,368.49 L341.58,368.4 L342.46,368.31 L343.35,368.2 L344.23,368.13 L345.11,368.02 L345.99,367.88 L346.88,367.7 L347.76,367.52 L348.64,367.29 L349.53,367.04 L350.41,366.73 L351.29,366.48 L352.18,366.18 L353.06,365.87 L353.94,365.46 L354.82,365.02 L355.71,364.5 L356.59,363.95 L357.47,363.34 L358.36,362.7 L359.24,361.98 L360.12,361.22 L361,360.45 L361.89,359.64 L362.77,358.82 L363.65,357.93 L364.54,357.04 L365.42,356.04 L366.3,354.93 L367.19,353.76 L368.07,352.52 L368.95,351.31 L369.84,350.21 L370.72,349.17 L371.6,348.23 L372.48,347.22 L373.37,346.28 L374.25,345.35 L375.13,344.65 L376.02,343.81 L376.9,342.94 L377.78,342.04 L378.67,341.31 L379.55,340.4 L380.43,339.48 L381.31,338.52 L382.2,337.71 L383.08,336.82 L383.96,335.9 L384.85,335.17 L385.73,334.51 L386.61,333.89 L387.5,333.25 L388.38,332.74 L389.26,332.37 L390.14,332.02 L391.03,331.8 L391.91,331.69 L392.79,331.67 L393.68,331.83 L394.56,331.96 L395.44,332.25 L396.33,332.53 L397.21,332.86 L398.09,333.24 L398.97,333.58 L399.86,334.02 L400.74,334.32 L401.62,334.56 L402.51,334.88 L403.39,335.25 L404.27,335.85 L405.15,336.34 L406.04,336.82 L406.92,337.23 L407.8,337.67 L408.69,338.2 L409.57,338.62 L410.45,339 L411.34,339.42 L412.22,339.84 L413.1,340.39 L413.99,340.86 L414.87,341.39 L415.75,341.87 L416.63,342.31 L417.52,342.79 L418.4,343.31 L419.28,343.9 L420.17,344.53 L421.05,345.04 L421.93,345.56 L422.81,346.05 L423.7,346.62 L424.58,347.27 L425.46,347.86 L426.35,348.4 L427.23,348.86 L428.11,349.29 L429,349.73 L429.88,350.17 L430.76,350.67 L431.64,351.19 L432.53,351.63 L433.41,352.05 L434.29,352.43 L435.18,352.89 L436.06,353.27 L436.94,353.65 L437.83,354.02 L438.71,354.37 L439.59,354.76 L440.48,355.07 L441.36,355.39 L442.24,355.7 L443.12,356.11 L444.01,356.48 L444.89,356.83 L445.77,357.09 L446.66,357.36 L447.54,357.58 L448.42,357.85 L449.31,358.18 L450.19,358.53 L451.07,358.84 L451.95,359.09 L452.84,359.33 L453.72,359.61 L454.6,359.85 L455.49,360.05 L456.37,360.23 L457.25,360.45 L458.13,360.66 L459.02,360.89 L459.9,361.09 L460.78,361.36 L461.67,361.57 L462.55,361.79 L463.43,361.91 L464.32,362.07 L465.2,362.24 L466.08,362.41 L466.97,362.54 L467.85,362.66 L468.73,362.86 L469.61,363.05 L470.5,363.23 L471.38,363.35 L472.26,363.49 L473.15,363.67 L474.03,363.81 L474.91,364.03 L475.79,364.17 L476.68,364.37 L477.56,364.47 L478.44,364.56 L479.33,364.63 L480.21,364.69 L481.09,364.83 L481.98,364.95 L482.86,365.1 L483.74,365.13 L484.62,365.19 L485.51,365.26 L486.39,365.38 L487.27,365.49 L488.16,365.57 L489.04,365.69 L489.92,365.8 L490.81,365.89 L491.69,365.95 L492.57,366 L493.45,366.08 L494.34,366.18 L495.22,366.25 L496.1,366.3 L496.99,366.37 L497.87,366.46 L498.75,366.53 L499.64,366.6 L500.52,366.64 L501.4,366.73 L502.28,366.79 L503.17,366.88 L504.05,366.95 L504.93,367.01 L505.82,367.1 L506.7,367.17" fill="none" stroke="#3b74e6" stroke-width="1.5" stroke-linejoin="round"/>
<path d="M330.1,368.75 L330.98,368.73 L331.87,368.7 L332.75,368.66 L333.63,368.62 L334.52,368.58 L335.4,368.53 L336.28,368.48 L337.16,368.43 L338.05,368.36 L338.93,368.29 L339.81,368.2 L340.7,368.14 L341.58,367.99 L342.46,367.85 L343.35,367.68 L344.23,367.55 L345.11,367.39 L345.99,367.19 L346.88,366.92 L347.76,366.63 L348.64,366.27 L349.53,365.87 L350.41,365.41 L351.29,365.01 L352.18,364.56 L353.06,364.06 L353.94,363.41 L354.82,362.71 L355.71,361.9 L356.59,361.04 L357.47,360.08 L358.36,359.05 L359.24,357.89 L360.12,356.7 L361,355.5 L361.89,354.28 L362.77,352.99 L363.65,351.6 L364.54,350.19 L365.42,348.63 L366.3,346.89 L367.19,345.12 L368.07,343.22 L368.95,341.27 L369.84,339.49 L370.72,337.86 L371.6,336.38 L372.48,334.74 L373.37,333.21 L374.25,331.8 L375.13,330.71 L376.02,329.45 L376.9,328.13 L377.78,326.7 L378.67,325.48 L379.55,324.06 L380.43,322.68 L381.31,321.25 L382.2,319.95 L383.08,318.53 L383.96,317.09 L384.85,315.92 L385.73,314.92 L386.61,313.99 L387.5,312.99 L388.38,312.15 L389.26,311.54 L390.14,311.03 L391.03,310.71 L391.91,310.53 L392.79,310.51 L393.68,310.72 L394.56,311.03 L395.44,311.38 L396.33,311.8 L397.21,312.21 L398.09,312.89 L398.97,313.47 L399.86,314.17 L400.74,314.56 L401.62,314.98 L402.51,315.54 L403.39,316.2 L404.27,316.99 L405.15,317.67 L406.04,318.4 L406.92,319.06 L407.8,319.83 L408.69,320.59 L409.57,321.22 L410.45,321.79 L411.34,322.53 L412.22,323.21 L413.1,324.15 L413.99,324.88 L414.87,325.8 L415.75,326.5 L416.63,327.23 L417.52,327.97 L418.4,328.75 L419.28,329.64 L420.17,330.56 L421.05,331.44 L421.93,332.29 L422.81,333.18 L423.7,334.03 L424.58,335.03 L425.46,335.89 L426.35,336.78 L427.23,337.51 L428.11,338.21 L429,338.82 L429.88,339.51 L430.76,340.26 L431.64,341.1 L432.53,341.78 L433.41,342.48 L434.29,343.09 L435.18,343.8 L436.06,344.37 L436.94,345 L437.83,345.61 L438.71,346.25 L439.59,346.79 L440.48,347.27 L441.36,347.74 L442.24,348.28 L443.12,348.9 L444.01,349.44 L444.89,349.99 L445.77,350.4 L446.66,350.81 L447.54,351.2 L448.42,351.63 L449.31,352.13 L450.19,352.65 L451.07,353.11 L451.95,353.51 L452.84,353.85 L453.72,354.28 L454.6,354.71 L455.49,355.05 L456.37,355.39 L457.25,355.67 L458.13,356 L459.02,356.34 L459.9,356.71 L460.78,357.12 L461.67,357.42 L462.55,357.7 L463.43,357.89 L464.32,358.14 L465.2,358.41 L466.08,358.67 L466.97,358.88 L467.85,359.09 L468.73,359.39 L469.61,359.66 L470.5,360 L471.38,360.22 L472.26,360.47 L473.15,360.71 L474.03,360.92 L474.91,361.22 L475.79,361.41 L476.68,361.71 L477.56,361.86 L478.44,362.01 L479.33,362.1 L480.21,362.25 L481.09,362.45 L481.98,362.66 L482.86,362.89 L483.74,362.98 L484.62,363.06 L485.51,363.21 L486.39,363.41 L487.27,363.58 L488.16,363.66 L489.04,363.79 L489.92,363.94 L490.81,364.09 L491.69,364.22 L492.57,364.33 L493.45,364.46 L494.34,364.6 L495.22,364.71 L496.1,364.82 L496.99,364.91 L497.87,365.04 L498.75,365.13 L499.64,365.26 L500.52,365.33 L501.4,365.45 L502.28,365.55 L503.17,365.69 L504.05,365.81 L504.93,365.91 L505.82,366.04 L506.7,366.15" fill="none" stroke="#3aa86a" stroke-width="1.5" stroke-linejoin="round"/>
<path d="M330.1,368.67 L330.98,368.64 L331.87,368.6 L332.75,368.55 L333.63,368.48 L334.52,368.44 L335.4,368.39 L336.28,368.35 L337.16,368.26 L338.05,368.17 L338.93,368.08 L339.81,367.98 L340.7,367.91 L341.58,367.73 L342.46,367.58 L343.35,367.37 L344.23,367.2 L345.11,366.99 L345.99,366.74 L346.88,366.42 L347.76,366.04 L348.64,365.58 L349.53,365.06 L350.41,364.51 L351.29,363.99 L352.18,363.47 L353.06,362.84 L353.94,362.09 L354.82,361.25 L355.71,360.24 L356.59,359.13 L357.47,357.9 L358.36,356.63 L359.24,355.19 L360.12,353.81 L361,352.29 L361.89,350.84 L362.77,349.18 L363.65,347.47 L364.54,345.65 L365.42,343.67 L366.3,341.51 L367.19,339.27 L368.07,336.95 L368.95,334.57 L369.84,332.45 L370.72,330.41 L371.6,328.65 L372.48,326.68 L373.37,324.84 L374.25,323.02 L375.13,321.57 L376.02,319.96 L376.9,318.3 L377.78,316.56 L378.67,315.06 L379.55,313.37 L380.43,311.61 L381.31,309.79 L382.2,308.2 L383.08,306.38 L383.96,304.64 L384.85,303.18 L385.73,302.06 L386.61,300.96 L387.5,299.68 L388.38,298.72 L389.26,297.81 L390.14,297.26 L391.03,296.79 L391.91,296.59 L392.79,296.58 L393.68,296.84 L394.56,297.29 L395.44,297.73 L396.33,298.2 L397.21,298.67 L398.09,299.49 L398.97,300.27 L399.86,301.1 L400.74,301.51 L401.62,301.9 L402.51,302.58 L403.39,303.45 L404.27,304.63 L405.15,305.59 L406.04,306.46 L406.92,307.17 L407.8,308.12 L408.69,309.01 L409.57,309.89 L410.45,310.65 L411.34,311.7 L412.22,312.56 L413.1,313.63 L413.99,314.5 L414.87,315.48 L415.75,316.39 L416.63,317.25 L417.52,318.28 L418.4,319.3 L419.28,320.44 L420.17,321.62 L421.05,322.66 L421.93,323.79 L422.81,324.83 L423.7,325.9 L424.58,327.06 L425.46,328.18 L426.35,329.32 L427.23,330.23 L428.11,331.06 L429,331.77 L429.88,332.58 L430.76,333.48 L431.64,334.49 L432.53,335.35 L433.41,336.24 L434.29,337 L435.18,337.9 L436.06,338.57 L436.94,339.32 L437.83,340.08 L438.71,340.83 L439.59,341.56 L440.48,342.21 L441.36,342.8 L442.24,343.42 L443.12,344.09 L444.01,344.81 L444.89,345.5 L445.77,346.03 L446.66,346.56 L447.54,347.03 L448.42,347.59 L449.31,348.21 L450.19,348.85 L451.07,349.44 L451.95,349.94 L452.84,350.42 L453.72,350.92 L454.6,351.37 L455.49,351.76 L456.37,352.18 L457.25,352.59 L458.13,353.01 L459.02,353.43 L459.9,353.83 L460.78,354.37 L461.67,354.77 L462.55,355.16 L463.43,355.36 L464.32,355.65 L465.2,355.99 L466.08,356.33 L466.97,356.56 L467.85,356.78 L468.73,357.15 L469.61,357.54 L470.5,357.92 L471.38,358.16 L472.26,358.44 L473.15,358.77 L474.03,359.06 L474.91,359.45 L475.79,359.69 L476.68,360.07 L477.56,360.26 L478.44,360.44 L479.33,360.57 L480.21,360.73 L481.09,360.97 L481.98,361.24 L482.86,361.48 L483.74,361.58 L484.62,361.7 L485.51,361.89 L486.39,362.13 L487.27,362.27 L488.16,362.37 L489.04,362.57 L489.92,362.79 L490.81,363.01 L491.69,363.14 L492.57,363.26 L493.45,363.38 L494.34,363.53 L495.22,363.66 L496.1,363.8 L496.99,363.96 L497.87,364.13 L498.75,364.21 L499.64,364.35 L500.52,364.44 L501.4,364.64 L502.28,364.78 L503.17,364.97 L504.05,365.09 L504.93,365.21 L505.82,365.36 L506.7,365.49" fill="none" stroke="#b27ef0" stroke-width="1.5" stroke-linejoin="round"/>
<path d="M330.1,368.6 L330.98,368.56 L331.87,368.51 L332.75,368.46 L333.63,368.4 L334.52,368.35 L335.4,368.28 L336.28,368.21 L337.16,368.12 L338.05,368.02 L338.93,367.91 L339.81,367.8 L340.7,367.72 L341.58,367.53 L342.46,367.34 L343.35,367.1 L344.23,366.91 L345.11,366.64 L345.99,366.35 L346.88,365.95 L347.76,365.53 L348.64,364.98 L349.53,364.43 L350.41,363.78 L351.29,363.21 L352.18,362.52 L353.06,361.78 L353.94,360.88 L354.82,359.95 L355.71,358.85 L356.59,357.55 L357.47,356.1 L358.36,354.58 L359.24,353.01 L360.12,351.32 L361,349.52 L361.89,347.71 L362.77,345.88 L363.65,343.99 L364.54,341.96 L365.42,339.68 L366.3,337.21 L367.19,334.62 L368.07,331.93 L368.95,329.14 L369.84,326.64 L370.72,324.22 L371.6,322.11 L372.48,319.82 L373.37,317.64 L374.25,315.53 L375.13,313.83 L376.02,311.98 L376.9,310.03 L377.78,308.11 L378.67,306.45 L379.55,304.5 L380.43,302.49 L381.31,300.37 L382.2,298.41 L383.08,296.24 L383.96,294.22 L384.85,292.56 L385.73,291.14 L386.61,289.69 L387.5,288.28 L388.38,287.07 L389.26,286.21 L390.14,285.54 L391.03,285.17 L391.91,284.82 L392.79,284.74 L393.68,285.04 L394.56,285.54 L395.44,286.08 L396.33,286.7 L397.21,287.3 L398.09,288.13 L398.97,288.92 L399.86,290.03 L400.74,290.78 L401.62,291.42 L402.51,292.14 L403.39,293.06 L404.27,294.27 L405.15,295.36 L406.04,296.32 L406.92,297.28 L407.8,298.3 L408.69,299.49 L409.57,300.38 L410.45,301.23 L411.34,302.35 L412.22,303.35 L413.1,304.78 L413.99,305.76 L414.87,306.96 L415.75,307.89 L416.63,308.97 L417.52,310.19 L418.4,311.37 L419.28,312.68 L420.17,314 L421.05,315.29 L421.93,316.47 L422.81,317.67 L423.7,318.82 L424.58,320.37 L425.46,321.73 L426.35,323.13 L427.23,324.09 L428.11,325.12 L429,325.96 L429.88,326.94 L430.76,327.94 L431.64,329.09 L432.53,330.07 L433.41,331.06 L434.29,331.91 L435.18,332.93 L436.06,333.76 L436.94,334.69 L437.83,335.58 L438.71,336.4 L439.59,337.17 L440.48,337.82 L441.36,338.6 L442.24,339.42 L443.12,340.26 L444.01,341.02 L444.89,341.8 L445.77,342.44 L446.66,343.06 L447.54,343.65 L448.42,344.25 L449.31,344.96 L450.19,345.7 L451.07,346.39 L451.95,346.93 L452.84,347.41 L453.72,347.97 L454.6,348.59 L455.49,349.09 L456.37,349.59 L457.25,350.06 L458.13,350.48 L459.02,350.96 L459.9,351.38 L460.78,351.97 L461.67,352.43 L462.55,352.92 L463.43,353.21 L464.32,353.54 L465.2,353.89 L466.08,354.3 L466.97,354.61 L467.85,354.85 L468.73,355.31 L469.61,355.69 L470.5,356.18 L471.38,356.44 L472.26,356.81 L473.15,357.2 L474.03,357.52 L474.91,357.96 L475.79,358.24 L476.68,358.65 L477.56,358.86 L478.44,359.06 L479.33,359.22 L480.21,359.41 L481.09,359.73 L481.98,360.03 L482.86,360.33 L483.74,360.42 L484.62,360.57 L485.51,360.76 L486.39,361.04 L487.27,361.23 L488.16,361.33 L489.04,361.53 L489.92,361.78 L490.81,362.04 L491.69,362.19 L492.57,362.33 L493.45,362.5 L494.34,362.75 L495.22,362.92 L496.1,363.04 L496.99,363.18 L497.87,363.35 L498.75,363.5 L499.64,363.65 L500.52,363.75 L501.4,363.98 L502.28,364.15 L503.17,364.35 L504.05,364.47 L504.93,364.61 L505.82,364.79 L506.7,364.95" fill="none" stroke="#d4a22c" stroke-width="1.5" stroke-linejoin="round"/>
<path d="M330.1,368.49 L330.98,368.43 L331.87,368.39 L332.75,368.33 L333.63,368.27 L334.52,368.21 L335.4,368.13 L336.28,368.05 L337.16,367.91 L338.05,367.79 L338.93,367.66 L339.81,367.54 L340.7,367.42 L341.58,367.18 L342.46,366.94 L343.35,366.66 L344.23,366.41 L345.11,366.12 L345.99,365.77 L346.88,365.32 L347.76,364.79 L348.64,364.11 L349.53,363.42 L350.41,362.63 L351.29,361.92 L352.18,361.12 L353.06,360.26 L353.94,359.19 L354.82,357.99 L355.71,356.65 L356.59,355.11 L357.47,353.41 L358.36,351.55 L359.24,349.53 L360.12,347.47 L361,345.27 L361.89,343.14 L362.77,340.97 L363.65,338.71 L364.54,336.3 L365.42,333.51 L366.3,330.44 L367.19,327.33 L368.07,324.04 L368.95,320.64 L369.84,317.57 L370.72,314.72 L371.6,312.25 L372.48,309.59 L373.37,307.02 L374.25,304.56 L375.13,302.44 L376.02,300.23 L376.9,297.75 L377.78,295.35 L378.67,293.1 L379.55,290.91 L380.43,288.51 L381.31,286.01 L382.2,283.62 L383.08,281.06 L383.96,278.63 L384.85,276.51 L385.73,274.76 L386.61,273.13 L387.5,271.33 L388.38,269.91 L389.26,268.71 L390.14,267.95 L391.03,267.35 L391.91,267.12 L392.79,267.03 L393.68,267.4 L394.56,267.94 L395.44,268.74 L396.33,269.63 L397.21,270.5 L398.09,271.46 L398.97,272.28 L399.86,273.55 L400.74,274.41 L401.62,275.25 L402.51,276.02 L403.39,277.24 L404.27,278.78 L405.15,280.13 L406.04,281.26 L406.92,282.42 L407.8,283.68 L408.69,285.15 L409.57,286.12 L410.45,287.18 L411.34,288.47 L412.22,289.72 L413.1,291.27 L413.99,292.44 L414.87,294 L415.75,295.34 L416.63,296.59 L417.52,297.86 L418.4,299.26 L419.28,300.87 L420.17,302.65 L421.05,304.07 L421.93,305.63 L422.81,307.09 L423.7,308.57 L424.58,310.45 L425.46,312.06 L426.35,313.72 L427.23,314.83 L428.11,316.01 L429,317.11 L429.88,318.24 L430.76,319.43 L431.64,320.8 L432.53,322.07 L433.41,323.31 L434.29,324.33 L435.18,325.59 L436.06,326.61 L436.94,327.7 L437.83,328.65 L438.71,329.72 L439.59,330.65 L440.48,331.58 L441.36,332.42 L442.24,333.46 L443.12,334.34 L444.01,335.31 L444.89,336.18 L445.77,337.03 L446.66,337.77 L447.54,338.43 L448.42,339.06 L449.31,339.89 L450.19,340.83 L451.07,341.76 L451.95,342.48 L452.84,343.08 L453.72,343.83 L454.6,344.51 L455.49,345.12 L456.37,345.66 L457.25,346.26 L458.13,346.74 L459.02,347.35 L459.9,347.9 L460.78,348.61 L461.67,349.2 L462.55,349.62 L463.43,349.95 L464.32,350.26 L465.2,350.75 L466.08,351.22 L466.97,351.63 L467.85,352.04 L468.73,352.59 L469.61,353.14 L470.5,353.66 L471.38,354.03 L472.26,354.39 L473.15,354.87 L474.03,355.26 L474.91,355.8 L475.79,356.12 L476.68,356.63 L477.56,356.91 L478.44,357.13 L479.33,357.27 L480.21,357.48 L481.09,357.84 L481.98,358.26 L482.86,358.62 L483.74,358.76 L484.62,358.89 L485.51,359.1 L486.39,359.41 L487.27,359.68 L488.16,359.84 L489.04,360.13 L489.92,360.41 L490.81,360.71 L491.69,360.85 L492.57,361.02 L493.45,361.18 L494.34,361.48 L495.22,361.64 L496.1,361.82 L496.99,362 L497.87,362.27 L498.75,362.42 L499.64,362.57 L500.52,362.7 L501.4,362.99 L502.28,363.21 L503.17,363.48 L504.05,363.61 L504.93,363.76 L505.82,363.92 L506.7,364.12" fill="none" stroke="#2ec8cc" stroke-width="1.55" stroke-linejoin="round"/>
<path d="M330.1,368.45 L330.98,368.39 L331.87,368.33 L332.75,368.27 L333.63,368.19 L334.52,368.13 L335.4,368.03 L336.28,367.94 L337.16,367.82 L338.05,367.69 L338.93,367.56 L339.81,367.43 L340.7,367.31 L341.58,367.05 L342.46,366.79 L343.35,366.5 L344.23,366.26 L345.11,365.91 L345.99,365.5 L346.88,364.99 L347.76,364.43 L348.64,363.76 L349.53,363.03 L350.41,362.2 L351.29,361.43 L352.18,360.58 L353.06,359.65 L353.94,358.44 L354.82,357.15 L355.71,355.69 L356.59,354.14 L357.47,352.33 L358.36,350.36 L359.24,348.22 L360.12,346.07 L361,343.76 L361.89,341.45 L362.77,339 L363.65,336.52 L364.54,333.9 L365.42,331.04 L366.3,327.76 L367.19,324.37 L368.07,320.73 L368.95,317.17 L369.84,313.9 L370.72,310.93 L371.6,308.13 L372.48,305.22 L373.37,302.52 L374.25,299.93 L375.13,297.79 L376.02,295.28 L376.9,292.69 L377.78,290.03 L378.67,287.88 L379.55,285.39 L380.43,282.85 L381.31,280.06 L382.2,277.45 L383.08,274.8 L383.96,272.08 L384.85,270.01 L385.73,268.05 L386.61,266.29 L387.5,264.47 L388.38,262.78 L389.26,261.59 L390.14,260.53 L391.03,260.1 L391.91,259.8 L392.79,259.74 L393.68,260.2 L394.56,260.8 L395.44,261.69 L396.33,262.5 L397.21,263.37 L398.09,264.6 L398.97,265.62 L399.86,266.96 L400.74,267.57 L401.62,268.45 L402.51,269.43 L403.39,270.79 L404.27,272.24 L405.15,273.63 L406.04,274.86 L406.92,276.1 L407.8,277.57 L408.69,279.22 L409.57,280.43 L410.45,281.38 L411.34,282.73 L412.22,284.11 L413.1,285.85 L413.99,287.17 L414.87,288.78 L415.75,290.2 L416.63,291.56 L417.52,293.08 L418.4,294.64 L419.28,296.29 L420.17,298.02 L421.05,299.68 L421.93,301.31 L422.81,302.84 L423.7,304.34 L424.58,306.25 L425.46,308.02 L426.35,309.66 L427.23,311.04 L428.11,312.3 L429,313.47 L429.88,314.72 L430.76,316.1 L431.64,317.63 L432.53,318.85 L433.41,320.15 L434.29,321.34 L435.18,322.73 L436.06,323.78 L436.94,324.83 L437.83,325.87 L438.71,326.98 L439.59,328.08 L440.48,329 L441.36,329.88 L442.24,330.87 L443.12,332.01 L444.01,333 L444.89,333.97 L445.77,334.81 L446.66,335.64 L447.54,336.45 L448.42,337.14 L449.31,338.05 L450.19,339.05 L451.07,340 L451.95,340.75 L452.84,341.29 L453.72,342.01 L454.6,342.71 L455.49,343.37 L456.37,344.01 L457.25,344.64 L458.13,345.22 L459.02,345.85 L459.9,346.44 L460.78,347.26 L461.67,347.83 L462.55,348.39 L463.43,348.75 L464.32,349.22 L465.2,349.73 L466.08,350.14 L466.97,350.5 L467.85,350.81 L468.73,351.46 L469.61,352 L470.5,352.58 L471.38,352.94 L472.26,353.39 L473.15,353.94 L474.03,354.3 L474.91,354.88 L475.79,355.24 L476.68,355.79 L477.56,356.08 L478.44,356.3 L479.33,356.55 L480.21,356.73 L481.09,357.12 L481.98,357.44 L482.86,357.87 L483.74,357.95 L484.62,358.15 L485.51,358.37 L486.39,358.77 L487.27,359.09 L488.16,359.27 L489.04,359.51 L489.92,359.76 L490.81,360.07 L491.69,360.26 L492.57,360.46 L493.45,360.69 L494.34,361.01 L495.22,361.19 L496.1,361.33 L496.99,361.57 L497.87,361.82 L498.75,361.99 L499.64,362.14 L500.52,362.33 L501.4,362.64 L502.28,362.84 L503.17,363.08 L504.05,363.22 L504.93,363.43 L505.82,363.61 L506.7,363.81" fill="none" stroke="#8a4f4f" stroke-width="1.55" stroke-linejoin="round"/>
<path d="M330.1,368.45 L330.98,368.39 L331.87,368.32 L332.75,368.25 L333.63,368.16 L334.52,368.1 L335.4,368.02 L336.28,367.94 L337.16,367.82 L338.05,367.67 L338.93,367.54 L339.81,367.4 L340.7,367.3 L341.58,367.01 L342.46,366.76 L343.35,366.45 L344.23,366.21 L345.11,365.87 L345.99,365.47 L346.88,364.97 L347.76,364.4 L348.64,363.69 L349.53,362.94 L350.41,362.08 L351.29,361.33 L352.18,360.46 L353.06,359.43 L353.94,358.2 L354.82,356.87 L355.71,355.51 L356.59,353.89 L357.47,352.03 L358.36,350 L359.24,347.8 L360.12,345.6 L361,343.17 L361.89,340.8 L362.77,338.36 L363.65,335.9 L364.54,333.25 L365.42,330.21 L366.3,326.85 L367.19,323.46 L368.07,320.04 L368.95,316.39 L369.84,312.97 L370.72,309.74 L371.6,306.93 L372.48,303.92 L373.37,301.09 L374.25,298.41 L375.13,296.27 L376.02,293.84 L376.9,291.19 L377.78,288.54 L378.67,286.21 L379.55,283.69 L380.43,280.98 L381.31,278.1 L382.2,275.55 L383.08,272.8 L383.96,270.15 L384.85,267.93 L385.73,265.98 L386.61,264.15 L387.5,262.22 L388.38,260.76 L389.26,259.68 L390.14,258.72 L391.03,258.06 L391.91,257.61 L392.79,257.55 L393.68,258.1 L394.56,258.75 L395.44,259.51 L396.33,260.31 L397.21,261.18 L398.09,262.31 L398.97,263.3 L399.86,264.64 L400.74,265.51 L401.62,266.42 L402.51,267.38 L403.39,268.8 L404.27,270.49 L405.15,271.85 L406.04,273.08 L406.92,274.29 L407.8,275.78 L408.69,277.49 L409.57,278.61 L410.45,279.63 L411.34,280.89 L412.22,282.24 L413.1,284.07 L413.99,285.45 L414.87,287 L415.75,288.45 L416.63,289.84 L417.52,291.42 L418.4,293.02 L419.28,294.67 L420.17,296.62 L421.05,298.21 L421.93,300 L422.81,301.55 L423.7,303.21 L424.58,305.13 L425.46,306.82 L426.35,308.48 L427.23,309.75 L428.11,311.16 L429,312.33 L429.88,313.61 L430.76,314.98 L431.64,316.53 L432.53,317.95 L433.41,319.25 L434.29,320.37 L435.18,321.73 L436.06,322.75 L436.94,323.99 L437.83,325.09 L438.71,326.19 L439.59,327.26 L440.48,328.16 L441.36,329.04 L442.24,330.01 L443.12,331.11 L444.01,332.24 L444.89,333.25 L445.77,334.11 L446.66,334.95 L447.54,335.72 L448.42,336.46 L449.31,337.36 L450.19,338.36 L451.07,339.29 L451.95,340 L452.84,340.75 L453.72,341.55 L454.6,342.36 L455.49,342.91 L456.37,343.5 L457.25,344.15 L458.13,344.74 L459.02,345.38 L459.9,346.03 L460.78,346.86 L461.67,347.51 L462.55,348.03 L463.43,348.34 L464.32,348.77 L465.2,349.24 L466.08,349.71 L466.97,350.11 L467.85,350.54 L468.73,351.18 L469.61,351.68 L470.5,352.28 L471.38,352.63 L472.26,353.08 L473.15,353.57 L474.03,354 L474.91,354.67 L475.79,355.02 L476.68,355.56 L477.56,355.8 L478.44,356.1 L479.33,356.27 L480.21,356.47 L481.09,356.82 L481.98,357.2 L482.86,357.58 L483.74,357.7 L484.62,357.93 L485.51,358.2 L486.39,358.59 L487.27,358.86 L488.16,359.07 L489.04,359.36 L489.92,359.67 L490.81,359.97 L491.69,360.15 L492.57,360.35 L493.45,360.59 L494.34,360.87 L495.22,361.01 L496.1,361.18 L496.99,361.41 L497.87,361.67 L498.75,361.85 L499.64,362.02 L500.52,362.2 L501.4,362.45 L502.28,362.66 L503.17,362.93 L504.05,363.12 L504.93,363.3 L505.82,363.47 L506.7,363.66" fill="none" stroke="#f26a1c" stroke-width="1.6" stroke-linejoin="round"/>
<line x1="394.1" y1="239.8" x2="394.1" y2="374.9" stroke="#f25a6a" stroke-width="0.9" stroke-dasharray="2,1.6"/>
<path d="M330.1,237.2 L330.1,369.1 L506.7,369.1" fill="none" stroke="#2a2a2a" stroke-width="1.2"/>
<path d="M327.5,369.1 h2.6 M328.6,361.77 h1.5 M327.5,354.44 h2.6 M328.6,347.12 h1.5 M327.5,339.79 h2.6 M328.6,332.46 h1.5 M327.5,325.13 h2.6 M328.6,317.81 h1.5 M327.5,310.48 h2.6 M328.6,303.15 h1.5 M327.5,295.82 h2.6 M328.6,288.49 h1.5 M327.5,281.17 h2.6 M328.6,273.84 h1.5 M327.5,266.51 h2.6 M328.6,259.18 h1.5 M327.5,251.86 h2.6 M328.6,244.53 h1.5 M327.5,237.2 h2.6 M330.1,369.1 v4.5 M352.18,369.1 v2.4 M374.25,369.1 v4.5 M396.33,369.1 v2.4 M418.4,369.1 v4.5 M440.48,369.1 v2.4 M462.55,369.1 v4.5 M484.62,369.1 v2.4 M506.7,369.1 v4.5" stroke="#2a2a2a" stroke-width="1.1" fill="none"/>
<text transform="translate(322.84,239.81) scale(1.1,1)" font-size="7.3" text-anchor="end" font-family="Liberation Sans, sans-serif" font-weight="bold" stroke="#111" stroke-width="0.15" stroke-linejoin="round" fill="#111111">1.8x10</text><text transform="translate(323.09,236.51) scale(1.1,1)" font-size="4.6" font-family="Liberation Sans, sans-serif" font-weight="bold" stroke="#111" stroke-width="0.15" stroke-linejoin="round" fill="#111111">6</text>
<text transform="translate(322.84,254.47) scale(1.1,1)" font-size="7.3" text-anchor="end" font-family="Liberation Sans, sans-serif" font-weight="bold" stroke="#111" stroke-width="0.15" stroke-linejoin="round" fill="#111111">1.6x10</text><text transform="translate(323.09,251.17) scale(1.1,1)" font-size="4.6" font-family="Liberation Sans, sans-serif" font-weight="bold" stroke="#111" stroke-width="0.15" stroke-linejoin="round" fill="#111111">6</text>
<text transform="translate(322.84,269.12) scale(1.1,1)" font-size="7.3" text-anchor="end" font-family="Liberation Sans, sans-serif" font-weight="bold" stroke="#111" stroke-width="0.15" stroke-linejoin="round" fill="#111111">1.4x10</text><text transform="translate(323.09,265.82) scale(1.1,1)" font-size="4.6" font-family="Liberation Sans, sans-serif" font-weight="bold" stroke="#111" stroke-width="0.15" stroke-linejoin="round" fill="#111111">6</text>
<text transform="translate(322.84,283.78) scale(1.1,1)" font-size="7.3" text-anchor="end" font-family="Liberation Sans, sans-serif" font-weight="bold" stroke="#111" stroke-width="0.15" stroke-linejoin="round" fill="#111111">1.2x10</text><text transform="translate(323.09,280.48) scale(1.1,1)" font-size="4.6" font-family="Liberation Sans, sans-serif" font-weight="bold" stroke="#111" stroke-width="0.15" stroke-linejoin="round" fill="#111111">6</text>
<text transform="translate(322.84,298.44) scale(1.1,1)" font-size="7.3" text-anchor="end" font-family="Liberation Sans, sans-serif" font-weight="bold" stroke="#111" stroke-width="0.15" stroke-linejoin="round" fill="#111111">1x10</text><text transform="translate(323.09,295.14) scale(1.1,1)" font-size="4.6" font-family="Liberation Sans, sans-serif" font-weight="bold" stroke="#111" stroke-width="0.15" stroke-linejoin="round" fill="#111111">6</text>
<text transform="translate(322.84,313.09) scale(1.1,1)" font-size="7.3" text-anchor="end" font-family="Liberation Sans, sans-serif" font-weight="bold" stroke="#111" stroke-width="0.15" stroke-linejoin="round" fill="#111111">8x10</text><text transform="translate(323.09,309.79) scale(1.1,1)" font-size="4.6" font-family="Liberation Sans, sans-serif" font-weight="bold" stroke="#111" stroke-width="0.15" stroke-linejoin="round" fill="#111111">5</text>
<text transform="translate(322.84,327.75) scale(1.1,1)" font-size="7.3" text-anchor="end" font-family="Liberation Sans, sans-serif" font-weight="bold" stroke="#111" stroke-width="0.15" stroke-linejoin="round" fill="#111111">6x10</text><text transform="translate(323.09,324.45) scale(1.1,1)" font-size="4.6" font-family="Liberation Sans, sans-serif" font-weight="bold" stroke="#111" stroke-width="0.15" stroke-linejoin="round" fill="#111111">5</text>
<text transform="translate(322.84,342.4) scale(1.1,1)" font-size="7.3" text-anchor="end" font-family="Liberation Sans, sans-serif" font-weight="bold" stroke="#111" stroke-width="0.15" stroke-linejoin="round" fill="#111111">4x10</text><text transform="translate(323.09,339.1) scale(1.1,1)" font-size="4.6" font-family="Liberation Sans, sans-serif" font-weight="bold" stroke="#111" stroke-width="0.15" stroke-linejoin="round" fill="#111111">5</text>
<text transform="translate(322.84,357.06) scale(1.1,1)" font-size="7.3" text-anchor="end" font-family="Liberation Sans, sans-serif" font-weight="bold" stroke="#111" stroke-width="0.15" stroke-linejoin="round" fill="#111111">2x10</text><text transform="translate(323.09,353.76) scale(1.1,1)" font-size="4.6" font-family="Liberation Sans, sans-serif" font-weight="bold" stroke="#111" stroke-width="0.15" stroke-linejoin="round" fill="#111111">5</text>
<text transform="translate(325.2,371.71) scale(1.1,1)" font-size="7.3" text-anchor="end" font-family="Liberation Sans, sans-serif" font-weight="bold" stroke="#111" stroke-width="0.15" stroke-linejoin="round" fill="#111111">0</text>
<text x="330.1" y="383.43" font-size="7.85" text-anchor="middle" font-family="Liberation Sans, sans-serif" font-weight="bold" stroke="#111" stroke-width="0.15" stroke-linejoin="round" fill="#111111">400</text>
<text x="374.25" y="383.43" font-size="7.85" text-anchor="middle" font-family="Liberation Sans, sans-serif" font-weight="bold" stroke="#111" stroke-width="0.15" stroke-linejoin="round" fill="#111111">450</text>
<text x="418.4" y="383.43" font-size="7.85" text-anchor="middle" font-family="Liberation Sans, sans-serif" font-weight="bold" stroke="#111" stroke-width="0.15" stroke-linejoin="round" fill="#111111">500</text>
<text x="462.55" y="383.43" font-size="7.85" text-anchor="middle" font-family="Liberation Sans, sans-serif" font-weight="bold" stroke="#111" stroke-width="0.15" stroke-linejoin="round" fill="#111111">550</text>
<text x="506.7" y="383.43" font-size="7.85" text-anchor="middle" font-family="Liberation Sans, sans-serif" font-weight="bold" stroke="#111" stroke-width="0.15" stroke-linejoin="round" fill="#111111">600</text>
<text x="418.6" y="401.95" font-size="8.2" text-anchor="middle" font-family="Liberation Sans, sans-serif" font-weight="bold" stroke="#111" stroke-width="0.15" stroke-linejoin="round" fill="#111111">Wavelength/nm</text>
<text transform="translate(287.6,298.7) rotate(-90) scale(1.09,1)" font-size="7.5" text-anchor="middle" font-family="Liberation Sans, sans-serif" font-weight="bold" stroke="#111" stroke-width="0.15" stroke-linejoin="round" fill="#111111">Fluorescence intensity</text>
<text x="386.9" y="236" font-size="9.2" text-anchor="middle" font-family="Liberation Sans, sans-serif" font-weight="bold" stroke="#111" stroke-width="0.15" stroke-linejoin="round" fill="#111111">473 nm</text>
<text transform="translate(282.1,196.3) scale(1.1,1)" font-size="10.9" font-family="Liberation Sans, sans-serif" font-weight="bold" stroke="#111" stroke-width="0.15" stroke-linejoin="round" fill="#111111">(D)</text>
<path d="M172,9.4 L172,85.2 L275.5,85.2" fill="none" stroke="#2a2a2a" stroke-width="0.9"/>
<path d="M171,81.05 h1 M170.2,76.6 h1.8 M171,72.15 h1 M170.2,67.7 h1.8 M171,63.25 h1 M170.2,58.8 h1.8 M171,54.35 h1 M170.2,49.9 h1.8 M171,45.45 h1 M170.2,41 h1.8 M171,36.55 h1 M170.2,32.1 h1.8 M171,27.65 h1 M170.2,23.2 h1.8 M171,18.75 h1 M170.2,14.3 h1.8 M171,9.85 h1 M176.4,85.2 v1.9 M187.4,85.2 v1.1 M198.4,85.2 v1.9 M209.4,85.2 v1.1 M220.4,85.2 v1.9 M231.4,85.2 v1.1 M242.4,85.2 v1.9 M253.4,85.2 v1.1 M264.4,85.2 v1.9 M275.4,85.2 v1.1" stroke="#2a2a2a" stroke-width="0.8" fill="none"/>
<rect x="174.8" y="82.12" width="3.2" height="3.2" fill="#111"/>
<rect x="177.55" y="80.12" width="3.2" height="3.2" fill="#111"/>
<rect x="180.3" y="76.78" width="3.2" height="3.2" fill="#111"/>
<rect x="183.05" y="74.56" width="3.2" height="3.2" fill="#111"/>
<rect x="185.8" y="71" width="3.2" height="3.2" fill="#111"/>
<rect x="188.55" y="68.77" width="3.2" height="3.2" fill="#111"/>
<rect x="191.3" y="65.66" width="3.2" height="3.2" fill="#111"/>
<rect x="207.8" y="51.86" width="3.2" height="3.2" fill="#111"/>
<rect x="224.3" y="29.16" width="3.2" height="3.2" fill="#111"/>
<rect x="240.8" y="16.26" width="3.2" height="3.2" fill="#111"/>
<rect x="257.3" y="14.92" width="3.2" height="3.2" fill="#111"/>
<rect x="273.8" y="14.48" width="3.2" height="3.2" fill="#111"/>
<line x1="176.4" y1="84.61" x2="209.4" y2="53.46" stroke="#f04040" stroke-width="1.15"/>
<text transform="translate(165.38,16.09) scale(1.12,1)" font-size="5" text-anchor="end" font-family="Liberation Sans, sans-serif" font-weight="bold" stroke="#111" stroke-width="0.15" stroke-linejoin="round" fill="#111111">1.6x10</text><text transform="translate(165.58,14.24) scale(1.12,1)" font-size="3.4" font-family="Liberation Sans, sans-serif" font-weight="bold" stroke="#111" stroke-width="0.15" stroke-linejoin="round" fill="#111111">6</text>
<text transform="translate(165.38,24.99) scale(1.12,1)" font-size="5" text-anchor="end" font-family="Liberation Sans, sans-serif" font-weight="bold" stroke="#111" stroke-width="0.15" stroke-linejoin="round" fill="#111111">1.4x10</text><text transform="translate(165.58,23.14) scale(1.12,1)" font-size="3.4" font-family="Liberation Sans, sans-serif" font-weight="bold" stroke="#111" stroke-width="0.15" stroke-linejoin="round" fill="#111111">6</text>
<text transform="translate(165.38,33.89) scale(1.12,1)" font-size="5" text-anchor="end" font-family="Liberation Sans, sans-serif" font-weight="bold" stroke="#111" stroke-width="0.15" stroke-linejoin="round" fill="#111111">1.2x10</text><text transform="translate(165.58,32.04) scale(1.12,1)" font-size="3.4" font-family="Liberation Sans, sans-serif" font-weight="bold" stroke="#111" stroke-width="0.15" stroke-linejoin="round" fill="#111111">6</text>
<text transform="translate(165.38,42.79) scale(1.12,1)" font-size="5" text-anchor="end" font-family="Liberation Sans, sans-serif" font-weight="bold" stroke="#111" stroke-width="0.15" stroke-linejoin="round" fill="#111111">1x10</text><text transform="translate(165.58,40.94) scale(1.12,1)" font-size="3.4" font-family="Liberation Sans, sans-serif" font-weight="bold" stroke="#111" stroke-width="0.15" stroke-linejoin="round" fill="#111111">6</text>
<text transform="translate(165.38,51.69) scale(1.12,1)" font-size="5" text-anchor="end" font-family="Liberation Sans, sans-serif" font-weight="bold" stroke="#111" stroke-width="0.15" stroke-linejoin="round" fill="#111111">8x10</text><text transform="translate(165.58,49.84) scale(1.12,1)" font-size="3.4" font-family="Liberation Sans, sans-serif" font-weight="bold" stroke="#111" stroke-width="0.15" stroke-linejoin="round" fill="#111111">5</text>
<text transform="translate(165.38,60.59) scale(1.12,1)" font-size="5" text-anchor="end" font-family="Liberation Sans, sans-serif" font-weight="bold" stroke="#111" stroke-width="0.15" stroke-linejoin="round" fill="#111111">6x10</text><text transform="translate(165.58,58.74) scale(1.12,1)" font-size="3.4" font-family="Liberation Sans, sans-serif" font-weight="bold" stroke="#111" stroke-width="0.15" stroke-linejoin="round" fill="#111111">5</text>
<text transform="translate(165.38,69.49) scale(1.12,1)" font-size="5" text-anchor="end" font-family="Liberation Sans, sans-serif" font-weight="bold" stroke="#111" stroke-width="0.15" stroke-linejoin="round" fill="#111111">4x10</text><text transform="translate(165.58,67.64) scale(1.12,1)" font-size="3.4" font-family="Liberation Sans, sans-serif" font-weight="bold" stroke="#111" stroke-width="0.15" stroke-linejoin="round" fill="#111111">5</text>
<text transform="translate(165.38,78.39) scale(1.12,1)" font-size="5" text-anchor="end" font-family="Liberation Sans, sans-serif" font-weight="bold" stroke="#111" stroke-width="0.15" stroke-linejoin="round" fill="#111111">2x10</text><text transform="translate(165.58,76.54) scale(1.12,1)" font-size="3.4" font-family="Liberation Sans, sans-serif" font-weight="bold" stroke="#111" stroke-width="0.15" stroke-linejoin="round" fill="#111111">5</text>
<text transform="translate(167.7,87.29) scale(1.12,1)" font-size="5" text-anchor="end" font-family="Liberation Sans, sans-serif" font-weight="bold" stroke="#111" stroke-width="0.15" stroke-linejoin="round" fill="#111111">0</text>
<text x="176.4" y="94.66" font-size="6.3" text-anchor="middle" font-family="Liberation Sans, sans-serif" font-weight="bold" stroke="#111" stroke-width="0.15" stroke-linejoin="round" fill="#111111">0</text>
<text x="198.4" y="94.66" font-size="6.3" text-anchor="middle" font-family="Liberation Sans, sans-serif" font-weight="bold" stroke="#111" stroke-width="0.15" stroke-linejoin="round" fill="#111111">10</text>
<text x="220.4" y="94.66" font-size="6.3" text-anchor="middle" font-family="Liberation Sans, sans-serif" font-weight="bold" stroke="#111" stroke-width="0.15" stroke-linejoin="round" fill="#111111">20</text>
<text x="242.4" y="94.66" font-size="6.3" text-anchor="middle" font-family="Liberation Sans, sans-serif" font-weight="bold" stroke="#111" stroke-width="0.15" stroke-linejoin="round" fill="#111111">30</text>
<text x="264.4" y="94.66" font-size="6.3" text-anchor="middle" font-family="Liberation Sans, sans-serif" font-weight="bold" stroke="#111" stroke-width="0.15" stroke-linejoin="round" fill="#111111">40</text>
<text x="228.3" y="106.68" font-size="6.6" text-anchor="middle" font-family="Liberation Sans, sans-serif" font-weight="bold" stroke="#111" stroke-width="0.15" stroke-linejoin="round" fill="#111111">Wavelength/nm</text>
<text transform="translate(144.2,49) rotate(-90)" font-size="6.75" text-anchor="middle" font-family="Liberation Sans, sans-serif" font-weight="bold" stroke="#111" stroke-width="0.15" stroke-linejoin="round" fill="#111111">Fl. int.at 473 nm</text>
<path d="M437.3,8.1 L437.3,83.5 L540.8,83.5" fill="none" stroke="#2a2a2a" stroke-width="0.9"/>
<path d="M435.5,83.6 h1.8 M436.3,79.18 h1 M435.5,74.76 h1.8 M436.3,70.34 h1 M435.5,65.92 h1.8 M436.3,61.5 h1 M435.5,57.08 h1.8 M436.3,52.66 h1 M435.5,48.24 h1.8 M436.3,43.82 h1 M435.5,39.4 h1.8 M436.3,34.98 h1 M435.5,30.56 h1.8 M436.3,26.14 h1 M435.5,21.72 h1.8 M436.3,17.3 h1 M435.5,12.88 h1.8 M436.3,8.46 h1 M439.6,83.5 v1.9 M445.45,83.5 v1.1 M451.3,83.5 v1.9 M457.15,83.5 v1.1 M463,83.5 v1.9 M468.85,83.5 v1.1 M474.7,83.5 v1.9 M480.55,83.5 v1.1 M486.4,83.5 v1.9 M492.25,83.5 v1.1 M498.1,83.5 v1.9 M503.95,83.5 v1.1 M509.8,83.5 v1.9 M515.65,83.5 v1.1 M521.5,83.5 v1.9 M527.35,83.5 v1.1 M533.2,83.5 v1.9 M539.05,83.5 v1.1" stroke="#2a2a2a" stroke-width="0.8" fill="none"/>
<rect x="438" y="81.12" width="3.2" height="3.2" fill="#111"/>
<rect x="440.93" y="66.53" width="3.2" height="3.2" fill="#111"/>
<rect x="443.85" y="52.39" width="3.2" height="3.2" fill="#111"/>
<rect x="446.77" y="41.34" width="3.2" height="3.2" fill="#111"/>
<rect x="449.7" y="29.4" width="3.2" height="3.2" fill="#111"/>
<rect x="452.62" y="17.91" width="3.2" height="3.2" fill="#111"/>
<rect x="455.55" y="14.82" width="3.2" height="3.2" fill="#111"/>
<rect x="473.1" y="13.49" width="3.2" height="3.2" fill="#111"/>
<rect x="490.65" y="13.49" width="3.2" height="3.2" fill="#111"/>
<rect x="508.2" y="13.49" width="3.2" height="3.2" fill="#111"/>
<rect x="525.75" y="13.93" width="3.2" height="3.2" fill="#111"/>
<line x1="439.6" y1="83.6" x2="454.58" y2="17.3" stroke="#f04040" stroke-width="1.15"/>
<text transform="translate(430.68,14.67) scale(1.12,1)" font-size="5" text-anchor="end" font-family="Liberation Sans, sans-serif" font-weight="bold" stroke="#111" stroke-width="0.15" stroke-linejoin="round" fill="#111111">1.6x10</text><text transform="translate(430.88,12.82) scale(1.12,1)" font-size="3.4" font-family="Liberation Sans, sans-serif" font-weight="bold" stroke="#111" stroke-width="0.15" stroke-linejoin="round" fill="#111111">6</text>
<text transform="translate(430.68,23.51) scale(1.12,1)" font-size="5" text-anchor="end" font-family="Liberation Sans, sans-serif" font-weight="bold" stroke="#111" stroke-width="0.15" stroke-linejoin="round" fill="#111111">1.4x10</text><text transform="translate(430.88,21.66) scale(1.12,1)" font-size="3.4" font-family="Liberation Sans, sans-serif" font-weight="bold" stroke="#111" stroke-width="0.15" stroke-linejoin="round" fill="#111111">6</text>
<text transform="translate(430.68,32.35) scale(1.12,1)" font-size="5" text-anchor="end" font-family="Liberation Sans, sans-serif" font-weight="bold" stroke="#111" stroke-width="0.15" stroke-linejoin="round" fill="#111111">1.2x10</text><text transform="translate(430.88,30.5) scale(1.12,1)" font-size="3.4" font-family="Liberation Sans, sans-serif" font-weight="bold" stroke="#111" stroke-width="0.15" stroke-linejoin="round" fill="#111111">6</text>
<text transform="translate(430.68,41.19) scale(1.12,1)" font-size="5" text-anchor="end" font-family="Liberation Sans, sans-serif" font-weight="bold" stroke="#111" stroke-width="0.15" stroke-linejoin="round" fill="#111111">1x10</text><text transform="translate(430.88,39.34) scale(1.12,1)" font-size="3.4" font-family="Liberation Sans, sans-serif" font-weight="bold" stroke="#111" stroke-width="0.15" stroke-linejoin="round" fill="#111111">6</text>
<text transform="translate(430.68,50.03) scale(1.12,1)" font-size="5" text-anchor="end" font-family="Liberation Sans, sans-serif" font-weight="bold" stroke="#111" stroke-width="0.15" stroke-linejoin="round" fill="#111111">8x10</text><text transform="translate(430.88,48.18) scale(1.12,1)" font-size="3.4" font-family="Liberation Sans, sans-serif" font-weight="bold" stroke="#111" stroke-width="0.15" stroke-linejoin="round" fill="#111111">5</text>
<text transform="translate(430.68,58.87) scale(1.12,1)" font-size="5" text-anchor="end" font-family="Liberation Sans, sans-serif" font-weight="bold" stroke="#111" stroke-width="0.15" stroke-linejoin="round" fill="#111111">6x10</text><text transform="translate(430.88,57.02) scale(1.12,1)" font-size="3.4" font-family="Liberation Sans, sans-serif" font-weight="bold" stroke="#111" stroke-width="0.15" stroke-linejoin="round" fill="#111111">5</text>
<text transform="translate(430.68,67.71) scale(1.12,1)" font-size="5" text-anchor="end" font-family="Liberation Sans, sans-serif" font-weight="bold" stroke="#111" stroke-width="0.15" stroke-linejoin="round" fill="#111111">4x10</text><text transform="translate(430.88,65.86) scale(1.12,1)" font-size="3.4" font-family="Liberation Sans, sans-serif" font-weight="bold" stroke="#111" stroke-width="0.15" stroke-linejoin="round" fill="#111111">5</text>
<text transform="translate(430.68,76.55) scale(1.12,1)" font-size="5" text-anchor="end" font-family="Liberation Sans, sans-serif" font-weight="bold" stroke="#111" stroke-width="0.15" stroke-linejoin="round" fill="#111111">2x10</text><text transform="translate(430.88,74.7) scale(1.12,1)" font-size="3.4" font-family="Liberation Sans, sans-serif" font-weight="bold" stroke="#111" stroke-width="0.15" stroke-linejoin="round" fill="#111111">5</text>
<text x="439.6" y="92.76" font-size="6.3" text-anchor="middle" font-family="Liberation Sans, sans-serif" font-weight="bold" stroke="#111" stroke-width="0.15" stroke-linejoin="round" fill="#111111">0</text>
<text x="451.3" y="92.76" font-size="6.3" text-anchor="middle" font-family="Liberation Sans, sans-serif" font-weight="bold" stroke="#111" stroke-width="0.15" stroke-linejoin="round" fill="#111111">5</text>
<text x="463" y="92.76" font-size="6.3" text-anchor="middle" font-family="Liberation Sans, sans-serif" font-weight="bold" stroke="#111" stroke-width="0.15" stroke-linejoin="round" fill="#111111">10</text>
<text x="474.7" y="92.76" font-size="6.3" text-anchor="middle" font-family="Liberation Sans, sans-serif" font-weight="bold" stroke="#111" stroke-width="0.15" stroke-linejoin="round" fill="#111111">15</text>
<text x="486.4" y="92.76" font-size="6.3" text-anchor="middle" font-family="Liberation Sans, sans-serif" font-weight="bold" stroke="#111" stroke-width="0.15" stroke-linejoin="round" fill="#111111">20</text>
<text x="498.1" y="92.76" font-size="6.3" text-anchor="middle" font-family="Liberation Sans, sans-serif" font-weight="bold" stroke="#111" stroke-width="0.15" stroke-linejoin="round" fill="#111111">25</text>
<text x="509.8" y="92.76" font-size="6.3" text-anchor="middle" font-family="Liberation Sans, sans-serif" font-weight="bold" stroke="#111" stroke-width="0.15" stroke-linejoin="round" fill="#111111">30</text>
<text x="521.5" y="92.76" font-size="6.3" text-anchor="middle" font-family="Liberation Sans, sans-serif" font-weight="bold" stroke="#111" stroke-width="0.15" stroke-linejoin="round" fill="#111111">35</text>
<text x="533.2" y="92.76" font-size="6.3" text-anchor="middle" font-family="Liberation Sans, sans-serif" font-weight="bold" stroke="#111" stroke-width="0.15" stroke-linejoin="round" fill="#111111">40</text>
<text x="488.6" y="104.88" font-size="6.6" text-anchor="middle" font-family="Liberation Sans, sans-serif" font-weight="bold" stroke="#111" stroke-width="0.15" stroke-linejoin="round" fill="#111111">Wavelength/nm</text>
<text transform="translate(409.6,44.6) rotate(-90)" font-size="6.5" text-anchor="middle" font-family="Liberation Sans, sans-serif" font-weight="bold" stroke="#111" stroke-width="0.15" stroke-linejoin="round" fill="#111111">Fl. int. at 473 nm</text>
<path d="M169.9,195.5 L169.9,270.9 L274,270.9" fill="none" stroke="#2a2a2a" stroke-width="0.9"/>
<path d="M168.9,270.9 h1 M168.1,266.25 h1.8 M168.9,261.6 h1 M168.1,256.95 h1.8 M168.9,252.3 h1 M168.1,247.65 h1.8 M168.9,243 h1 M168.1,238.35 h1.8 M168.9,233.7 h1 M168.1,229.05 h1.8 M168.9,224.4 h1 M168.1,219.75 h1.8 M168.9,215.1 h1 M168.1,210.45 h1.8 M168.9,205.8 h1 M168.1,201.15 h1.8 M168.9,196.5 h1 M174.33,270.9 v1.1 M180.5,270.9 v1.9 M186.68,270.9 v1.1 M192.85,270.9 v1.9 M199.03,270.9 v1.1 M205.2,270.9 v1.9 M211.38,270.9 v1.1 M217.55,270.9 v1.9 M223.73,270.9 v1.1 M229.9,270.9 v1.9 M236.08,270.9 v1.1 M242.25,270.9 v1.9 M248.43,270.9 v1.1 M254.6,270.9 v1.9 M260.78,270.9 v1.1 M266.95,270.9 v1.9 M273.12,270.9 v1.1" stroke="#2a2a2a" stroke-width="0.8" fill="none"/>
<rect x="169.64" y="267.9" width="3.2" height="3.2" fill="#111"/>
<rect x="172.73" y="262.56" width="3.2" height="3.2" fill="#111"/>
<rect x="175.81" y="255.82" width="3.2" height="3.2" fill="#111"/>
<rect x="178.9" y="248.38" width="3.2" height="3.2" fill="#111"/>
<rect x="181.99" y="241.4" width="3.2" height="3.2" fill="#111"/>
<rect x="185.08" y="234.89" width="3.2" height="3.2" fill="#111"/>
<rect x="203.6" y="206.99" width="3.2" height="3.2" fill="#111"/>
<rect x="222.13" y="203.74" width="3.2" height="3.2" fill="#111"/>
<rect x="240.65" y="203.27" width="3.2" height="3.2" fill="#111"/>
<rect x="259.18" y="203.27" width="3.2" height="3.2" fill="#111"/>
<line x1="170.62" y1="271.37" x2="205.2" y2="208.12" stroke="#f04040" stroke-width="1.15"/>
<text transform="translate(163.28,202.94) scale(1.12,1)" font-size="5" text-anchor="end" font-family="Liberation Sans, sans-serif" font-weight="bold" stroke="#111" stroke-width="0.15" stroke-linejoin="round" fill="#111111">1.6x10</text><text transform="translate(163.48,201.09) scale(1.12,1)" font-size="3.4" font-family="Liberation Sans, sans-serif" font-weight="bold" stroke="#111" stroke-width="0.15" stroke-linejoin="round" fill="#111111">6</text>
<text transform="translate(163.28,212.24) scale(1.12,1)" font-size="5" text-anchor="end" font-family="Liberation Sans, sans-serif" font-weight="bold" stroke="#111" stroke-width="0.15" stroke-linejoin="round" fill="#111111">1.4x10</text><text transform="translate(163.48,210.39) scale(1.12,1)" font-size="3.4" font-family="Liberation Sans, sans-serif" font-weight="bold" stroke="#111" stroke-width="0.15" stroke-linejoin="round" fill="#111111">6</text>
<text transform="translate(163.28,221.54) scale(1.12,1)" font-size="5" text-anchor="end" font-family="Liberation Sans, sans-serif" font-weight="bold" stroke="#111" stroke-width="0.15" stroke-linejoin="round" fill="#111111">1.2x10</text><text transform="translate(163.48,219.69) scale(1.12,1)" font-size="3.4" font-family="Liberation Sans, sans-serif" font-weight="bold" stroke="#111" stroke-width="0.15" stroke-linejoin="round" fill="#111111">6</text>
<text transform="translate(163.28,230.84) scale(1.12,1)" font-size="5" text-anchor="end" font-family="Liberation Sans, sans-serif" font-weight="bold" stroke="#111" stroke-width="0.15" stroke-linejoin="round" fill="#111111">1x10</text><text transform="translate(163.48,228.99) scale(1.12,1)" font-size="3.4" font-family="Liberation Sans, sans-serif" font-weight="bold" stroke="#111" stroke-width="0.15" stroke-linejoin="round" fill="#111111">6</text>
<text transform="translate(163.28,240.14) scale(1.12,1)" font-size="5" text-anchor="end" font-family="Liberation Sans, sans-serif" font-weight="bold" stroke="#111" stroke-width="0.15" stroke-linejoin="round" fill="#111111">8x10</text><text transform="translate(163.48,238.29) scale(1.12,1)" font-size="3.4" font-family="Liberation Sans, sans-serif" font-weight="bold" stroke="#111" stroke-width="0.15" stroke-linejoin="round" fill="#111111">5</text>
<text transform="translate(163.28,249.44) scale(1.12,1)" font-size="5" text-anchor="end" font-family="Liberation Sans, sans-serif" font-weight="bold" stroke="#111" stroke-width="0.15" stroke-linejoin="round" fill="#111111">6x10</text><text transform="translate(163.48,247.59) scale(1.12,1)" font-size="3.4" font-family="Liberation Sans, sans-serif" font-weight="bold" stroke="#111" stroke-width="0.15" stroke-linejoin="round" fill="#111111">5</text>
<text transform="translate(163.28,258.74) scale(1.12,1)" font-size="5" text-anchor="end" font-family="Liberation Sans, sans-serif" font-weight="bold" stroke="#111" stroke-width="0.15" stroke-linejoin="round" fill="#111111">4x10</text><text transform="translate(163.48,256.89) scale(1.12,1)" font-size="3.4" font-family="Liberation Sans, sans-serif" font-weight="bold" stroke="#111" stroke-width="0.15" stroke-linejoin="round" fill="#111111">5</text>
<text transform="translate(163.28,268.04) scale(1.12,1)" font-size="5" text-anchor="end" font-family="Liberation Sans, sans-serif" font-weight="bold" stroke="#111" stroke-width="0.15" stroke-linejoin="round" fill="#111111">2x10</text><text transform="translate(163.48,266.19) scale(1.12,1)" font-size="3.4" font-family="Liberation Sans, sans-serif" font-weight="bold" stroke="#111" stroke-width="0.15" stroke-linejoin="round" fill="#111111">5</text>
<text x="180.5" y="280.66" font-size="6.3" text-anchor="middle" font-family="Liberation Sans, sans-serif" font-weight="bold" stroke="#111" stroke-width="0.15" stroke-linejoin="round" fill="#111111">5</text>
<text x="192.85" y="280.66" font-size="6.3" text-anchor="middle" font-family="Liberation Sans, sans-serif" font-weight="bold" stroke="#111" stroke-width="0.15" stroke-linejoin="round" fill="#111111">10</text>
<text x="205.2" y="280.66" font-size="6.3" text-anchor="middle" font-family="Liberation Sans, sans-serif" font-weight="bold" stroke="#111" stroke-width="0.15" stroke-linejoin="round" fill="#111111">15</text>
<text x="217.55" y="280.66" font-size="6.3" text-anchor="middle" font-family="Liberation Sans, sans-serif" font-weight="bold" stroke="#111" stroke-width="0.15" stroke-linejoin="round" fill="#111111">20</text>
<text x="229.9" y="280.66" font-size="6.3" text-anchor="middle" font-family="Liberation Sans, sans-serif" font-weight="bold" stroke="#111" stroke-width="0.15" stroke-linejoin="round" fill="#111111">25</text>
<text x="242.25" y="280.66" font-size="6.3" text-anchor="middle" font-family="Liberation Sans, sans-serif" font-weight="bold" stroke="#111" stroke-width="0.15" stroke-linejoin="round" fill="#111111">30</text>
<text x="254.6" y="280.66" font-size="6.3" text-anchor="middle" font-family="Liberation Sans, sans-serif" font-weight="bold" stroke="#111" stroke-width="0.15" stroke-linejoin="round" fill="#111111">35</text>
<text x="266.95" y="280.66" font-size="6.3" text-anchor="middle" font-family="Liberation Sans, sans-serif" font-weight="bold" stroke="#111" stroke-width="0.15" stroke-linejoin="round" fill="#111111">40</text>
<text x="221" y="293.08" font-size="6.6" text-anchor="middle" font-family="Liberation Sans, sans-serif" font-weight="bold" stroke="#111" stroke-width="0.15" stroke-linejoin="round" fill="#111111">Wavelength/nm</text>
<text transform="translate(142,233.3) rotate(-90)" font-size="6.5" text-anchor="middle" font-family="Liberation Sans, sans-serif" font-weight="bold" stroke="#111" stroke-width="0.15" stroke-linejoin="round" fill="#111111">Fl. int. at 473 nm</text>
<path d="M438,199 L438,273.6 L545,273.6" fill="none" stroke="#2a2a2a" stroke-width="0.9"/>
<path d="M436.2,273.4 h1.8 M437,268.98 h1 M436.2,264.56 h1.8 M437,260.14 h1 M436.2,255.72 h1.8 M437,251.3 h1 M436.2,246.88 h1.8 M437,242.46 h1 M436.2,238.04 h1.8 M437,233.62 h1 M436.2,229.2 h1.8 M437,224.78 h1 M436.2,220.36 h1.8 M437,215.94 h1 M436.2,211.52 h1.8 M437,207.1 h1 M436.2,202.68 h1.8 M441.4,273.6 v1.9 M447.45,273.6 v1.1 M453.5,273.6 v1.9 M459.55,273.6 v1.1 M465.6,273.6 v1.9 M471.65,273.6 v1.1 M477.7,273.6 v1.9 M483.75,273.6 v1.1 M489.8,273.6 v1.9 M495.85,273.6 v1.1 M501.9,273.6 v1.9 M507.95,273.6 v1.1 M514,273.6 v1.9 M520.05,273.6 v1.1 M526.1,273.6 v1.9 M532.15,273.6 v1.1 M538.2,273.6 v1.9 M544.25,273.6 v1.1" stroke="#2a2a2a" stroke-width="0.8" fill="none"/>
<rect x="439.8" y="271.14" width="3.2" height="3.2" fill="#111"/>
<rect x="442.82" y="261.85" width="3.2" height="3.2" fill="#111"/>
<rect x="445.85" y="250.14" width="3.2" height="3.2" fill="#111"/>
<rect x="448.87" y="237.77" width="3.2" height="3.2" fill="#111"/>
<rect x="451.9" y="228.7" width="3.2" height="3.2" fill="#111"/>
<rect x="454.92" y="222.3" width="3.2" height="3.2" fill="#111"/>
<rect x="457.95" y="211.69" width="3.2" height="3.2" fill="#111"/>
<rect x="476.1" y="206.83" width="3.2" height="3.2" fill="#111"/>
<rect x="494.25" y="205.5" width="3.2" height="3.2" fill="#111"/>
<rect x="512.4" y="205.06" width="3.2" height="3.2" fill="#111"/>
<rect x="530.55" y="205.06" width="3.2" height="3.2" fill="#111"/>
<line x1="441.4" y1="273.4" x2="460.03" y2="212.4" stroke="#f04040" stroke-width="1.15"/>
<text transform="translate(431.38,204.47) scale(1.12,1)" font-size="5" text-anchor="end" font-family="Liberation Sans, sans-serif" font-weight="bold" stroke="#111" stroke-width="0.15" stroke-linejoin="round" fill="#111111">1.6x10</text><text transform="translate(431.58,202.62) scale(1.12,1)" font-size="3.4" font-family="Liberation Sans, sans-serif" font-weight="bold" stroke="#111" stroke-width="0.15" stroke-linejoin="round" fill="#111111">6</text>
<text transform="translate(431.38,213.31) scale(1.12,1)" font-size="5" text-anchor="end" font-family="Liberation Sans, sans-serif" font-weight="bold" stroke="#111" stroke-width="0.15" stroke-linejoin="round" fill="#111111">1.4x10</text><text transform="translate(431.58,211.46) scale(1.12,1)" font-size="3.4" font-family="Liberation Sans, sans-serif" font-weight="bold" stroke="#111" stroke-width="0.15" stroke-linejoin="round" fill="#111111">6</text>
<text transform="translate(431.38,222.15) scale(1.12,1)" font-size="5" text-anchor="end" font-family="Liberation Sans, sans-serif" font-weight="bold" stroke="#111" stroke-width="0.15" stroke-linejoin="round" fill="#111111">1.2x10</text><text transform="translate(431.58,220.3) scale(1.12,1)" font-size="3.4" font-family="Liberation Sans, sans-serif" font-weight="bold" stroke="#111" stroke-width="0.15" stroke-linejoin="round" fill="#111111">6</text>
<text transform="translate(431.38,230.99) scale(1.12,1)" font-size="5" text-anchor="end" font-family="Liberation Sans, sans-serif" font-weight="bold" stroke="#111" stroke-width="0.15" stroke-linejoin="round" fill="#111111">1x10</text><text transform="translate(431.58,229.14) scale(1.12,1)" font-size="3.4" font-family="Liberation Sans, sans-serif" font-weight="bold" stroke="#111" stroke-width="0.15" stroke-linejoin="round" fill="#111111">6</text>
<text transform="translate(431.38,239.83) scale(1.12,1)" font-size="5" text-anchor="end" font-family="Liberation Sans, sans-serif" font-weight="bold" stroke="#111" stroke-width="0.15" stroke-linejoin="round" fill="#111111">8x10</text><text transform="translate(431.58,237.98) scale(1.12,1)" font-size="3.4" font-family="Liberation Sans, sans-serif" font-weight="bold" stroke="#111" stroke-width="0.15" stroke-linejoin="round" fill="#111111">5</text>
<text transform="translate(431.38,248.67) scale(1.12,1)" font-size="5" text-anchor="end" font-family="Liberation Sans, sans-serif" font-weight="bold" stroke="#111" stroke-width="0.15" stroke-linejoin="round" fill="#111111">6x10</text><text transform="translate(431.58,246.82) scale(1.12,1)" font-size="3.4" font-family="Liberation Sans, sans-serif" font-weight="bold" stroke="#111" stroke-width="0.15" stroke-linejoin="round" fill="#111111">5</text>
<text transform="translate(431.38,257.51) scale(1.12,1)" font-size="5" text-anchor="end" font-family="Liberation Sans, sans-serif" font-weight="bold" stroke="#111" stroke-width="0.15" stroke-linejoin="round" fill="#111111">4x10</text><text transform="translate(431.58,255.66) scale(1.12,1)" font-size="3.4" font-family="Liberation Sans, sans-serif" font-weight="bold" stroke="#111" stroke-width="0.15" stroke-linejoin="round" fill="#111111">5</text>
<text transform="translate(431.38,266.35) scale(1.12,1)" font-size="5" text-anchor="end" font-family="Liberation Sans, sans-serif" font-weight="bold" stroke="#111" stroke-width="0.15" stroke-linejoin="round" fill="#111111">2x10</text><text transform="translate(431.58,264.5) scale(1.12,1)" font-size="3.4" font-family="Liberation Sans, sans-serif" font-weight="bold" stroke="#111" stroke-width="0.15" stroke-linejoin="round" fill="#111111">5</text>
<text transform="translate(433.7,275.19) scale(1.12,1)" font-size="5" text-anchor="end" font-family="Liberation Sans, sans-serif" font-weight="bold" stroke="#111" stroke-width="0.15" stroke-linejoin="round" fill="#111111">0</text>
<text x="441.4" y="282.66" font-size="6.3" text-anchor="middle" font-family="Liberation Sans, sans-serif" font-weight="bold" stroke="#111" stroke-width="0.15" stroke-linejoin="round" fill="#111111">0</text>
<text x="453.5" y="282.66" font-size="6.3" text-anchor="middle" font-family="Liberation Sans, sans-serif" font-weight="bold" stroke="#111" stroke-width="0.15" stroke-linejoin="round" fill="#111111">5</text>
<text x="465.6" y="282.66" font-size="6.3" text-anchor="middle" font-family="Liberation Sans, sans-serif" font-weight="bold" stroke="#111" stroke-width="0.15" stroke-linejoin="round" fill="#111111">10</text>
<text x="477.7" y="282.66" font-size="6.3" text-anchor="middle" font-family="Liberation Sans, sans-serif" font-weight="bold" stroke="#111" stroke-width="0.15" stroke-linejoin="round" fill="#111111">15</text>
<text x="489.8" y="282.66" font-size="6.3" text-anchor="middle" font-family="Liberation Sans, sans-serif" font-weight="bold" stroke="#111" stroke-width="0.15" stroke-linejoin="round" fill="#111111">20</text>
<text x="501.9" y="282.66" font-size="6.3" text-anchor="middle" font-family="Liberation Sans, sans-serif" font-weight="bold" stroke="#111" stroke-width="0.15" stroke-linejoin="round" fill="#111111">25</text>
<text x="514" y="282.66" font-size="6.3" text-anchor="middle" font-family="Liberation Sans, sans-serif" font-weight="bold" stroke="#111" stroke-width="0.15" stroke-linejoin="round" fill="#111111">30</text>
<text x="526.1" y="282.66" font-size="6.3" text-anchor="middle" font-family="Liberation Sans, sans-serif" font-weight="bold" stroke="#111" stroke-width="0.15" stroke-linejoin="round" fill="#111111">35</text>
<text x="538.2" y="282.66" font-size="6.3" text-anchor="middle" font-family="Liberation Sans, sans-serif" font-weight="bold" stroke="#111" stroke-width="0.15" stroke-linejoin="round" fill="#111111">40</text>
<text x="490.8" y="294.94" font-size="6.5" text-anchor="middle" font-family="Liberation Sans, sans-serif" font-weight="bold" stroke="#111" stroke-width="0.15" stroke-linejoin="round" fill="#111111">Wavelength/nm</text>
<text transform="translate(411.6,234.5) rotate(-90)" font-size="6.6" text-anchor="middle" font-family="Liberation Sans, sans-serif" font-weight="bold" stroke="#111" stroke-width="0.15" stroke-linejoin="round" fill="#111111">Fl. int. at 473 nm</text>
</g>
</svg>
</body></html>
